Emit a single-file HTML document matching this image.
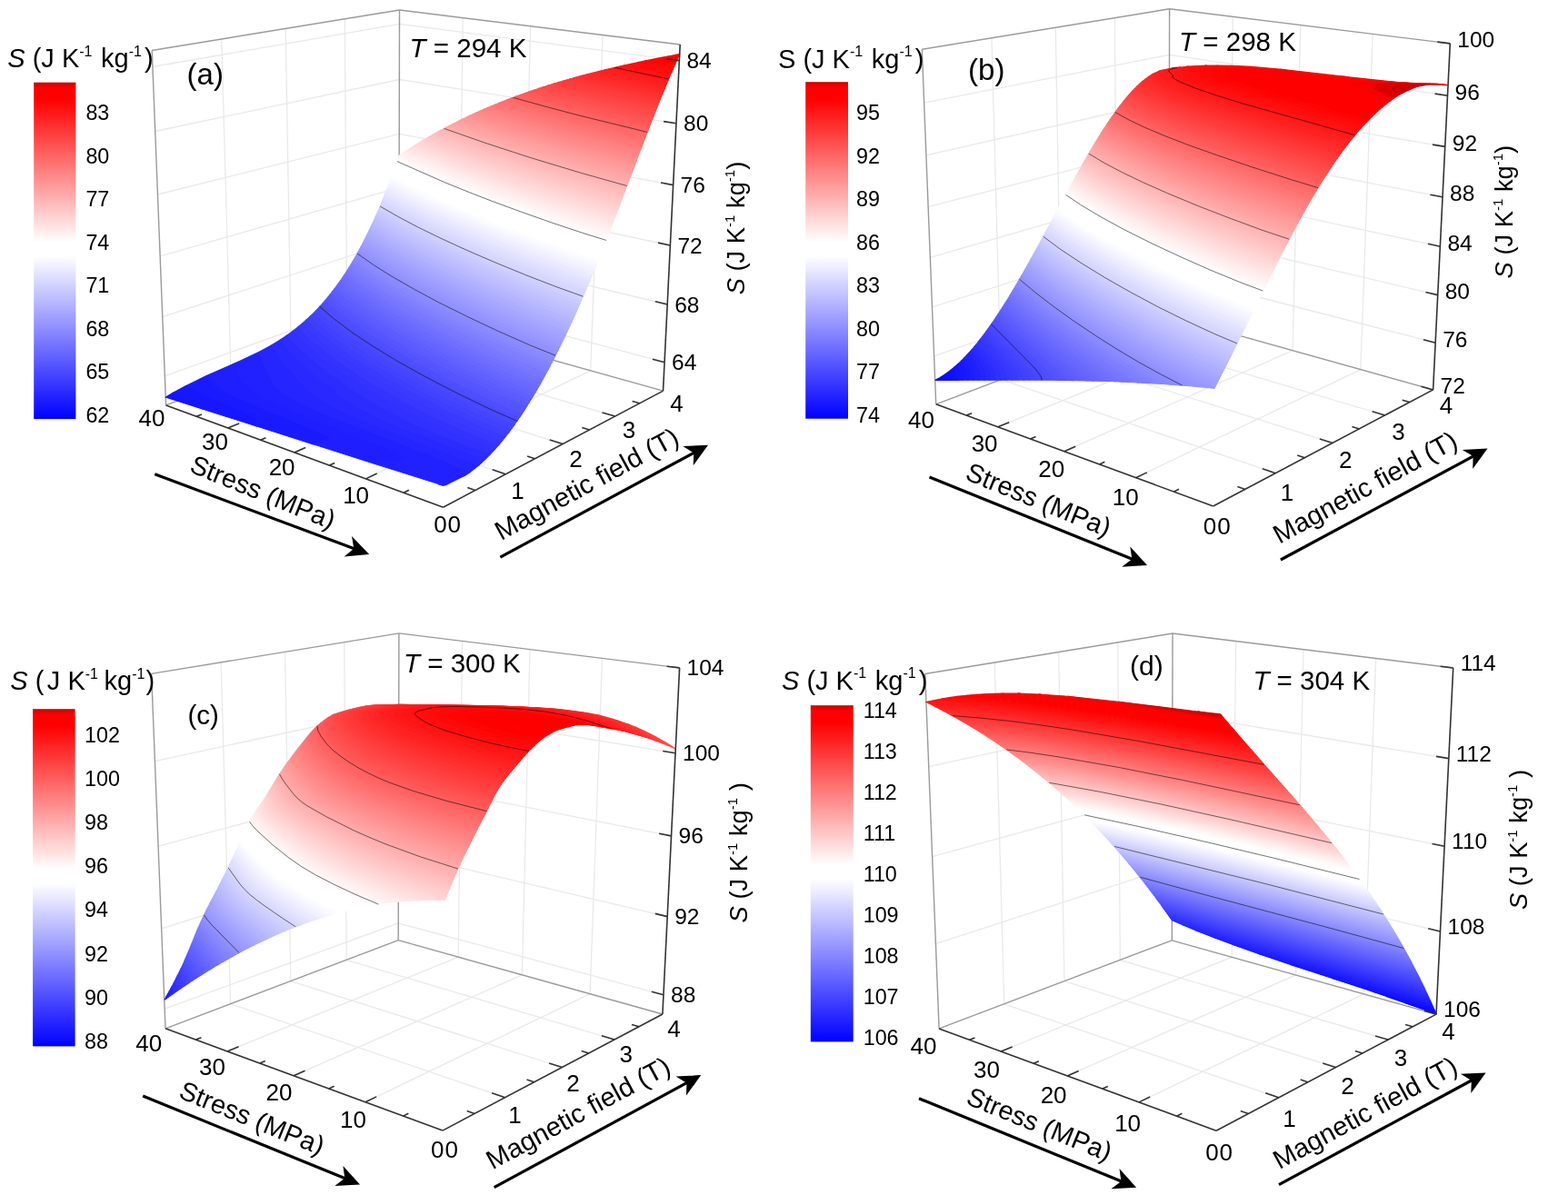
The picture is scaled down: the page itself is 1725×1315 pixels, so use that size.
<!DOCTYPE html>
<html><head><meta charset="utf-8"><style>
html,body{margin:0;padding:0;background:#fff;}
svg{display:block;}
text{font-family:'Liberation Sans',Arial,sans-serif;fill:#000;}
</style></head><body>
<svg width="1725" height="1315" viewBox="0 0 1725 1315">
<rect width="1725" height="1315" fill="#fff"/>
<g id="pa">
<line x1="254.2" y1="418.8" x2="243.8" y2="43" stroke="#e9e9e9" stroke-width="1.3"/>
<line x1="649.7" y1="407.8" x2="663.1" y2="38.5" stroke="#e9e9e9" stroke-width="1.3"/>
<line x1="402.5" y1="526.9" x2="649.7" y2="407.8" stroke="#e9e9e9" stroke-width="1.3"/>
<line x1="556.2" y1="521.8" x2="254.2" y2="418.8" stroke="#e9e9e9" stroke-width="1.3"/>
<line x1="320.4" y1="393.7" x2="314.2" y2="31.5" stroke="#e9e9e9" stroke-width="1.3"/>
<line x1="575" y1="386.9" x2="583.6" y2="28.7" stroke="#e9e9e9" stroke-width="1.3"/>
<line x1="323.7" y1="497.9" x2="575" y2="386.9" stroke="#e9e9e9" stroke-width="1.3"/>
<line x1="619" y1="488.6" x2="320.4" y2="393.7" stroke="#e9e9e9" stroke-width="1.3"/>
<line x1="381.8" y1="370.4" x2="379.3" y2="20.8" stroke="#e9e9e9" stroke-width="1.3"/>
<line x1="504.8" y1="367.2" x2="509.2" y2="19.6" stroke="#e9e9e9" stroke-width="1.3"/>
<line x1="250.7" y1="471" x2="504.8" y2="367.2" stroke="#e9e9e9" stroke-width="1.3"/>
<line x1="676.6" y1="458.1" x2="381.8" y2="370.4" stroke="#e9e9e9" stroke-width="1.3"/>
<line x1="181.3" y1="413.8" x2="438.9" y2="320.8" stroke="#e9e9e9" stroke-width="1.3"/>
<line x1="438.9" y1="320.8" x2="731.1" y2="398.7" stroke="#e9e9e9" stroke-width="1.3"/>
<line x1="178.8" y1="348.6" x2="439" y2="264" stroke="#e9e9e9" stroke-width="1.3"/>
<line x1="439" y1="264" x2="734.2" y2="335" stroke="#e9e9e9" stroke-width="1.3"/>
<line x1="176.1" y1="282" x2="439.1" y2="206.3" stroke="#e9e9e9" stroke-width="1.3"/>
<line x1="439.1" y1="206.3" x2="737.4" y2="270" stroke="#e9e9e9" stroke-width="1.3"/>
<line x1="173.5" y1="214" x2="439.2" y2="147.4" stroke="#e9e9e9" stroke-width="1.3"/>
<line x1="439.2" y1="147.4" x2="740.6" y2="203.6" stroke="#e9e9e9" stroke-width="1.3"/>
<line x1="170.7" y1="144.5" x2="439.3" y2="87.5" stroke="#e9e9e9" stroke-width="1.3"/>
<line x1="439.3" y1="87.5" x2="744" y2="135.8" stroke="#e9e9e9" stroke-width="1.3"/>
<line x1="167.9" y1="73.5" x2="439.5" y2="26.4" stroke="#e9e9e9" stroke-width="1.3"/>
<line x1="439.5" y1="26.4" x2="747.4" y2="66.6" stroke="#e9e9e9" stroke-width="1.3"/>
<line x1="182.6" y1="445.9" x2="167.2" y2="55.5" stroke="#9a9a9a" stroke-width="1.4"/>
<line x1="438.8" y1="348.8" x2="439.5" y2="11" stroke="#9a9a9a" stroke-width="1.4"/>
<line x1="167.2" y1="55.5" x2="439.5" y2="11" stroke="#9a9a9a" stroke-width="1.4"/>
<line x1="439.5" y1="11" x2="748.2" y2="49" stroke="#9a9a9a" stroke-width="1.4"/>
<line x1="182.6" y1="445.9" x2="438.8" y2="348.8" stroke="#9a9a9a" stroke-width="1.4"/>
<line x1="438.8" y1="348.8" x2="729.5" y2="430.1" stroke="#9a9a9a" stroke-width="1.4"/>
<path fill="#1414ff" stroke="#1414ff" stroke-width="1.1" d="M223.3 450.2L182.3 437.1L190.4 432.2L209.9 440.8L223.3 450.2Z"/>
<path fill="#1717ff" stroke="#1717ff" stroke-width="1.1" d="M282.1 468.9L223.3 450.2L209.9 440.8L190.4 432.2L204.8 424.4L226.9 435.5L282.8 459.4L283.4 462L281.1 464.4L282.1 468.9Z"/>
<path fill="#1a1aff" stroke="#1a1aff" stroke-width="1.1" d="M364.3 481.4L344.5 488.8L282.1 468.9L281.1 464.4L283.4 462L282.8 459.4L226.9 435.5L204.8 424.4L227.2 413.5L231.1 419.2L236.9 424.2L245.3 429.7L256.3 435.5L277.7 445.2L340.7 470.8L364.3 481.4Z"/>
<path fill="#1e1eff" stroke="#1e1eff" stroke-width="1.1" d="M449.6 504.8L441.4 506.2L431.9 509.2L426.2 510L411 510L344.5 488.8L364.3 481.4L340.7 470.8L277.7 445.2L256.3 435.5L245.3 429.7L236.9 424.2L231.1 419.2L227.2 413.5L261.7 398.3L261.8 409.9L263 414.3L265 418.4L267.9 422.2L272.6 426.6L285.9 435.4L298.9 442.1L316.3 449.9L413.5 488.5L433.8 497.2L449.6 504.8Z"/>
<path fill="#2121ff" stroke="#2121ff" stroke-width="1.1" d="M512.5 522.7L490.5 533.6L483.9 532.9L411 510L426.2 510L431.9 509.2L441.4 506.2L449.6 504.8L433.8 497.2L413.5 488.5L316.3 449.9L298.9 442.1L285.9 435.4L272.6 426.6L267.9 422.2L265 418.4L263 414.3L261.8 409.9L261.7 398.3L284.6 387.5L295 411.7L300.2 420.9L304.2 425.7L309 430.2L321.1 438.6L337.4 447.1L360.2 457.2L473.8 501.1L499.4 511.8L516.7 519.8L512.5 522.7Z"/>
<path fill="#2525ff" stroke="#2525ff" stroke-width="1.1" d="M487.7 534.5L482.1 532.7L490.5 533.6L487.7 534.5ZM523.2 514.8L516.7 519.8L499.4 511.8L473.8 501.1L363.6 458.6L343.5 450L328.1 442.5L312.4 432.8L306 427.5L301.7 422.8L295.5 412.8L284.6 387.5L298.2 380.1L315.9 403.7L326.9 416.7L335.7 426.2L342.8 432.6L349.7 437.9L366.2 447.8L385.3 457L409.9 467.3L526.8 511.9L523.2 514.8Z"/>
<path fill="#2828ff" stroke="#2828ff" stroke-width="1.1" d="M530 509L526.8 511.9L406.3 465.8L380.3 454.7L361.8 445.4L346.1 435.3L333.9 424.3L314.4 401.8L298.2 380.1L308 374.1L315.9 383.6L325.7 393.9L349.3 415.6L375 435.9L385.2 442.8L396.4 449.5L415.3 459.2L440 469.9L533.7 505.5L530 509Z"/>
<path fill="#2c2cff" stroke="#2c2cff" stroke-width="1.1" d="M535.4 503.9L533.7 505.5L453.1 475.1L419.5 461.1L395 448.7L383.9 441.9L373.8 435L348.3 414.7L325.7 393.9L315.9 383.6L308 374.1L315.7 369L324.2 378.1L334.5 388.1L358.6 408.1L388.1 429.2L418.2 447.8L440.3 459.6L464.1 470.6L492.5 482.1L539.3 499.9L535.4 503.9Z"/>
<path fill="#3030ff" stroke="#3030ff" stroke-width="1.1" d="M540 499.2L539.3 499.9L492.5 482.1L465.9 471.4L439.9 459.4L415.2 446.1L385.6 427.5L357.5 407.3L333.6 387.3L324.2 378.1L315.7 369L322.2 364.3L337 378.9L355.5 394.4L376.7 410L401.8 426.4L434.5 445.5L468.1 462.8L502.3 478.1L544.2 494.7L540 499.2Z"/>
<path fill="#3333ff" stroke="#3333ff" stroke-width="1.1" d="M547.9 490.5L544.2 494.7L512 482.1L489.3 472.5L469.8 463.6L448.4 452.9L428.7 442.3L395.2 422.3L366.3 402.6L341.6 383L330.9 373.2L322.2 364.3L327.8 359.9L336.7 368.7L346.6 377.6L370.4 396L399.2 415.4L432.2 435L456.6 448.2L483 461.3L515.3 476L548.6 489.8L547.9 490.5Z"/>
<path fill="#3737ff" stroke="#3737ff" stroke-width="1.1" d="M551.3 486.5L548.6 489.8L513.4 475.2L471.2 455.6L429.3 433.4L397.9 414.6L369.2 395.2L345.7 376.8L327.8 359.9L332.8 355.8L350.9 372.4L374.6 390.7L402.2 409L433.4 427.6L462 443.1L491.5 457.9L521.8 471.9L552.5 485L551.3 486.5Z"/>
<path fill="#3a3aff" stroke="#3a3aff" stroke-width="1.1" d="M554.6 482.5L552.5 485L510.8 467L468.4 446.4L429.1 425.2L398.4 406.6L372.4 389.1L349.9 371.6L332.8 355.8L337.2 351.8L354.6 367.5L377.2 384.8L403.2 402.2L433.9 420.6L463.5 436.8L494.3 452.4L525.8 467.3L556.2 480.4L554.6 482.5Z"/>
<path fill="#3e3eff" stroke="#3e3eff" stroke-width="1.1" d="M557.6 478.7L556.2 480.4L509.7 459.8L468.2 439.3L431.1 419L401.9 401.4L376.1 384L354.6 367.5L337.2 351.8L341.3 348L357.8 362.8L379.2 379.1L405 396.4L434 413.8L463.1 429.9L494.9 446.3L529.5 462.8L559.7 476L557.6 478.7Z"/>
<path fill="#4141ff" stroke="#4141ff" stroke-width="1.1" d="M560.5 474.9L559.7 476L553.8 473.5L505 451.2L467.7 432.4L432.6 413L403.7 395.6L379.2 379.1L357.8 362.8L341.3 348L345.1 344.4L359.8 357.5L376.7 370.6L396.8 384.5L420.4 399.4L453.5 418.4L488.7 437.1L527.6 456L562.9 471.6L560.5 474.9Z"/>
<path fill="#4545ff" stroke="#4545ff" stroke-width="1.1" d="M563.2 471.2L562.9 471.6L542.1 462.6L501.8 443.6L466.9 425.7L433.7 407.3L406.4 390.7L382.1 374.4L361.7 359L345.1 344.4L348.6 340.8L362.4 353L379.3 366L399.3 379.8L421.4 393.8L454.2 412.8L490.6 432.1L530.9 451.8L566 467.4L563.2 471.2Z"/>
<path fill="#4848ff" stroke="#4848ff" stroke-width="1.1" d="M568.3 464L566 467.4L543.4 457.6L493.8 433.7L448.4 409.6L417.6 391.5L390.1 373.7L367.1 356.8L348.6 340.8L351.8 337.3L369.5 352.5L392.4 369.2L419.7 386.9L450.8 405.1L501.8 432.1L537.5 449.3L568.9 463.2L568.3 464Z"/>
<path fill="#4c4cff" stroke="#4c4cff" stroke-width="1.1" d="M570.8 460.5L568.9 463.2L539.2 450.1L492.2 427.2L449 404.1L418.4 386.1L392.4 369.2L369.5 352.5L351.8 337.3L354.9 333.9L372.7 349L394.4 364.8L420.4 381.6L450.7 399.4L479.8 415.2L511.4 431.3L543.9 446.9L571.7 459.1L570.8 460.5Z"/>
<path fill="#4f4fff" stroke="#4f4fff" stroke-width="1.1" d="M573.1 457.1L571.7 459.1L535.1 442.8L492.1 421.6L450.7 399.4L420.4 381.6L394.4 364.8L372.7 349L354.9 333.9L357.8 330.6L374.7 344.8L396.3 360.5L422.1 377.1L450.9 394.1L481.2 410.6L512.6 426.6L546.7 442.9L574.4 455.1L573.1 457.1Z"/>
<path fill="#5353ff" stroke="#5353ff" stroke-width="1.1" d="M575.4 453.6L574.4 455.1L572.5 454.3L529.3 434.7L488.8 414.6L450.9 394.1L422.1 377.1L396.3 360.5L374.7 344.8L357.8 330.6L360.5 327.3L377.5 341.4L398.1 356.3L422.5 372L451 388.9L482.5 406L515.3 422.8L549.3 439L577 451.1L575.4 453.6Z"/>
<path fill="#5656ff" stroke="#5656ff" stroke-width="1.1" d="M577.6 450.2L577 451.1L567.5 447.1L523.6 426.8L485.5 407.6L451 388.9L422.5 372L398.1 356.3L377.5 341.4L360.5 327.3L363.1 324.1L380.1 338.1L400.8 352.8L425.2 368.5L452.4 384.5L483.7 401.5L516.3 418.2L551.9 435.1L579.6 447.2L577.6 450.2Z"/>
<path fill="#5a5aff" stroke="#5a5aff" stroke-width="1.1" d="M579.7 446.9L575.7 445.6L557.2 437.5L518 419L483.7 401.5L451 383.7L424 367.8L399.7 352.1L379.2 337.3L363.1 324.1L365.6 320.9L384.6 336.3L407.8 352.4L436.6 370.3L468.8 388.6L496.8 403.3L527 418.4L557.9 432.9L582 443.3L579.7 446.9Z"/>
<path fill="#5d5dff" stroke="#5d5dff" stroke-width="1.1" d="M583.8 440.3L582 443.3L557.9 432.9L510.9 410.4L466 387L434.1 368.8L406.7 351.7L383.7 335.5L365.6 320.9L368 317.8L386.1 332.3L409.2 348.3L436.6 365.3L467.1 382.7L518.1 409.1L555 426.7L584.4 439.4L583.8 440.3Z"/>
<path fill="#6161ff" stroke="#6161ff" stroke-width="1.1" d="M585.8 437L584.4 439.4L555 426.7L510.2 405.2L467.1 382.7L436.6 365.3L409.2 348.3L386.1 332.3L368 317.8L370.3 314.7L388.5 329.1L410.5 344.3L436.5 360.5L466.7 377.7L497.1 393.8L528.6 409.4L560.9 424.5L586.7 435.6L585.8 437Z"/>
<path fill="#6464ff" stroke="#6464ff" stroke-width="1.1" d="M587.8 433.8L586.7 435.6L548.7 418.9L506.3 398.4L466.7 377.7L436.5 360.5L410.5 344.3L388.5 329.1L370.3 314.7L372.5 311.6L389.8 325.2L411.7 340.3L437.5 356.4L466.3 372.7L496.4 388.7L529.2 405L563.1 420.8L588.9 431.8L587.8 433.8Z"/>
<path fill="#6868ff" stroke="#6868ff" stroke-width="1.1" d="M589.7 430.6L588.9 431.8L587 431.1L544.1 412.1L504 392.5L466.3 372.7L437.5 356.4L411.7 340.3L389.8 325.2L372.5 311.6L374.7 308.6L391.9 322.1L412.8 336.4L437.3 351.6L465.8 367.8L497.2 384.4L529.8 400.6L563.6 416.3L591.1 428.1L589.7 430.6Z"/>
<path fill="#6b6bff" stroke="#6b6bff" stroke-width="1.1" d="M591.5 427.4L591.1 428.1L579.8 423.4L538 404.5L500.2 385.9L465.8 367.8L437.3 351.6L412.8 336.4L391.9 322.1L374.7 308.6L376.7 305.6L393.1 318.3L413.8 332.5L438.3 347.6L465.3 362.9L496.4 379.4L530.4 396.3L565.7 412.7L593.2 424.4L591.5 427.4Z"/>
<path fill="#6f6fff" stroke="#6f6fff" stroke-width="1.1" d="M593.3 424.2L569.3 414.3L532 397L497.9 380.2L465.3 362.9L438.3 347.6L413.8 332.5L393.1 318.3L376.7 305.6L378.7 302.6L398.1 317.3L421.5 332.9L450.4 350.1L482.6 367.7L512.1 382.8L542.3 397.4L571.4 410.6L595.3 420.7L593.3 424.2Z"/>
<path fill="#7272ff" stroke="#7272ff" stroke-width="1.1" d="M596.9 418L595.3 420.7L571.4 410.6L526.1 389.7L481.2 367L449.1 349.4L421.5 332.9L398.1 317.3L378.7 302.6L380.6 299.7L399.1 313.6L422.4 329L449.9 345.4L480.5 362.2L509.6 377.1L541.1 392.3L573.4 407L597.4 417L596.9 418Z"/>
<path fill="#7676ff" stroke="#7676ff" stroke-width="1.1" d="M598.6 414.8L597.4 417L566.4 403.9L523.4 383.9L480.5 362.2L449.9 345.4L422.4 329L399.1 313.6L380.6 299.7L382.5 296.8L401 310.6L423.2 325.2L449.4 340.8L479.7 357.4L510.1 372.9L541.5 388L573.7 402.7L599.4 413.4L598.6 414.8Z"/>
<path fill="#7979ff" stroke="#7979ff" stroke-width="1.1" d="M600.3 411.7L599.4 413.4L561.5 397.3L519.2 377.4L479.7 357.4L449.4 340.8L423.2 325.2L401 310.6L382.5 296.8L384.3 293.9L401.9 306.9L424 321.4L450.1 336.9L478.9 352.6L509.1 368L541.8 383.8L575.6 399.1L601.3 409.8L600.3 411.7Z"/>
<path fill="#7d7dff" stroke="#7d7dff" stroke-width="1.1" d="M601.9 408.7L601.3 409.8L597.5 408.3L555 389.9L516.6 371.8L478.9 352.6L450.1 336.9L424 321.4L401.9 306.9L384.3 293.9L386.1 291L403.7 303.9L424.8 317.7L449.5 332.3L478.1 347.9L509.5 364L542.1 379.6L575.8 394.8L603.3 406.2L601.9 408.7Z"/>
<path fill="#8080ff" stroke="#8080ff" stroke-width="1.1" d="M603.6 405.6L603.3 406.2L590.1 400.9L550.3 383.4L512.5 365.4L478.1 347.9L449.5 332.3L424.8 317.7L403.7 303.9L386.1 291L387.8 288.1L404.5 300.3L425.5 313.9L450.1 328.5L477.3 343.3L508.4 359.2L542.4 375.5L577.7 391.3L605.2 402.6L603.6 405.6Z"/>
<path fill="#8484ff" stroke="#8484ff" stroke-width="1.1" d="M605.2 402.6L579.5 392.1L544 376.2L509.9 359.9L477.3 343.3L450.1 328.5L425.5 313.9L404.5 300.3L387.8 288.1L389.5 285.3L409.2 299.4L434 315L462 330.9L494.3 347.9L523.8 362.4L554 376.5L583.1 389.3L607 399.1L605.2 402.6Z"/>
<path fill="#8888ff" stroke="#8888ff" stroke-width="1.1" d="M608.3 396.5L607 399.1L583.1 389.3L537.9 369.1L492.9 347.2L460.7 330.2L432.9 314.3L409.2 299.4L389.5 285.3L391.1 282.5L409.9 295.8L433.5 310.6L461.2 326.4L491.9 342.6L521.1 356.9L552.6 371.7L584.9 385.9L608.8 395.6L608.3 396.5Z"/>
<path fill="#8b8bff" stroke="#8b8bff" stroke-width="1.1" d="M609.9 393.5L608.8 395.6L577.9 382.9L535 363.5L491.9 342.6L461.2 326.4L433.5 310.6L409.9 295.8L391.1 282.5L392.7 279.6L411.5 292.9L434 307L460.4 321.9L490.9 338L521.3 352.9L552.7 367.5L585 381.7L610.6 392L609.9 393.5Z"/>
<path fill="#8f8fff" stroke="#8f8fff" stroke-width="1.1" d="M611.4 390.5L610.6 392L571.1 375.7L530.5 357.3L490.9 338L460.4 321.9L434 307L411.5 292.9L392.7 279.6L394.2 276.8L412.1 289.3L434.6 303.3L460.8 318.2L489.8 333.4L520.1 348.2L552.9 363.5L586.7 378.2L612.4 388.5L611.4 390.5Z"/>
<path fill="#9292ff" stroke="#9292ff" stroke-width="1.1" d="M612.9 387.5L612.4 388.5L606.7 386.4L566.1 369.3L527.7 351.8L489.8 333.4L460.8 318.2L434.6 303.3L412.1 289.3L394.2 276.8L395.8 274.1L413.7 286.5L435.1 299.7L460 313.8L488.8 328.8L520.3 344.3L553 359.4L586.7 374.1L614.2 385.1L612.9 387.5Z"/>
<path fill="#9696ff" stroke="#9696ff" stroke-width="1.1" d="M614.4 384.6L614.2 385.1L599.2 379.2L559.5 362.3L523.3 345.7L488.8 328.8L460 313.8L435.1 299.7L413.7 286.5L395.8 274.1L397.2 271.3L415.3 283.6L435.5 296.1L460.4 310.1L487.7 324.3L519 339.7L553.1 355.4L588.4 370.7L615.9 381.6L614.4 384.6Z"/>
<path fill="#9999ff" stroke="#9999ff" stroke-width="1.1" d="M617.3 378.7L615.9 381.6L597.3 374.3L551.5 354.6L504.5 332.6L471.8 316.1L442.4 300.1L417.3 284.9L397.2 271.3L398.7 268.5L418.8 282.1L442.8 296.4L470.8 311.7L503.3 328.1L556.4 352.8L590.1 367.3L617.6 378.2L617.3 378.7Z"/>
<path fill="#9d9dff" stroke="#9d9dff" stroke-width="1.1" d="M618.8 375.7L617.6 378.2L593.7 368.7L548.4 349.2L503.3 328.1L470.8 311.7L442.8 296.4L418.8 282.1L398.7 268.5L400.1 265.8L419.3 278.6L443.2 292.9L471.1 308.1L502 323.6L562.9 351.7L595.3 365.4L619.3 374.7L618.8 375.7Z"/>
<path fill="#a0a0ff" stroke="#a0a0ff" stroke-width="1.1" d="M620.2 372.8L619.3 374.7L588.3 362.5L545.3 343.8L502 323.6L471.1 308.1L443.2 292.9L419.3 278.6L400.1 265.8L401.5 263L420.7 275.8L443.5 289.3L470.1 303.7L500.8 319.1L531.4 333.6L562.9 347.7L595.2 361.3L620.9 371.3L620.2 372.8Z"/>
<path fill="#a4a4ff" stroke="#a4a4ff" stroke-width="1.1" d="M621.6 369.9L620.9 371.3L581.3 355.5L540.6 337.8L500.8 319.1L470.1 303.7L443.5 289.3L420.7 275.8L401.5 263L402.9 260.3L422.2 273L443.9 285.8L470.4 300.1L499.6 314.7L530 329L562.9 343.7L596.8 357.9L622.5 367.9L621.6 369.9Z"/>
<path fill="#a7a7ff" stroke="#a7a7ff" stroke-width="1.1" d="M623 367L622.5 367.9L616.9 365.8L576.2 349.4L537.6 332.5L499.6 314.7L470.4 300.1L443.9 285.8L422.2 273L402.9 260.3L404.2 257.6L422.5 269.5L444.2 282.2L469.4 295.8L498.4 310.3L530.1 325.2L563.4 340L596.7 353.9L624.1 364.5L623 367Z"/>
<path fill="#ababff" stroke="#ababff" stroke-width="1.1" d="M624.3 364.1L624.1 364.5L622.2 363.8L603.8 356.7L561.2 339L521.1 321.1L484.9 303.7L451.1 286.1L423.6 270.2L404.2 257.6L405.5 254.9L420.9 264.9L438.9 275.6L482.4 298.7L516.9 315.3L554.8 332.3L594.8 349.1L625.7 361.1L624.3 364.1Z"/>
<path fill="#aeaeff" stroke="#aeaeff" stroke-width="1.1" d="M627 358.3L625.7 361.1L609 354.8L562.8 335.8L515.4 314.6L482.4 298.7L452.6 283.2L427 268.6L405.5 254.9L406.8 252.2L427.3 265.2L451.6 279L480 293.8L512.6 309.5L564.4 332.6L599.8 347.3L627.3 357.7L627 358.3Z"/>
<path fill="#b2b2ff" stroke="#b2b2ff" stroke-width="1.1" d="M628.4 355.4L627.3 357.7L592.8 344.4L543.8 323.7L497.3 302.2L460 283.5L429.4 266.5L406.8 252.2L408.1 249.5L425.6 260.6L446.1 272.4L470 285L496 297.9L528.6 313.1L564.3 328.7L599.6 343.3L628.9 354.4L628.4 355.4Z"/>
<path fill="#b5b5ff" stroke="#b5b5ff" stroke-width="1.1" d="M629.7 352.6L628.9 354.4L585.8 337.7L539.2 317.8L496 297.9L460.2 279.9L429.7 263.1L408.1 249.5L409.3 246.9L426.9 257.8L446.3 268.9L468.9 280.8L494.7 293.6L528.6 309.3L564.2 324.8L601.1 340L630.4 351L629.7 352.6Z"/>
<path fill="#b9b9ff" stroke="#b9b9ff" stroke-width="1.1" d="M631 349.7L630.4 351L626.6 349.7L580.6 331.7L536.1 312.7L494.7 293.6L459.1 275.8L430 259.7L409.3 246.9L410.6 244.2L427.2 254.5L446.6 265.5L493.5 289.4L527.1 304.9L564 321L602.7 336.7L631.9 347.7L631 349.7Z"/>
<path fill="#bcbcff" stroke="#bcbcff" stroke-width="1.1" d="M632.3 346.9L631.9 347.7L620.6 343.6L573.8 325L531.6 306.9L493.5 289.4L459.3 272.3L430.3 256.3L410.6 244.2L411.8 241.5L428.4 251.8L446.7 262.1L492.2 285.1L527.1 301.2L563.9 317.1L602.4 332.8L633.4 344.4L632.3 346.9Z"/>
<path fill="#c0c0ff" stroke="#c0c0ff" stroke-width="1.1" d="M633.6 344L631.5 343.7L611.2 336.2L568.7 319.1L530.1 302.5L493.5 285.8L459.5 268.9L430.5 253L411.8 241.5L413 238.9L429.7 249L448 259.3L490.9 280.9L525.6 296.9L563.8 313.3L603.9 329.5L634.9 341L633.6 344Z"/>
<path fill="#c3c3ff" stroke="#c3c3ff" stroke-width="1.1" d="M636.1 338.4L634.9 341L607.4 330.9L555.8 310L507.1 288.5L469.3 270.3L437 253.2L413 238.9L414.1 236.2L433 247.5L453.9 258.9L478.1 271.2L504.4 283.6L563.6 309.5L603.6 325.6L636.4 337.7L636.1 338.4Z"/>
<path fill="#c7c7ff" stroke="#c7c7ff" stroke-width="1.1" d="M637.4 335.5L636.4 337.7L601.8 324.9L552.6 304.9L505.8 284.3L468.1 266.2L437.2 249.9L414.1 236.2L415.3 233.6L433.2 244.2L454 255.5L503 279.4L537.2 294.7L573.1 309.7L608.5 323.7L637.8 334.4L637.4 335.5Z"/>
<path fill="#cacaff" stroke="#cacaff" stroke-width="1.1" d="M638.6 332.7L637.8 334.4L594.7 318.3L547.8 299.2L504.4 280.1L468.2 262.8L437.4 246.6L415.3 233.6L416.4 231L434.4 241.5L454.1 252.2L501.6 275.3L535.6 290.4L572.8 305.9L610 320.5L639.3 331.1L638.6 332.7Z"/>
<path fill="#ceceff" stroke="#ceceff" stroke-width="1.1" d="M639.8 329.9L639.3 331.1L635.4 329.8L589.3 312.5L544.6 294.2L503 275.9L467.1 258.8L436.5 242.7L416.4 231L417.6 228.3L454.2 248.8L500.2 271.1L535.5 286.7L572.6 302.1L611.4 317.3L640.7 327.8L639.8 329.9Z"/>
<path fill="#d1d1ff" stroke="#d1d1ff" stroke-width="1.1" d="M641 327.1L640.7 327.8L629.4 323.9L582.4 306L540 288.6L501.6 271.7L467.1 255.3L436.6 239.4L417.6 228.3L418.7 225.7L455.4 246L498.9 267L533.9 282.4L572.4 298.4L611 313.4L642.1 324.6L641 327.1Z"/>
<path fill="#d5d5ff" stroke="#d5d5ff" stroke-width="1.1" d="M642.3 324.3L618.1 316L575.6 299.6L536.9 283.7L500.2 267.6L465.9 251.3L436.7 236.1L418.7 225.7L419.7 223.1L455.5 242.7L497.5 262.9L532.3 278.2L570.5 294L610.7 309.5L643.6 321.3L642.3 324.3Z"/>
<path fill="#d8d8ff" stroke="#d8d8ff" stroke-width="1.1" d="M644.7 318.7L643.6 321.3L616 311.5L564.2 291.4L515.2 270.8L476.9 253.3L444.3 236.9L419.7 223.1L420.8 220.5L441.2 231.9L462.5 242.8L512.3 266L570.3 290.3L612.1 306.4L644.9 318L644.7 318.7Z"/>
<path fill="#dcdcff" stroke="#dcdcff" stroke-width="1.1" d="M645.8 316L644.9 318L610.3 305.7L560.8 286.4L513.7 266.6L475.7 249.3L443.3 233L420.8 220.5L421.9 217.9L441.2 228.6L462.5 239.5L510.8 261.9L543.8 275.9L579.7 290.3L616.9 304.5L646.3 314.8L645.8 316Z"/>
<path fill="#dfdfff" stroke="#dfdfff" stroke-width="1.1" d="M647 313.2L646.3 314.8L603 299.3L555.9 280.9L512.2 262.5L475.7 245.9L443.4 229.7L421.9 217.9L422.9 215.3L462.5 236.2L509.3 257.8L543.6 272.3L579.4 286.6L617.3 300.9L647.7 311.6L647 313.2Z"/>
<path fill="#e3e3ff" stroke="#e3e3ff" stroke-width="1.1" d="M648.2 310.4L647.7 311.6L643.9 310.3L597.6 293.6L552.6 276L510.7 258.4L474.4 241.9L442.4 225.9L422.9 215.3L423.9 212.7L462.5 232.9L507.8 253.7L541.9 268.1L579.1 282.9L617.9 297.5L649.1 308.3L648.2 310.4Z"/>
<path fill="#e7e7ff" stroke="#e7e7ff" stroke-width="1.1" d="M649.3 307.7L649.1 308.3L637.7 304.5L590.5 287.3L547.9 270.6L509.2 254.3L473.2 238L442.4 222.7L423.9 212.7L425 210.1L462.5 229.6L506.3 249.7L541.7 264.6L578.8 279.2L619.2 294.3L650.4 305.1L649.3 307.7Z"/>
<path fill="#eaeaff" stroke="#eaeaff" stroke-width="1.1" d="M650.5 304.9L624.5 296.2L582 280.5L543.2 265.2L507.7 250.3L471.9 234.1L441.4 218.9L425 210.1L426 207.6L463.6 226.9L504.9 245.7L540 260.4L578.5 275.6L618.8 290.5L651.8 301.9L650.5 304.9Z"/>
<path fill="#eeeeff" stroke="#eeeeff" stroke-width="1.1" d="M652.8 299.4L651.8 301.9L625.9 293.1L573.6 273.7L524.1 253.9L485.4 237L451.1 220.7L426 207.6L427 205L470.6 226.9L521.1 249.2L578.1 271.9L620.1 287.4L653.1 298.6L652.8 299.4Z"/>
<path fill="#f1f1ff" stroke="#f1f1ff" stroke-width="1.1" d="M653.9 296.7L653.1 298.6L620.1 287.4L570.2 268.9L522.5 249.8L484 233.1L450 216.9L427 205L427.9 202.4L470.6 223.6L519.5 245.2L552.9 258.7L589.1 272.5L624.9 285.5L654.4 295.4L653.9 296.7Z"/>
<path fill="#f5f5ff" stroke="#f5f5ff" stroke-width="1.1" d="M655 293.9L654.4 295.4L612.7 281.2L565.2 263.4L520.9 245.8L482.7 229.2L448.9 213.2L427.9 202.4L428.9 199.9L471.7 220.9L518 241.2L552.6 255.1L588.8 268.9L626.2 282.4L655.7 292.2L655 293.9Z"/>
<path fill="#f8f8ff" stroke="#f8f8ff" stroke-width="1.1" d="M656.1 291.2L655.7 292.2L651.8 291L603.7 274.4L558.7 257.5L518 241.2L480.1 224.8L446.7 208.9L428.9 199.9L429.9 197.3L470.4 217.1L515 236.6L549.3 250.4L586.7 264.6L625.7 278.6L657 289L656.1 291.2Z"/>
<path fill="#fcfcff" stroke="#fcfcff" stroke-width="1.1" d="M657.2 288.5L657 289L643.8 284.8L596.6 268.2L555.3 252.8L516.4 237.2L478.8 220.9L445.6 205.2L429.9 197.3L430.8 194.7L471.5 214.4L513.5 232.6L549 246.9L586.4 261L627 275.5L658.3 285.8L657.2 288.5Z"/>
<path fill="#ffffff" stroke="#ffffff" stroke-width="1.1" d="M658.3 285.7L630.6 276.7L589.6 262.2L550.5 247.5L514.8 233.2L477.5 217.1L443.4 201L430.8 194.7L431.8 192.2L479.8 214.9L532.7 237.1L599.1 262.1L659.6 282.7L658.3 285.7Z"/>
<path fill="#ffffff" stroke="#ffffff" stroke-width="1.1" d="M660.5 280.3L659.6 282.7L633.6 274.2L581.1 255.6L531.3 236.5L491 219.8L455.3 203.7L431.8 192.2L432.7 189.6L479.7 211.7L528.2 232L597 257.9L660.8 279.5L660.5 280.3Z"/>
<path fill="#ffffff" stroke="#ffffff" stroke-width="1.1" d="M661.6 277.6L660.8 279.5L627.8 268.7L577.6 250.9L529.6 232.5L489.6 216L454.1 200L432.7 189.6L433.6 187.1L479.6 208.4L526.6 228L596.6 254.3L632.6 266.8L662.1 276.3L661.6 277.6Z"/>
<path fill="#ffffff" stroke="#ffffff" stroke-width="1.1" d="M662.7 274.9L662.1 276.3L620.3 262.6L572.5 245.6L528 228.6L488.2 212.2L451.8 195.8L433.6 187.1L434.5 184.5L479.4 205.2L524.9 224.1L596.2 250.7L633.8 263.7L663.4 273.1L662.7 274.9Z"/>
<path fill="#ffffff" stroke="#ffffff" stroke-width="1.1" d="M663.8 272.2L663.4 273.1L659.5 272L612.9 256.6L567.5 240.3L526.3 224.6L486.8 208.4L449.5 191.6L434.5 184.5L435.4 182L480.5 202.5L523.3 220.1L558 233.4L595.7 247.1L633.3 260L664.6 270L663.8 272.2Z"/>
<path fill="#ffffff" stroke="#ffffff" stroke-width="1.1" d="M664.8 269.5L664.6 270L651.1 265.8L604 250L562.5 235.1L524.7 220.7L480.5 202.5L435.4 182L436.3 179.5L480.3 199.2L521.6 216.2L557.6 230L595.3 243.5L634.5 256.9L665.9 266.8L664.8 269.5Z"/>
<path fill="#ffffff" stroke="#ffffff" stroke-width="1.1" d="M665.9 266.8L636.3 257.5L596.9 244.1L559.1 230.5L523 216.8L481.5 199.8L436.3 179.5L437.2 176.9L490 200.2L542.5 221L608.1 244.5L667.1 263.7L665.9 266.8Z"/>
<path fill="#fffcfc" stroke="#fffcfc" stroke-width="1.1" d="M668 261.4L667.1 263.7L644.7 256.7L591.6 238.8L541.1 220.5L498.9 203.9L460.3 187.3L437.2 176.9L438 174.4L488.6 196.4L536.5 215.4L604.3 239.8L668.3 260.5L668 261.4Z"/>
<path fill="#fff8f8" stroke="#fff8f8" stroke-width="1.1" d="M669 258.7L668.3 260.5L636.9 250.7L587.9 234.2L539.3 216.5L489.8 197L438 174.4L438.9 171.9L489.6 193.7L534.8 211.5L603.8 236.2L669.5 257.4L669 258.7Z"/>
<path fill="#fff4f4" stroke="#fff4f4" stroke-width="1.1" d="M670.1 256L669.5 257.4L638.1 247.6L594 232.9L550.6 217.5L518.2 205.2L487.1 192.7L438.9 171.9L439.2 171.1L441 169.9L495.7 193.1L545.9 212.4L610 234.9L670.8 254.2L670.1 256Z"/>
<path fill="#fff0f0" stroke="#fff0f0" stroke-width="1.1" d="M671.1 253.3L670.8 254.2L634 242.8L593.5 229.3L554.7 215.7L498.2 194.1L441 169.9L443.6 168.1L490.5 187.8L531.4 203.8L602.8 229.1L672 251.1L671.1 253.3Z"/>
<path fill="#ffecec" stroke="#ffecec" stroke-width="1.1" d="M672.1 250.7L672 251.1L664.3 248.9L624.8 236.4L552.9 211.7L499.3 191.4L443.6 168.1L446.4 166.3L500.3 188.7L552.6 208.3L615.7 230L673.2 248L672.1 250.7Z"/>
<path fill="#ffe8e8" stroke="#ffe8e8" stroke-width="1.1" d="M674.2 245.3L673.2 248L669.3 246.9L626 233.4L576.8 216.9L510.7 192.7L446.4 166.3L449.1 164.5L501.4 185.9L550.7 204.4L605.2 223.2L674.4 244.8L674.2 245.3Z"/>
<path fill="#ffe4e4" stroke="#ffe4e4" stroke-width="1.1" d="M675.2 242.6L674.4 244.8L666.7 242.6L622 228.7L574.8 212.9L511.8 190L449.1 164.5L451.9 162.8L501.2 182.7L547.5 200L613 222.4L675.6 241.7L675.2 242.6Z"/>
<path fill="#ffe0e0" stroke="#ffe0e0" stroke-width="1.1" d="M676.3 240L675.6 241.7L662.3 237.9L618.1 224L572.9 208.9L511.5 186.7L451.9 162.8L454.7 161L502.2 180L545.7 196.2L612.5 218.8L676.8 238.6L676.3 240Z"/>
<path fill="#ffdcdc" stroke="#ffdcdc" stroke-width="1.1" d="M677.3 237.3L676.8 238.6L654.3 232L612.5 218.8L570.9 205L512.6 184L454.7 161L457.6 159.2L503.2 177.3L543.9 192.3L612 215.3L678 235.5L677.3 237.3Z"/>
<path fill="#ffd8d8" stroke="#ffd8d8" stroke-width="1.1" d="M678.3 234.6L678 235.5L644.7 225.6L569 201.1L513.7 181.3L457.6 159.2L460.5 157.4L512.1 177.6L562.6 195.6L623.2 215.6L679.2 232.4L678.3 234.6Z"/>
<path fill="#ffd4d4" stroke="#ffd4d4" stroke-width="1.1" d="M679.3 232L679.2 232.4L671.5 230.2L635.3 219.3L567.1 197.2L513.4 178L460.5 157.4L463.4 155.6L514.4 175.3L565.2 193.3L626.1 213.1L680.3 229.3L679.3 232Z"/>
<path fill="#ffd0d0" stroke="#ffd0d0" stroke-width="1.1" d="M681.3 226.7L680.3 229.3L678.4 228.7L640 217.4L594.7 203.1L526.5 179.7L463.4 155.6L466.4 153.9L514.2 172.1L561.8 188.9L623.9 209L681.5 226.2L681.3 226.7Z"/>
<path fill="#ffcccc" stroke="#ffcccc" stroke-width="1.1" d="M682.3 224L681.5 226.2L677.7 225.1L635.9 212.8L591 198.6L527.6 177L466.4 153.9L469.4 152.1L515.2 169.4L559.9 185.1L623.3 205.5L682.7 223L682.3 224Z"/>
<path fill="#ffc8c8" stroke="#ffc8c8" stroke-width="1.1" d="M683.3 221.4L682.7 223L673.1 220.4L631.8 208.2L589 194.7L527.3 173.7L469.4 152.1L472.5 150.3L514.9 166.2L556.6 180.7L622.8 202L683.9 219.9L683.3 221.4Z"/>
<path fill="#ffc4c4" stroke="#ffc4c4" stroke-width="1.1" d="M684.3 218.7L683.9 219.9L666.9 215.2L586.9 190.7L528.3 171L472.5 150.3L475.6 148.5L524 166.3L574.1 183.4L632.4 201.6L685 216.8L684.3 218.7Z"/>
<path fill="#ffc0c0" stroke="#ffc0c0" stroke-width="1.1" d="M685.3 216.1L685 216.8L657.1 209L583.4 186.3L528 167.8L475.6 148.5L478.8 146.7L527.7 164.5L576.8 181L633.6 198.7L686.2 213.8L685.3 216.1Z"/>
<path fill="#ffbcbc" stroke="#ffbcbc" stroke-width="1.1" d="M686.3 213.4L680.4 212.2L645.8 202.3L581.4 182.5L529.1 165L478.8 146.7L482 145L530.2 162.3L579.4 178.6L636.5 196.2L687.4 210.7L686.3 213.4Z"/>
<path fill="#ffb8b8" stroke="#ffb8b8" stroke-width="1.1" d="M688.3 208.1L687.4 210.7L611.2 188.6L544 167L482 145L485.2 143.2L529.8 159.1L574.4 173.8L634.2 192.2L688.5 207.6L688.3 208.1Z"/>
<path fill="#ffb4b4" stroke="#ffb4b4" stroke-width="1.1" d="M689.3 205.5L688.5 207.6L686.6 207.1L609 184.6L545.1 164.2L485.2 143.2L488.5 141.4L529.5 155.9L571 169.5L631.9 188.2L689.7 204.5L689.3 205.5Z"/>
<path fill="#ffb0b0" stroke="#ffb0b0" stroke-width="1.1" d="M690.3 202.9L689.7 204.5L685.8 203.5L605.3 180.2L544.8 161L488.5 141.4L491.9 139.6L537.5 155.4L585.8 171L641.6 187.7L690.9 201.4L690.3 202.9Z"/>
<path fill="#ffacac" stroke="#ffacac" stroke-width="1.1" d="M691.3 200.2L690.9 201.4L679.4 198.4L601.6 175.9L544.4 157.8L491.9 139.6L495.3 137.8L539.9 153.2L588.5 168.6L642.8 184.7L692 198.3L691.3 200.2Z"/>
<path fill="#ffa8a8" stroke="#ffa8a8" stroke-width="1.1" d="M692.3 197.6L692 198.3L667.7 191.8L597.9 171.5L545.5 155L495.3 137.8L498.8 136.1L543.8 151.3L591.2 166.2L645.7 182.3L693.2 195.2L692.3 197.6Z"/>
<path fill="#ffa4a4" stroke="#ffa4a4" stroke-width="1.1" d="M693.3 195L654.4 184.7L594.3 167.2L545.2 151.8L498.8 136.1L502.3 134.3L546.2 149L593.8 163.8L646.8 179.3L694.4 192.2L693.3 195Z"/>
<path fill="#ffa0a0" stroke="#ffa0a0" stroke-width="1.1" d="M695.3 189.7L694.4 192.2L631.3 174.9L563.5 154.5L502.3 134.3L505.9 132.5L545.9 145.8L587.2 158.6L644.5 175.3L695.5 189.1L695.3 189.7Z"/>
<path fill="#ff9c9c" stroke="#ff9c9c" stroke-width="1.1" d="M696.3 187.1L695.5 189.1L627.4 170.5L563.1 151.3L505.9 132.5L509.5 130.7L582.1 153.9L642.2 171.4L696.7 186L696.3 187.1Z"/>
<path fill="#ff9898" stroke="#ff9898" stroke-width="1.1" d="M697.3 184.5L696.7 186L694.7 185.5L623.5 166.1L562.7 148L509.5 130.7L513.2 129L555.1 142.5L600.3 156.2L652 170.8L697.8 182.9L697.3 184.5Z"/>
<path fill="#ff9494" stroke="#ff9494" stroke-width="1.1" d="M698.3 181.8L697.8 182.9L692.1 181.5L619.7 161.8L563.8 145.2L513.2 129L517 127.2L557.7 140.2L603 153.8L653.1 167.8L699 179.9L698.3 181.8Z"/>
<path fill="#ff9090" stroke="#ff9090" stroke-width="1.1" d="M699.2 179.2L699 179.9L680.1 175L614.3 157L563.5 142L517 127.2L520.8 125.4L561.6 138.3L605.7 151.3L656 165.3L700.2 176.8L699.2 179.2Z"/>
<path fill="#ff8c8c" stroke="#ff8c8c" stroke-width="1.1" d="M700.2 176.6L664.9 167.7L608.9 152.3L563.1 138.8L520.8 125.4L524.7 123.6L564.2 136L608.5 148.9L657.2 162.3L701.3 173.7L700.2 176.6Z"/>
<path fill="#ff8888" stroke="#ff8888" stroke-width="1.1" d="M702.2 171.4L701.3 173.7L653.7 161.4L585 142.2L524.7 123.6L528.7 121.9L600.1 143.4L653.1 158L702.5 170.7L702.2 171.4Z"/>
<path fill="#ff8484" stroke="#ff8484" stroke-width="1.1" d="M703.2 168.7L702.5 170.7L647.9 156.6L584.6 138.9L528.7 121.9L532.7 120.1L570.8 131.7L613.9 144.1L661.3 156.9L703.6 167.6L703.2 168.7Z"/>
<path fill="#ff8080" stroke="#ff8080" stroke-width="1.1" d="M704.2 166.1L703.6 167.6L643.9 152.2L584.2 135.6L532.7 120.1L536.8 118.3L616.7 141.6L704.8 164.6L704.2 166.1Z"/>
<path fill="#ff7c7c" stroke="#ff7c7c" stroke-width="1.1" d="M705.2 163.5L704.8 164.6L702.9 164.1L638.2 147.5L583.8 132.4L536.8 118.3L541 116.6L619.5 139.2L706 161.5L705.2 163.5Z"/>
<path fill="#ff7878" stroke="#ff7878" stroke-width="1.1" d="M706.2 160.9L706 161.5L692.7 158.3L631 142.3L583.4 129.2L541 116.6L545.2 114.8L622.2 136.7L707.1 158.4L706.2 160.9Z"/>
<path fill="#ff7474" stroke="#ff7474" stroke-width="1.1" d="M707.2 158.3L675.5 150.6L625.5 137.6L545.2 114.8L549.6 113L625 134.3L708.3 155.4L707.2 158.3Z"/>
<path fill="#ff7070" stroke="#ff7070" stroke-width="1.1" d="M709.2 153.1L708.3 155.4L676.6 147.6L608.9 129.9L549.6 113L554 111.3L627.8 131.8L709.5 152.3L709.2 153.1Z"/>
<path fill="#ff6c6c" stroke="#ff6c6c" stroke-width="1.1" d="M710.2 150.5L709.5 152.3L670.6 142.9L608.5 126.7L554 111.3L558.5 109.5L630.6 129.4L710.6 149.3L710.2 150.5Z"/>
<path fill="#ff6868" stroke="#ff6868" stroke-width="1.1" d="M711.2 147.9L710.6 149.3L664.7 138.1L608 123.4L558.5 109.5L563.1 107.8L633.4 126.9L711.8 146.2L711.2 147.9Z"/>
<path fill="#ff6464" stroke="#ff6464" stroke-width="1.1" d="M712.2 145.3L711.8 146.2L658.9 133.4L607.6 120.1L563.1 107.8L567.8 106L637.9 124.9L713 143.2L712.2 145.3Z"/>
<path fill="#ff6060" stroke="#ff6060" stroke-width="1.1" d="M713.2 142.6L713 143.2L705.3 141.4L649.7 127.9L567.8 106L572.6 104.3L640.8 122.4L714.2 140.1L713.2 142.6Z"/>
<path fill="#ff5c5c" stroke="#ff5c5c" stroke-width="1.1" d="M714.2 140L642.4 122.8L572.6 104.3L577.5 102.5L643.6 119.9L715.4 137.1L714.2 140Z"/>
<path fill="#ff5858" stroke="#ff5858" stroke-width="1.1" d="M716.2 134.8L715.4 137.1L702.1 134L635.3 117.8L577.5 102.5L582.5 100.8L646.5 117.4L716.5 134L716.2 134.8Z"/>
<path fill="#ff5454" stroke="#ff5454" stroke-width="1.1" d="M717.2 132.2L716.5 134L697.7 129.7L636.5 114.9L582.5 100.8L587.6 99.1L651 115.3L717.7 131L717.2 132.2Z"/>
<path fill="#ff5050" stroke="#ff5050" stroke-width="1.1" d="M718.3 129.6L717.7 131L689.7 124.6L636 111.6L587.6 99.1L592.8 97.3L653.9 112.8L718.9 127.9L718.3 129.6Z"/>
<path fill="#ff4c4c" stroke="#ff4c4c" stroke-width="1.1" d="M719.3 127L718.9 127.9L681.9 119.5L592.8 97.3L598.1 95.6L656.8 110.3L720.1 124.9L719.3 127Z"/>
<path fill="#ff4848" stroke="#ff4848" stroke-width="1.1" d="M720.3 124.4L720.1 124.9L718.8 124.6L672.4 114L598.1 95.6L603.5 93.9L659.8 107.8L721.3 121.9L720.3 124.4Z"/>
<path fill="#ff4444" stroke="#ff4444" stroke-width="1.1" d="M721.3 121.8L661.5 108.2L603.5 93.9L609.1 92.1L664.4 105.6L722.5 118.8L721.3 121.8Z"/>
<path fill="#ff4040" stroke="#ff4040" stroke-width="1.1" d="M723.4 116.6L722.5 118.8L664.4 105.6L609.1 92.1L614.8 90.4L667.4 103.1L723.7 115.8L723.4 116.6Z"/>
<path fill="#ff3c3c" stroke="#ff3c3c" stroke-width="1.1" d="M724.4 114L723.7 115.8L721.8 115.4L665.7 102.7L614.8 90.4L620.6 88.7L672.1 101L725 112.7L724.4 114Z"/>
<path fill="#ff3838" stroke="#ff3838" stroke-width="1.1" d="M725.5 111.4L725 112.7L717.3 111.1L620.6 88.7L626.5 87L675.1 98.4L726.2 109.7L725.5 111.4Z"/>
<path fill="#ff3434" stroke="#ff3434" stroke-width="1.1" d="M726.5 108.8L726.2 109.7L709.2 106L626.5 87L632.6 85.3L727.4 106.7L726.5 108.8Z"/>
<path fill="#ff3030" stroke="#ff3030" stroke-width="1.1" d="M727.6 106.3L727.4 106.7L695.8 99.8L632.6 85.3L638.8 83.6L728.7 103.6L727.6 106.3Z"/>
<path fill="#ff2c2c" stroke="#ff2c2c" stroke-width="1.1" d="M729.7 101.1L728.7 103.6L638.8 83.6L645.2 81.9L729.9 100.6L729.7 101.1Z"/>
<path fill="#ff2828" stroke="#ff2828" stroke-width="1.1" d="M730.8 98.5L729.9 100.6L645.2 81.9L651.7 80.2L731.2 97.5L730.8 98.5Z"/>
<path fill="#ff2424" stroke="#ff2424" stroke-width="1.1" d="M731.8 95.9L731.2 97.5L651.7 80.2L658.4 78.5L732.4 94.5L731.8 95.9Z"/>
<path fill="#ff2020" stroke="#ff2020" stroke-width="1.1" d="M732.9 93.3L732.4 94.5L658.4 78.5L665.2 76.8L733.7 91.5L732.9 93.3Z"/>
<path fill="#ff1c1c" stroke="#ff1c1c" stroke-width="1.1" d="M734 90.7L733.7 91.5L665.2 76.8L672.2 75.2L735 88.4L734 90.7Z"/>
<path fill="#ff1818" stroke="#ff1818" stroke-width="1.1" d="M735.1 88.1L735 88.4L725.5 86.5L672.2 75.2L679.4 73.5L736.3 85.4L735.1 88.1Z"/>
<path fill="#ff1414" stroke="#ff1414" stroke-width="1.1" d="M737.3 82.9L736.3 85.4L679.4 73.5L686.7 71.8L737.5 82.4L737.3 82.9Z"/>
<path fill="#ff1010" stroke="#ff1010" stroke-width="1.1" d="M738.4 80.3L737.5 82.4L686.7 71.8L694.2 70.2L738.9 79.3L738.4 80.3Z"/>
<path fill="#ff0c0c" stroke="#ff0c0c" stroke-width="1.1" d="M739.6 77.7L738.9 79.3L694.2 70.2L701.9 68.5L740.2 76.3L739.6 77.7Z"/>
<path fill="#ff0808" stroke="#ff0808" stroke-width="1.1" d="M740.7 75.1L740.2 76.3L701.9 68.5L709.8 66.9L741.5 73.3L740.7 75.1Z"/>
<path fill="#ff0404" stroke="#ff0404" stroke-width="1.1" d="M741.8 72.5L741.5 73.3L709.8 66.9L717.9 65.3L742.9 70.2L741.8 72.5Z"/>
<path fill="#ff0000" stroke="#ff0000" stroke-width="1.1" d="M743 69.9L717.9 65.3L726.1 63.6L744.2 67.2L743 69.9Z"/>
<path fill="#ff0000" stroke="#ff0000" stroke-width="1.1" d="M745.3 64.7L744.2 67.2L726.1 63.6L734.6 62L745.6 64.1L745.3 64.7Z"/>
<path fill="#ff0000" stroke="#ff0000" stroke-width="1.1" d="M746.5 62.2L745.6 64.1L734.6 62L743.2 60.4L747 61.1L746.5 62.2Z"/>
<path fill="#ff0000" stroke="#ff0000" stroke-width="1.1" d="M747.7 59.6L747 61.1L743.2 60.4L747.7 59.6Z"/>
<path fill="none" stroke="#000" stroke-opacity="0.55" stroke-width="1" d="M568.9 463.3L539.2 450.2L503.4 432.9L469.1 415.2L437.9 397.8L411 381.5L387.9 366.2L367.6 351L351.8 337.4M611.1 391.2L583.6 380.1L548.3 364.5L514.3 348.5L483.1 333L455.8 318.4L431.1 304.2L410.9 291.5L393.1 279M641.4 326.2L613.9 316.3L579.8 303.2L545.2 289L513.2 275.2L485.1 262.3L460.6 250.4L438.3 238.6L418.1 227M666.8 264.4L640.8 256.3L607.8 245.3L573.8 233.3L542.2 221.7L515.7 211.4L489.7 200.9L436.9 177.6M689.7 204.5L638.8 190.2L583.2 173.4L535 157.7L488.6 141.4M712.1 145.4L635.4 126.6L597.1 116.4L564.4 107.3M735.6 86.9L675.9 74.3"/>
<line x1="182.6" y1="445.9" x2="487.5" y2="558.2" stroke="#333" stroke-width="1.6"/>
<line x1="487.5" y1="558.2" x2="729.5" y2="430.1" stroke="#333" stroke-width="1.6"/>
<line x1="729.5" y1="430.1" x2="748.2" y2="49" stroke="#333" stroke-width="1.6"/>
<line x1="444.1" y1="542.2" x2="449.9" y2="539.3" stroke="#333" stroke-width="1.6"/>
<line x1="402.5" y1="526.9" x2="414.7" y2="521" stroke="#333" stroke-width="1.6"/>
<line x1="362.4" y1="512.1" x2="368.2" y2="509.4" stroke="#333" stroke-width="1.6"/>
<line x1="323.7" y1="497.9" x2="336.1" y2="492.4" stroke="#333" stroke-width="1.6"/>
<line x1="286.5" y1="484.2" x2="292.4" y2="481.7" stroke="#333" stroke-width="1.6"/>
<line x1="250.7" y1="471" x2="263.1" y2="465.9" stroke="#333" stroke-width="1.6"/>
<line x1="216" y1="458.2" x2="222" y2="455.9" stroke="#333" stroke-width="1.6"/>
<line x1="522.7" y1="539.6" x2="514.3" y2="536.6" stroke="#333" stroke-width="1.6"/>
<line x1="556.2" y1="521.8" x2="541.7" y2="516.8" stroke="#333" stroke-width="1.6"/>
<line x1="588.3" y1="504.8" x2="580.1" y2="502.1" stroke="#333" stroke-width="1.6"/>
<line x1="619" y1="488.6" x2="604.7" y2="484" stroke="#333" stroke-width="1.6"/>
<line x1="648.4" y1="473" x2="640.3" y2="470.5" stroke="#333" stroke-width="1.6"/>
<line x1="676.6" y1="458.1" x2="662.5" y2="453.9" stroke="#333" stroke-width="1.6"/>
<line x1="703.6" y1="443.8" x2="695.6" y2="441.5" stroke="#333" stroke-width="1.6"/>
<line x1="731.1" y1="398.7" x2="717.9" y2="395.2" stroke="#333" stroke-width="1.6"/>
<line x1="734.2" y1="335" x2="720.8" y2="331.8" stroke="#333" stroke-width="1.6"/>
<line x1="737.4" y1="270" x2="723.9" y2="267.1" stroke="#333" stroke-width="1.6"/>
<line x1="740.6" y1="203.6" x2="727" y2="201" stroke="#333" stroke-width="1.6"/>
<line x1="744" y1="135.8" x2="730.1" y2="133.6" stroke="#333" stroke-width="1.6"/>
<line x1="747.4" y1="66.6" x2="733.4" y2="64.7" stroke="#333" stroke-width="1.6"/>
<text x="739.1" y="407.2" font-size="24.5" text-anchor="start">64</text>
<text x="742.2" y="343.5" font-size="24.5" text-anchor="start">68</text>
<text x="745.4" y="278.5" font-size="24.5" text-anchor="start">72</text>
<text x="748.6" y="212.1" font-size="24.5" text-anchor="start">76</text>
<text x="752" y="144.3" font-size="24.5" text-anchor="start">80</text>
<text x="755.4" y="75.1" font-size="24.5" text-anchor="start">84</text>
<text x="166.9" y="469.1" font-size="26" text-anchor="middle">40</text>
<text x="236.5" y="495.3" font-size="26" text-anchor="middle">30</text>
<text x="310.1" y="523.4" font-size="26" text-anchor="middle">20</text>
<text x="391.6" y="553.7" font-size="26" text-anchor="middle">10</text>
<text x="492.6" y="586.1" font-size="26" text-anchor="middle" letter-spacing="1">00</text>
<text x="569.5" y="548.9" font-size="26" text-anchor="middle">1</text>
<text x="633.6" y="513.5" font-size="26" text-anchor="middle">2</text>
<text x="691.9" y="481.9" font-size="26" text-anchor="middle">3</text>
<text x="744.5" y="453.2" font-size="26" text-anchor="middle">4</text>
<linearGradient id="ga" x1="0" y1="0" x2="0" y2="1"><stop offset="0.0000" stop-color="#cd0000"/><stop offset="0.0167" stop-color="#ff0000"/><stop offset="0.0333" stop-color="#ff0000"/><stop offset="0.0500" stop-color="#ff0000"/><stop offset="0.0667" stop-color="#ff0a0a"/><stop offset="0.0833" stop-color="#ff1414"/><stop offset="0.1000" stop-color="#ff1e1e"/><stop offset="0.1167" stop-color="#ff2828"/><stop offset="0.1333" stop-color="#ff3232"/><stop offset="0.1500" stop-color="#ff3c3c"/><stop offset="0.1667" stop-color="#ff4646"/><stop offset="0.1833" stop-color="#ff5050"/><stop offset="0.2000" stop-color="#ff5a5a"/><stop offset="0.2167" stop-color="#ff6464"/><stop offset="0.2333" stop-color="#ff6e6e"/><stop offset="0.2500" stop-color="#ff7878"/><stop offset="0.2667" stop-color="#ff8282"/><stop offset="0.2833" stop-color="#ff8c8c"/><stop offset="0.3000" stop-color="#ff9696"/><stop offset="0.3167" stop-color="#ffa0a0"/><stop offset="0.3333" stop-color="#ffaaaa"/><stop offset="0.3500" stop-color="#ffb4b4"/><stop offset="0.3667" stop-color="#ffbebe"/><stop offset="0.3833" stop-color="#ffc8c8"/><stop offset="0.4000" stop-color="#ffd2d2"/><stop offset="0.4167" stop-color="#ffdcdc"/><stop offset="0.4333" stop-color="#ffe6e6"/><stop offset="0.4500" stop-color="#fff0f0"/><stop offset="0.4667" stop-color="#fffafa"/><stop offset="0.4750" stop-color="#ffffff"/><stop offset="0.4833" stop-color="#ffffff"/><stop offset="0.5000" stop-color="#ffffff"/><stop offset="0.5167" stop-color="#ffffff"/><stop offset="0.5170" stop-color="#ffffff"/><stop offset="0.5333" stop-color="#f6f6ff"/><stop offset="0.5500" stop-color="#eeeeff"/><stop offset="0.5667" stop-color="#e5e5ff"/><stop offset="0.5833" stop-color="#dcdcff"/><stop offset="0.6000" stop-color="#d3d3ff"/><stop offset="0.6167" stop-color="#cacaff"/><stop offset="0.6333" stop-color="#c2c2ff"/><stop offset="0.6500" stop-color="#b9b9ff"/><stop offset="0.6667" stop-color="#b0b0ff"/><stop offset="0.6833" stop-color="#a7a7ff"/><stop offset="0.7000" stop-color="#9e9eff"/><stop offset="0.7167" stop-color="#9696ff"/><stop offset="0.7333" stop-color="#8d8dff"/><stop offset="0.7500" stop-color="#8484ff"/><stop offset="0.7667" stop-color="#7b7bff"/><stop offset="0.7833" stop-color="#7272ff"/><stop offset="0.8000" stop-color="#6a6aff"/><stop offset="0.8167" stop-color="#6161ff"/><stop offset="0.8333" stop-color="#5858ff"/><stop offset="0.8500" stop-color="#4f4fff"/><stop offset="0.8667" stop-color="#4646ff"/><stop offset="0.8833" stop-color="#3e3eff"/><stop offset="0.9000" stop-color="#3535ff"/><stop offset="0.9167" stop-color="#2c2cff"/><stop offset="0.9333" stop-color="#2323ff"/><stop offset="0.9500" stop-color="#1a1aff"/><stop offset="0.9667" stop-color="#1212ff"/><stop offset="0.9833" stop-color="#0909ff"/><stop offset="1.0000" stop-color="#0000ff"/></linearGradient>
<rect x="37.2" y="90.7" width="46.2" height="370.3" fill="url(#ga)"/>
<text x="94.4" y="464.7" font-size="23.3" text-anchor="start">62</text>
<text x="94.4" y="417.2" font-size="23.3" text-anchor="start">65</text>
<text x="94.4" y="369.6" font-size="23.3" text-anchor="start">68</text>
<text x="94.4" y="322.1" font-size="23.3" text-anchor="start">71</text>
<text x="94.4" y="274.5" font-size="23.3" text-anchor="start">74</text>
<text x="94.4" y="227" font-size="23.3" text-anchor="start">77</text>
<text x="94.4" y="179.5" font-size="23.3" text-anchor="start">80</text>
<text x="94.4" y="131.9" font-size="23.3" text-anchor="start">83</text>
<text x="8.3" y="74.4" font-size="29" xml:space="preserve"><tspan font-style="italic">S</tspan> (<tspan dx="0">J K</tspan><tspan font-size="16" dy="-12.2">-1</tspan><tspan dx="1.5" dy="12.2"> kg</tspan><tspan font-size="16" dy="-12.2">-1</tspan><tspan dx="3" dy="12.2">)</tspan></text>
<text transform="translate(819 324.3) rotate(-90)" font-size="27.3" xml:space="preserve"><tspan font-style="italic">S</tspan> (<tspan dx="0">J K</tspan><tspan font-size="15" dy="-11.5">-1</tspan><tspan dx="0" dy="11.5"> kg</tspan><tspan font-size="15" dy="-11.5">-1</tspan><tspan dx="0" dy="11.5">)</tspan></text>
<text x="205.6" y="93.2" font-size="33">(a)</text>
<text x="450.6" y="63" font-size="29.5"><tspan font-style="italic">T</tspan> = 294 K</text>
<line x1="170.3" y1="521.8" x2="390.3" y2="604.1" stroke="#000" stroke-width="3.2"/>
<path fill="#000" d="M406.2 610.1L378.6 612.6L389.3 603.8L387 590.1Z"/>
<line x1="550.4" y1="613.2" x2="764" y2="497.9" stroke="#000" stroke-width="3.2"/>
<path fill="#000" d="M779 489.8L762.7 512.2L763.2 498.4L751.3 491.1Z"/>
<text transform="translate(207.2 518.8) rotate(22.2)" font-size="29">Stress (MPa)</text>
<text transform="translate(551.2 595.3) rotate(-28.6)" font-size="29.2">Magnetic field (T)</text>
</g>
<g id="pb">
<line x1="1101.3" y1="417.6" x2="1090.9" y2="41.8" stroke="#e9e9e9" stroke-width="1.3"/>
<line x1="1496.8" y1="406.6" x2="1510.2" y2="37.4" stroke="#e9e9e9" stroke-width="1.3"/>
<line x1="1249.6" y1="525.7" x2="1496.8" y2="406.6" stroke="#e9e9e9" stroke-width="1.3"/>
<line x1="1403.3" y1="520.7" x2="1101.3" y2="417.6" stroke="#e9e9e9" stroke-width="1.3"/>
<line x1="1167.5" y1="392.5" x2="1161.3" y2="30.3" stroke="#e9e9e9" stroke-width="1.3"/>
<line x1="1422.1" y1="385.7" x2="1430.7" y2="27.6" stroke="#e9e9e9" stroke-width="1.3"/>
<line x1="1170.8" y1="496.7" x2="1422.1" y2="385.7" stroke="#e9e9e9" stroke-width="1.3"/>
<line x1="1466.1" y1="487.4" x2="1167.5" y2="392.5" stroke="#e9e9e9" stroke-width="1.3"/>
<line x1="1228.9" y1="369.2" x2="1226.4" y2="19.7" stroke="#e9e9e9" stroke-width="1.3"/>
<line x1="1351.9" y1="366.1" x2="1356.3" y2="18.4" stroke="#e9e9e9" stroke-width="1.3"/>
<line x1="1097.8" y1="469.8" x2="1351.9" y2="366.1" stroke="#e9e9e9" stroke-width="1.3"/>
<line x1="1523.7" y1="457" x2="1228.9" y2="369.2" stroke="#e9e9e9" stroke-width="1.3"/>
<line x1="1027.6" y1="391.9" x2="1286" y2="301.5" stroke="#e9e9e9" stroke-width="1.3"/>
<line x1="1286" y1="301.5" x2="1579.2" y2="377.2" stroke="#e9e9e9" stroke-width="1.3"/>
<line x1="1025.5" y1="338" x2="1286.1" y2="254.7" stroke="#e9e9e9" stroke-width="1.3"/>
<line x1="1286.1" y1="254.7" x2="1581.7" y2="324.6" stroke="#e9e9e9" stroke-width="1.3"/>
<line x1="1023.3" y1="283.3" x2="1286.2" y2="207.2" stroke="#e9e9e9" stroke-width="1.3"/>
<line x1="1286.2" y1="207.2" x2="1584.4" y2="271.2" stroke="#e9e9e9" stroke-width="1.3"/>
<line x1="1021.1" y1="227.6" x2="1286.3" y2="159" stroke="#e9e9e9" stroke-width="1.3"/>
<line x1="1286.3" y1="159" x2="1587" y2="216.8" stroke="#e9e9e9" stroke-width="1.3"/>
<line x1="1018.9" y1="170.8" x2="1286.4" y2="110" stroke="#e9e9e9" stroke-width="1.3"/>
<line x1="1286.4" y1="110" x2="1589.8" y2="161.4" stroke="#e9e9e9" stroke-width="1.3"/>
<line x1="1016.6" y1="113.1" x2="1286.5" y2="60.3" stroke="#e9e9e9" stroke-width="1.3"/>
<line x1="1286.5" y1="60.3" x2="1592.5" y2="105.2" stroke="#e9e9e9" stroke-width="1.3"/>
<line x1="1029.7" y1="444.8" x2="1014.3" y2="54.3" stroke="#9a9a9a" stroke-width="1.4"/>
<line x1="1285.9" y1="347.6" x2="1286.6" y2="9.8" stroke="#9a9a9a" stroke-width="1.4"/>
<line x1="1014.3" y1="54.3" x2="1286.6" y2="9.8" stroke="#9a9a9a" stroke-width="1.4"/>
<line x1="1286.6" y1="9.8" x2="1595.3" y2="47.9" stroke="#9a9a9a" stroke-width="1.4"/>
<line x1="1029.7" y1="444.8" x2="1285.9" y2="347.6" stroke="#9a9a9a" stroke-width="1.4"/>
<line x1="1285.9" y1="347.6" x2="1576.6" y2="428.9" stroke="#9a9a9a" stroke-width="1.4"/>
<path fill="#0707ff" stroke="#0707ff" stroke-width="1.1" d="M1030.2 418.4L1028.7 418.4L1032.2 416.6L1030.2 418.4Z"/>
<path fill="#0909ff" stroke="#0909ff" stroke-width="1.1" d="M1035.9 418.4L1030.2 418.4L1032.2 416.6L1040.2 411.6L1038.5 415.8L1035.9 418.4Z"/>
<path fill="#0c0cff" stroke="#0c0cff" stroke-width="1.1" d="M1041.7 418.4L1035.9 418.4L1038.5 415.8L1040.2 411.6L1045.7 407.5L1045.1 413.7L1043.5 416.6L1041.7 418.4Z"/>
<path fill="#1010ff" stroke="#1010ff" stroke-width="1.1" d="M1047.5 418.4L1041.7 418.4L1043.5 416.6L1045.1 413.7L1045.7 407.5L1050.1 403.8L1051.1 409.3L1050.9 413L1049.7 415.8L1047.5 418.4Z"/>
<path fill="#1313ff" stroke="#1313ff" stroke-width="1.1" d="M1053.3 418.4L1047.5 418.4L1049.7 415.8L1050.9 413L1051.1 409.3L1050.1 403.8L1054 400.4L1056.1 406.6L1056.6 411.2L1055.8 415.1L1053.3 418.4Z"/>
<path fill="#1717ff" stroke="#1717ff" stroke-width="1.1" d="M1059.2 418.3L1053.3 418.4L1055.8 415.1L1056.6 411.2L1056.1 406.6L1054 400.4L1057.5 397.1L1060.6 404.1L1062 410.2L1061.7 414.4L1059.2 418.3Z"/>
<path fill="#1a1aff" stroke="#1a1aff" stroke-width="1.1" d="M1065 418.3L1059.2 418.3L1061.7 414.4L1062 410.2L1060.6 404.1L1057.5 397.1L1060.7 393.9L1065.2 402.7L1067.3 409L1067.5 413.9L1066.4 416.7L1065 418.3Z"/>
<path fill="#1e1eff" stroke="#1e1eff" stroke-width="1.1" d="M1071 418.3L1065 418.3L1066.4 416.7L1067.5 413.9L1067.3 409L1065.2 402.7L1060.7 393.9L1063.7 390.7L1069.7 401.2L1072.7 408.6L1073.2 413.9L1072.6 416L1071 418.3Z"/>
<path fill="#2121ff" stroke="#2121ff" stroke-width="1.1" d="M1076.9 418.3L1071 418.3L1073.1 414.6L1073.1 410.4L1070.3 402.3L1063.7 390.7L1066.4 387.7L1074.2 399.9L1078 408.1L1078.9 414L1078 416.8L1076.9 418.3Z"/>
<path fill="#2525ff" stroke="#2525ff" stroke-width="1.1" d="M1082.9 418.2L1076.9 418.3L1078.6 415.3L1078.6 410.4L1075 401.3L1066.4 387.7L1069.1 384.7L1078.6 398.6L1083.2 407.4L1084.4 411L1084.7 414L1084.3 416L1082.9 418.2Z"/>
<path fill="#2828ff" stroke="#2828ff" stroke-width="1.1" d="M1089 418.2L1082.9 418.2L1084.6 414.7L1084.1 409.9L1082.5 405.6L1079.2 399.6L1069.1 384.7L1071.6 381.8L1082.3 396.4L1088.2 406.2L1090.4 412.8L1090.3 415.4L1089 418.2Z"/>
<path fill="#2c2cff" stroke="#2c2cff" stroke-width="1.1" d="M1095 418.2L1089 418.2L1089.9 416.8L1090.5 414.1L1089.1 408.4L1083.6 398.3L1071.6 381.8L1074 378.9L1086.5 395.1L1093.5 405.8L1095.4 410.1L1096.3 413.5L1096.1 416.1L1095 418.2Z"/>
<path fill="#3030ff" stroke="#3030ff" stroke-width="1.1" d="M1101.2 418.1L1095 418.2L1096.1 416.1L1096.3 414.1L1095 409L1088.5 398L1074 378.9L1076.3 376L1091.4 394.8L1098.8 405.4L1102.1 413L1102.3 415.5L1101.2 418.1Z"/>
<path fill="#3333ff" stroke="#3333ff" stroke-width="1.1" d="M1107.4 418.1L1101.2 418.1L1101.9 416.9L1102.3 414.1L1100 407.7L1092.5 396.3L1076.3 376L1078.5 373.2L1095.7 393.7L1104.1 405.1L1107 410.2L1108.1 413.6L1108.2 416.2L1107.4 418.1Z"/>
<path fill="#3737ff" stroke="#3737ff" stroke-width="1.1" d="M1113.7 418.1L1107.4 418.1L1108.2 416.2L1108.2 414.1L1105.7 407.8L1097.8 396.4L1078.5 373.2L1080.7 370.4L1101 393.9L1109.6 405L1114 413.1L1114.4 415.5L1113.7 418.1Z"/>
<path fill="#3a3aff" stroke="#3a3aff" stroke-width="1.1" d="M1120 418.1L1113.7 418.1L1114.2 416.9L1114.3 414.2L1111.4 407.7L1102 395.1L1080.7 370.4L1082.8 367.6L1105.4 393L1114.7 404.3L1119.8 412.6L1120.6 416.2L1120 418.1Z"/>
<path fill="#3e3eff" stroke="#3e3eff" stroke-width="1.1" d="M1126.4 418.1L1120 418.1L1120.6 416.2L1120.2 413.7L1116.9 407.3L1107 394.8L1082.8 367.6L1084.8 364.9L1111.2 393.6L1120.9 404.9L1126.1 413.2L1126.8 415.5L1126.4 418.1Z"/>
<path fill="#4141ff" stroke="#4141ff" stroke-width="1.1" d="M1132.8 418.1L1126.4 418.1L1126.8 416.9L1126.5 414.3L1123.1 407.9L1112.8 395.4L1084.8 364.9L1086.8 362.1L1126.3 404.5L1132 412.7L1133.2 416.2L1132.8 418.1Z"/>
<path fill="#4545ff" stroke="#4545ff" stroke-width="1.1" d="M1139.4 418.1L1132.8 418.1L1133.2 416.2L1132 412.7L1126.3 404.5L1086.8 362.1L1088.7 359.4L1132.5 405.1L1138.5 413.2L1139.4 415.5L1139.4 418.1Z"/>
<path fill="#4848ff" stroke="#4848ff" stroke-width="1.1" d="M1146 418.2L1139.4 418.1L1139.4 415.5L1138.5 413.2L1132.5 405.1L1088.7 359.4L1090.6 356.7L1138 404.7L1144.5 412.7L1146 416.1L1146 418.2Z"/>
<path fill="#4c4cff" stroke="#4c4cff" stroke-width="1.1" d="M1152.7 418.2L1146 418.2L1146 416.1L1144.5 412.7L1138 404.7L1090.6 356.7L1092.4 354.1L1144.5 405.3L1151.1 413.3L1152.7 416.7L1152.7 418.2Z"/>
<path fill="#4f4fff" stroke="#4f4fff" stroke-width="1.1" d="M1159.5 418.3L1152.7 418.2L1152.7 416.7L1151.1 413.3L1144.5 405.3L1092.4 354.1L1094.3 351.4L1110.8 367.8L1151.2 406.1L1157.9 413.8L1159.2 416.1L1159.5 418.3Z"/>
<path fill="#5353ff" stroke="#5353ff" stroke-width="1.1" d="M1166.5 418.4L1159.5 418.3L1159.2 416.1L1157.9 413.8L1151.2 406.1L1110.8 367.8L1094.3 351.4L1096 348.8L1115.4 367.6L1157.6 406.4L1164.8 414.3L1166.1 416.6L1166.5 418.4Z"/>
<path fill="#5656ff" stroke="#5656ff" stroke-width="1.1" d="M1173.5 418.5L1166.5 418.4L1166.1 416.6L1164.8 414.3L1157.6 406.4L1115.4 367.6L1096 348.8L1097.8 346.1L1120 367.3L1165.3 407.9L1171.8 414.9L1173.5 418.5Z"/>
<path fill="#5a5aff" stroke="#5a5aff" stroke-width="1.1" d="M1180.6 418.6L1173.5 418.5L1171.8 414.9L1165.3 407.9L1120 367.3L1097.8 346.1L1099.5 343.5L1124.6 367L1172.2 408.4L1178.9 415.2L1180.6 418.6Z"/>
<path fill="#5d5dff" stroke="#5d5dff" stroke-width="1.1" d="M1187.8 418.7L1180.6 418.6L1178.9 415.2L1172.2 408.4L1126.5 368.7L1102.7 346.7L1099.5 343.5L1101.2 340.9L1129.2 366.7L1180.1 409.7L1185.9 415.4L1187.8 418.7Z"/>
<path fill="#6161ff" stroke="#6161ff" stroke-width="1.1" d="M1195.2 418.9L1187.8 418.7L1185.9 415.4L1179.1 408.9L1134.1 370.9L1108.6 348L1101.2 340.9L1102.8 338.3L1117.2 351.8L1134.9 367.3L1187.3 410.3L1193 415.6L1195.2 418.9Z"/>
<path fill="#6464ff" stroke="#6464ff" stroke-width="1.1" d="M1202.7 419.1L1195.2 418.9L1193 415.6L1186.9 410L1141.9 373.1L1114.6 349.4L1102.8 338.3L1104.5 335.7L1133.8 362.1L1156.2 380.5L1194.5 410.8L1200.3 415.9L1202.7 419.1Z"/>
<path fill="#6868ff" stroke="#6868ff" stroke-width="1.1" d="M1210.4 419.3L1202.7 419.1L1200.3 415.9L1193.8 410.2L1142.7 369.5L1121.6 351.5L1104.5 335.7L1106.1 333.2L1121.5 347.3L1139.5 362.6L1163.5 381.9L1203.1 412.2L1207.7 416.1L1210.4 419.3Z"/>
<path fill="#6b6bff" stroke="#6b6bff" stroke-width="1.1" d="M1218.2 419.5L1210.4 419.3L1207.7 416.1L1201.9 411.3L1149.6 370.9L1126 351.3L1106.1 333.2L1107.7 330.6L1125 346.2L1146.2 364L1172.1 384.1L1210.5 412.7L1218.2 419.5Z"/>
<path fill="#6f6fff" stroke="#6f6fff" stroke-width="1.1" d="M1226.2 419.8L1218.2 419.5L1210.5 412.7L1155.6 371.4L1130.5 351L1110.1 332.9L1107.7 330.6L1109.3 328.1L1129.4 345.9L1153.2 365.3L1180.9 386.4L1219.4 414L1226.2 419.8Z"/>
<path fill="#7272ff" stroke="#7272ff" stroke-width="1.1" d="M1234.3 420.1L1226.2 419.8L1219.3 413.9L1161.7 371.9L1136 351.5L1114.2 332.7L1109.3 328.1L1110.8 325.5L1132.9 344.9L1159.1 365.8L1188.8 387.7L1228.5 415.4L1234.3 420.1Z"/>
<path fill="#7676ff" stroke="#7676ff" stroke-width="1.1" d="M1242.7 420.5L1234.3 420.1L1228.5 415.4L1193.7 391.2L1167.9 372.5L1140.6 351.2L1118.4 332.4L1110.8 325.5L1112.3 323L1136.4 343.8L1165.2 366.3L1194.3 387.4L1236.4 415.8L1242.7 420.5Z"/>
<path fill="#7979ff" stroke="#7979ff" stroke-width="1.1" d="M1251.3 420.9L1242.7 420.5L1236.4 415.8L1198.1 390L1174.2 373L1146.2 351.7L1122.6 332.1L1112.3 323L1113.9 320.4L1139.9 342.7L1171.4 366.8L1203.7 389.6L1251.3 420.9Z"/>
<path fill="#7d7dff" stroke="#7d7dff" stroke-width="1.1" d="M1260.1 421.4L1251.3 420.9L1207.6 392.2L1180.6 373.5L1151.9 352.2L1126.8 331.9L1113.9 320.4L1115.4 317.9L1143.4 341.6L1177.6 367.3L1213.3 391.8L1260.1 421.4Z"/>
<path fill="#8080ff" stroke="#8080ff" stroke-width="1.1" d="M1269.1 421.9L1260.1 421.4L1217.3 394.4L1187 374L1156.7 351.9L1131 331.6L1115.4 317.9L1116.9 315.4L1130.7 327.5L1147 340.6L1184 367.8L1223.2 394L1269.1 421.9Z"/>
<path fill="#8484ff" stroke="#8484ff" stroke-width="1.1" d="M1278.5 422.5L1269.1 421.9L1227.3 396.6L1193.6 374.4L1162.6 352.4L1135.4 331.3L1116.9 315.4L1118.3 312.9L1133.2 325.7L1150.6 339.5L1190.4 368.3L1231.9 395.3L1278.5 422.5Z"/>
<path fill="#8888ff" stroke="#8888ff" stroke-width="1.1" d="M1288.1 423.2L1278.5 422.5L1236.2 397.9L1199 374.1L1167.4 352.1L1138.8 330.2L1118.3 312.9L1119.8 310.4L1135.6 323.8L1154.1 338.4L1174.6 353.3L1197 368.8L1220 383.8L1242.3 397.5L1288.1 423.2Z"/>
<path fill="#8b8bff" stroke="#8b8bff" stroke-width="1.1" d="M1298.1 423.9L1288.1 423.2L1245.2 399.2L1205.7 374.6L1172.3 351.7L1143.2 329.9L1119.8 310.4L1121.2 307.9L1138 322L1157.7 337.3L1179.6 353L1203.6 369.2L1227.2 384.2L1251.4 398.7L1273.1 410.8L1298.1 423.9Z"/>
<path fill="#8f8fff" stroke="#8f8fff" stroke-width="1.1" d="M1308.5 424.8L1298.1 423.9L1284.6 416.9L1248.5 397L1211.2 374.2L1177.3 351.4L1146.6 328.8L1121.2 307.9L1122.7 305.4L1140.4 320.2L1161.3 336.2L1184.6 352.7L1210.3 369.7L1235.8 385.5L1260.3 399.7L1284.7 412.9L1308.5 424.8Z"/>
<path fill="#9292ff" stroke="#9292ff" stroke-width="1.1" d="M1319.3 425.7L1308.5 424.8L1291.5 416.4L1254.7 396.6L1218.1 374.6L1182.3 351.1L1150.1 327.8L1122.7 305.4L1124.1 302.9L1142.8 318.4L1163.9 334.3L1188.5 351.5L1215.8 369.3L1241.8 385.1L1268.7 400.4L1293.3 413.3L1319.3 425.7Z"/>
<path fill="#9696ff" stroke="#9696ff" stroke-width="1.1" d="M1330.6 426.8L1319.3 425.7L1300.2 416.7L1262.5 397L1225.1 375.1L1188.5 351.5L1154.6 327.4L1138.1 314.7L1124.1 302.9L1125.5 300.5L1145.2 316.6L1168.6 334L1194.9 351.9L1222.7 369.7L1250.7 386.4L1278.4 401.6L1305.4 415.3L1330.6 426.8Z"/>
<path fill="#9999ff" stroke="#9999ff" stroke-width="1.1" d="M1335.9 427.4L1330.6 426.8L1309 417L1288.2 406.7L1255.2 388.9L1221.4 368.9L1185.4 345.6L1153 322.6L1125.5 300.5L1126.9 298L1144.7 312.6L1166.9 329L1191.6 346L1219.1 363.6L1249.4 381.7L1278.5 397.7L1307.1 412.2L1336.8 425.6L1335.9 427.4Z"/>
<path fill="#9d9dff" stroke="#9d9dff" stroke-width="1.1" d="M1337 425.2L1336.8 425.6L1316.1 416.4L1281.7 399.4L1249.4 381.7L1217.8 362.8L1183.5 340.6L1152.5 318.5L1126.9 298L1128.3 295.5L1146.2 310L1167.3 325.7L1190.8 341.8L1216.7 358.4L1248.2 377.2L1278.5 393.9L1308.8 409.1L1338.4 422.5L1337 425.2Z"/>
<path fill="#a0a0ff" stroke="#a0a0ff" stroke-width="1.1" d="M1339.3 420.8L1338.4 422.5L1317.7 413.3L1295 402.3L1260 383.8L1224.6 363.2L1188.5 340.2L1155.9 317.4L1128.3 295.5L1129.7 293.1L1147.6 307.5L1169.8 323.8L1194.7 340.6L1222.2 358L1246.9 372.6L1272.3 386.7L1306.9 404.3L1340 419.4L1339.3 420.8Z"/>
<path fill="#a4a4ff" stroke="#a4a4ff" stroke-width="1.1" d="M1340.4 418.6L1340 419.4L1324.8 412.7L1286.7 394.2L1254.2 376.7L1220.9 357.2L1186.5 335.2L1155.4 313.4L1129.7 293.1L1131.1 290.6L1149 305L1170.2 320.4L1193.8 336.3L1219.8 352.8L1251.4 371.3L1281.8 387.9L1312 403L1341.6 416.3L1340.4 418.6Z"/>
<path fill="#a7a7ff" stroke="#a7a7ff" stroke-width="1.1" d="M1342.6 414.3L1341.6 416.3L1299.9 397.1L1264.7 378.8L1227.7 357.6L1191.4 334.8L1159.8 313L1131.1 290.6L1132.5 288.2L1150.4 302.4L1172.7 318.6L1197.6 335.2L1225.3 352.4L1251.5 367.6L1277.1 381.6L1310.1 398.2L1343.2 413.2L1342.6 414.3Z"/>
<path fill="#ababff" stroke="#ababff" stroke-width="1.1" d="M1343.7 412.1L1343.2 413.2L1333.6 409.1L1291.5 389.1L1257.3 370.9L1224 351.6L1189.4 329.8L1158.2 308.3L1132.5 288.2L1133.8 285.7L1151.8 299.9L1173 315.2L1196.7 331L1222.9 347.2L1254.5 365.6L1285 381.9L1315.2 396.9L1344.8 410.1L1343.7 412.1Z"/>
<path fill="#aeaeff" stroke="#aeaeff" stroke-width="1.1" d="M1344.8 410L1317 397.7L1285 381.9L1253.1 364.8L1221.6 346.4L1187.4 324.9L1157.6 304.3L1133.8 285.7L1135.2 283.3L1152.2 296.7L1171.3 310.4L1194.6 326L1219.2 341.3L1251.8 360.3L1283.4 377.3L1315.9 393.4L1346.3 407L1344.8 410Z"/>
<path fill="#b2b2ff" stroke="#b2b2ff" stroke-width="1.1" d="M1347 405.7L1346.3 407L1342 405.1L1298 384.7L1261.9 365.9L1227 346L1192.3 324.5L1161 303.2L1135.2 283.3L1136.5 280.8L1154.5 294.9L1174.8 309.3L1199.6 325.6L1225.9 341.7L1257.6 359.8L1288.1 376L1318.4 390.8L1347.9 403.9L1347 405.7Z"/>
<path fill="#b5b5ff" stroke="#b5b5ff" stroke-width="1.1" d="M1348.1 403.5L1347.9 403.9L1346 403.1L1325.5 394.1L1289.8 376.8L1257.6 359.8L1224.6 340.9L1190.3 319.6L1160.3 299.2L1136.5 280.8L1137.9 278.4L1154.9 291.7L1174 305.3L1197.5 320.7L1222.1 335.8L1254.8 354.6L1288.1 372.3L1319.9 387.8L1349.5 400.8L1348.1 403.5Z"/>
<path fill="#b9b9ff" stroke="#b9b9ff" stroke-width="1.1" d="M1350.3 399.2L1349.5 400.8L1347.5 400L1304.5 380.4L1268 361.8L1231.3 341.2L1196.3 320L1164.7 298.8L1137.9 278.4L1139.2 276L1157.2 289.9L1177.6 304.2L1202.5 320.3L1228.8 336.2L1260.7 354.1L1291.2 370.1L1323.2 385.6L1351 397.7L1350.3 399.2Z"/>
<path fill="#bcbcff" stroke="#bcbcff" stroke-width="1.1" d="M1351.3 397.1L1351 397.7L1334 390.5L1296.1 372.6L1262.1 354.9L1227.5 335.4L1193.1 314.4L1164.1 294.9L1139.2 276L1140.5 273.5L1157.6 286.7L1177.9 300.9L1201.5 316.2L1226.4 331.1L1259.3 349.7L1291.2 366.4L1323 381.8L1352.6 394.7L1351.3 397.1Z"/>
<path fill="#c0c0ff" stroke="#c0c0ff" stroke-width="1.1" d="M1353.5 392.8L1352.6 394.7L1309.2 375.3L1272.5 356.8L1234.2 335.7L1198 313.9L1167.5 293.8L1140.5 273.5L1141.9 271.1L1159.9 284.9L1181.4 299.7L1206.5 315.7L1233 331.4L1259.3 346.1L1284.8 359.5L1321 377.1L1354.1 391.6L1353.5 392.8Z"/>
<path fill="#c3c3ff" stroke="#c3c3ff" stroke-width="1.1" d="M1354.5 390.7L1354.1 391.6L1342.6 386.8L1302.4 368.3L1266.6 350L1231.7 330.7L1197.1 309.8L1166.8 289.8L1141.9 271.1L1143.2 268.7L1160.3 281.7L1180.6 295.8L1203.1 310.1L1229.2 325.7L1262.2 344L1294.2 360.6L1326.1 375.8L1355.6 388.5L1354.5 390.7Z"/>
<path fill="#c7c7ff" stroke="#c7c7ff" stroke-width="1.1" d="M1356.7 386.4L1355.6 388.5L1315.7 370.9L1277.1 351.9L1237.2 330.2L1200.8 308.7L1170.2 288.7L1143.2 268.7L1144.5 266.3L1162.6 279.9L1184.1 294.6L1209.3 310.4L1235.9 326L1263.7 341.2L1290.9 355.3L1325.8 372L1357.1 385.5L1356.7 386.4Z"/>
<path fill="#cacaff" stroke="#cacaff" stroke-width="1.1" d="M1357.7 384.3L1357.1 385.5L1351.3 383.1L1307.1 363.2L1271 345.1L1234.6 325.2L1199.8 304.6L1169.5 284.8L1144.5 266.3L1145.8 263.9L1162.9 276.8L1183.3 290.7L1207.1 305.6L1233.4 321L1266.6 339.2L1298.8 355.5L1330.8 370.6L1358.7 382.4L1357.7 384.3Z"/>
<path fill="#ceceff" stroke="#ceceff" stroke-width="1.1" d="M1358.8 382.1L1334.4 372.2L1298.8 355.5L1265.2 338.4L1230.8 319.5L1197.8 299.9L1168.8 280.9L1145.8 263.9L1147.1 261.5L1163.3 273.6L1182.5 286.7L1204.9 300.8L1229.6 315.3L1262.3 333.3L1297.1 351.1L1330.6 366.8L1360.2 379.4L1358.8 382.1Z"/>
<path fill="#d1d1ff" stroke="#d1d1ff" stroke-width="1.1" d="M1360.9 377.9L1360.2 379.4L1358.2 378.6L1313.4 358.9L1275.5 340.2L1237.5 319.8L1202.6 299.4L1172.1 279.8L1147.1 261.5L1148.4 259L1165.6 271.8L1186 285.6L1209.9 300.4L1236.2 315.6L1268.1 332.8L1301.8 349.7L1333.8 364.6L1361.7 376.3L1360.9 377.9Z"/>
<path fill="#d5d5ff" stroke="#d5d5ff" stroke-width="1.1" d="M1362 375.8L1361.7 376.3L1342.8 368.6L1305 351.3L1269.6 333.6L1234.9 314.8L1201.6 295.4L1172.5 276.6L1148.4 259L1149.7 256.6L1166.9 269.4L1186.2 282.3L1208.9 296.3L1233.7 310.7L1266.6 328.5L1300.1 345.3L1333.6 360.9L1363.2 373.3L1362 375.8Z"/>
<path fill="#d8d8ff" stroke="#d8d8ff" stroke-width="1.1" d="M1364 371.6L1363.2 373.3L1319.8 354.6L1281.4 336.1L1241.6 315.1L1206.5 294.9L1175.8 275.5L1149.7 256.6L1151 254.2L1168.2 266.9L1189.7 281.2L1213.8 295.8L1240.4 310.9L1272.4 327.9L1304.7 344L1336.8 358.7L1364.7 370.3L1364 371.6Z"/>
<path fill="#dcdcff" stroke="#dcdcff" stroke-width="1.1" d="M1365.1 369.4L1364.7 370.3L1351.3 364.9L1311.2 347L1273.9 328.7L1237.7 309.5L1204.3 290.2L1175.1 271.6L1151 254.2L1152.3 251.8L1169.5 264.4L1188.9 277.3L1211.6 291.1L1236.5 305.3L1269.5 322.9L1303 339.5L1336.6 354.9L1366.2 367.2L1365.1 369.4Z"/>
<path fill="#dfdfff" stroke="#dfdfff" stroke-width="1.1" d="M1367.2 365.2L1366.2 367.2L1333 353.4L1296.7 336.5L1258.1 317L1226.3 299.6L1197.7 282.8L1172.4 266.5L1152.3 251.8L1153.6 249.4L1172.7 263.3L1196.8 278.8L1225.1 295.5L1255.4 312L1304.5 336.7L1338 352L1367.7 364.2L1367.2 365.2Z"/>
<path fill="#e3e3ff" stroke="#e3e3ff" stroke-width="1.1" d="M1368.2 363.1L1367.7 364.2L1363.8 362.7L1324.2 345.8L1288.8 329.1L1254 311.3L1222.6 294.1L1195.7 278.2L1172.7 263.3L1153.6 249.4L1154.9 247.1L1173.1 260.2L1195.9 274.9L1222.8 290.8L1252.7 307.1L1282.7 322.5L1314 337.6L1343.1 350.6L1369.2 361.2L1368.2 363.1Z"/>
<path fill="#e7e7ff" stroke="#e7e7ff" stroke-width="1.1" d="M1369.3 361L1343.1 350.6L1307.5 334.6L1272.4 317.4L1238 299.2L1204.9 280.4L1177 262.8L1154.9 247.1L1156.2 244.7L1172.4 256.4L1190.7 268.4L1212.1 281.3L1236.8 295.2L1270.9 313.1L1305.8 330.2L1341 346.1L1370.6 358.2L1369.3 361Z"/>
<path fill="#eaeaff" stroke="#eaeaff" stroke-width="1.1" d="M1371.3 356.8L1370.6 358.2L1368.7 357.5L1330.6 341.5L1294.8 324.9L1258.2 306.6L1226.6 289.6L1199.5 273.8L1175.3 258.4L1156.2 244.7L1157.4 242.3L1175.7 255.3L1198.6 269.9L1225.5 285.5L1255.5 301.7L1285.6 316.9L1316.9 331.8L1346 344.7L1372.1 355.2L1371.3 356.8Z"/>
<path fill="#eeeeff" stroke="#eeeeff" stroke-width="1.1" d="M1372.4 354.7L1372.1 355.2L1355.7 348.7L1320.2 333.3L1287.1 317.7L1254.1 301L1224.3 284.9L1198.6 269.9L1175.7 255.3L1157.4 242.3L1158.7 239.9L1177 252.8L1198.8 266.7L1224.4 281.6L1252.8 296.9L1284 312.7L1316.8 328.2L1347.5 341.7L1373.6 352.2L1372.4 354.7Z"/>
<path fill="#f1f1ff" stroke="#f1f1ff" stroke-width="1.1" d="M1374.4 350.5L1373.6 352.2L1336.9 337.2L1299.2 320L1261 301.1L1229.3 284.3L1202.1 268.7L1177.9 253.5L1158.7 239.9L1160 237.5L1179.2 251L1202.3 265.5L1229.4 281L1259.6 297L1289.9 312.1L1319.9 326.1L1350.6 339.5L1375.1 349.2L1374.4 350.5Z"/>
<path fill="#f5f5ff" stroke="#f5f5ff" stroke-width="1.1" d="M1375.5 348.4L1375.1 349.2L1364.9 345.3L1326.5 329L1293 313.5L1258.2 296.3L1228.2 280.3L1201.2 264.8L1178.2 250.4L1160 237.5L1161.3 235.1L1179.5 247.9L1201.4 261.6L1227.1 276.4L1255.5 291.5L1286.9 307.1L1319.7 322.5L1350.4 335.8L1376.6 346.2L1375.5 348.4Z"/>
<path fill="#f8f8ff" stroke="#f8f8ff" stroke-width="1.1" d="M1377.5 344.3L1376.6 346.2L1343.3 332.8L1305.2 315.8L1265.2 296.4L1233.3 279.8L1204.7 263.6L1180.5 248.6L1161.3 235.1L1162.6 232.7L1181.8 246.1L1204.9 260.4L1232.1 275.8L1263.8 292.3L1294.3 307.2L1324.4 321.1L1353.7 333.6L1378 343.2L1377.5 344.3Z"/>
<path fill="#fcfcff" stroke="#fcfcff" stroke-width="1.1" d="M1378.5 342.2L1378 343.2L1372.2 341L1332.8 324.7L1297.3 308.7L1261 290.9L1230.9 275.1L1203.8 259.8L1180.8 245.5L1162.6 232.7L1163.8 230.4L1182.1 243.1L1204 256.6L1229.8 271.2L1259.7 286.8L1291.2 302.3L1322.6 316.7L1353.3 330L1379.5 340.2L1378.5 342.2Z"/>
<path fill="#ffffff" stroke="#ffffff" stroke-width="1.1" d="M1379.6 340.1L1355.1 330.7L1322.6 316.7L1289.7 301.6L1258.3 286.1L1229.8 271.2L1204 256.6L1182.1 243.1L1163.8 230.4L1165.1 228L1182.4 240L1203.1 252.8L1227.4 266.6L1255.6 281.4L1288.1 297.4L1320.7 312.4L1353 326.3L1381 337.2L1379.6 340.1Z"/>
<path fill="#ffffff" stroke="#ffffff" stroke-width="1.1" d="M1381.6 335.9L1381 337.2L1379 336.5L1339.1 320.4L1301.7 303.8L1265.2 286.2L1234.8 270.6L1207.6 255.4L1184.4 241.3L1165.1 228L1166.4 225.6L1184.7 238.2L1207.8 252.2L1233.7 266.6L1263.8 282.1L1295.5 297.5L1327.1 311.7L1358.1 324.8L1382.5 334.2L1381.6 335.9Z"/>
<path fill="#ffffff" stroke="#ffffff" stroke-width="1.1" d="M1382.6 333.8L1382.5 334.2L1381 333.7L1363.5 327L1328.7 312.5L1294 296.7L1261.1 280.8L1232.4 266L1206.6 251.6L1184.7 238.2L1166.4 225.6L1167.7 223.2L1185 235.1L1206.8 248.4L1231.3 262.1L1259.7 276.7L1292.4 292.6L1325.3 307.5L1357.7 321.2L1383.9 331.2L1382.6 333.8Z"/>
<path fill="#ffffff" stroke="#ffffff" stroke-width="1.1" d="M1384.7 329.7L1383.9 331.2L1347.2 316.8L1307.7 299.6L1269.3 281.5L1237.5 265.4L1210.2 250.4L1187 236.4L1167.7 223.2L1169 220.9L1187.3 233.3L1210.4 247.2L1236.4 261.5L1266.6 276.8L1298.4 291.9L1330 306L1360.4 318.7L1385.4 328.3L1384.7 329.7Z"/>
<path fill="#ffffff" stroke="#ffffff" stroke-width="1.1" d="M1385.7 327.6L1385.4 328.3L1373.9 324L1335 308.2L1299.9 292.6L1265.2 276.1L1235.1 260.8L1209.3 246.6L1187.3 233.3L1169 220.9L1170.2 218.5L1187.6 230.3L1209.5 243.4L1234 256.9L1262.5 271.4L1295.3 287.1L1328.1 301.8L1360.7 315.3L1386.9 325.3L1385.7 327.6Z"/>
<path fill="#ffffff" stroke="#ffffff" stroke-width="1.1" d="M1387.8 323.5L1386.9 325.3L1353.6 312.5L1313.7 295.4L1273.5 276.8L1241.5 260.8L1213.9 246L1189.5 231.5L1170.2 218.5L1171.5 216.1L1189.8 228.4L1213 242.2L1240.3 256.9L1270.7 272.1L1301.2 286.4L1332.9 300.3L1363.9 313.1L1388.4 322.3L1387.8 323.5Z"/>
<path fill="#ffffff" stroke="#ffffff" stroke-width="1.1" d="M1388.8 321.4L1388.4 322.3L1382.5 320.2L1342.9 304.6L1305.8 288.5L1269.3 271.4L1239.1 256.3L1213 242.2L1189.8 228.4L1171.5 216.1L1172.8 213.8L1190.1 225.4L1212.1 238.4L1237.9 252.4L1266.6 266.8L1298.1 281.6L1331.4 296.3L1363.6 309.5L1389.8 319.3L1388.8 321.4Z"/>
<path fill="#fffcfc" stroke="#fffcfc" stroke-width="1.1" d="M1389.8 319.3L1363.6 309.5L1331 296.1L1298.1 281.6L1265.2 266.1L1236.7 251.8L1212.1 238.4L1190.1 225.4L1172.8 213.8L1174.1 211.4L1190.5 222.4L1211.2 234.7L1235.6 247.9L1262.5 261.5L1296.5 277.5L1330.8 292.6L1363.9 306.1L1391.3 316.4L1389.8 319.3Z"/>
<path fill="#fff8f8" stroke="#fff8f8" stroke-width="1.1" d="M1391.9 315.2L1391.3 316.4L1389.3 315.7L1349.3 300.3L1310.2 283.6L1272.1 266.1L1241.7 251.1L1215.6 237.2L1192.4 223.6L1174.1 211.4L1175.4 209L1193.7 221.2L1215.8 234.1L1241.8 247.9L1270.7 262.1L1302.4 276.7L1335.6 291.1L1366.5 303.7L1392.8 313.4L1391.9 315.2Z"/>
<path fill="#fff4f4" stroke="#fff4f4" stroke-width="1.1" d="M1392.9 313.1L1371.9 305.8L1337.2 291.8L1302.4 276.7L1268 260.8L1239.4 246.6L1214.7 233.5L1192.7 220.6L1175.4 209L1176.6 206.7L1194 218.1L1214.9 230.3L1239.5 243.4L1266.6 256.8L1299.4 272L1333.7 286.9L1368 300.8L1394.2 310.4L1392.9 313.1Z"/>
<path fill="#fff0f0" stroke="#fff0f0" stroke-width="1.1" d="M1395 309L1394.2 310.4L1355.6 295.9L1316.1 279.4L1276.3 261.4L1245.7 246.6L1218.2 232.2L1195 218.7L1176.6 206.7L1177.9 204.3L1196.3 216.3L1218.4 229.1L1244.5 242.7L1273.5 256.8L1305.3 271.2L1338.5 285.5L1370.2 298.2L1395.7 307.5L1395 309Z"/>
<path fill="#ffecec" stroke="#ffecec" stroke-width="1.1" d="M1396 306.9L1395.7 307.5L1382.3 302.7L1343.5 287.5L1306.8 271.9L1272.1 256.1L1243.3 242.1L1217.3 228.5L1195.3 215.7L1177.9 204.3L1179.2 202L1196.6 213.3L1217.5 225.4L1242.2 238.3L1270.7 252.2L1303.7 267.2L1338.2 281.9L1370.9 295L1397.2 304.5L1396 306.9Z"/>
<path fill="#ffe8e8" stroke="#ffe8e8" stroke-width="1.1" d="M1398.1 302.8L1397.2 304.5L1362.1 291.5L1320.6 274.5L1280.4 256.7L1248.4 241.4L1220.9 227.2L1197.6 213.9L1179.2 202L1180.5 199.6L1198.9 211.5L1221.1 224.1L1247.2 237.6L1277.6 252.1L1309.7 266.4L1341.4 279.8L1372.4 292.1L1398.7 301.6L1398.1 302.8Z"/>
<path fill="#ffe4e4" stroke="#ffe4e4" stroke-width="1.1" d="M1399.1 300.7L1398.7 301.6L1390.9 298.9L1351.4 283.9L1312.7 267.7L1276.3 251.5L1246 237L1220 223.5L1197.9 210.9L1180.5 199.6L1181.8 197.3L1199.2 208.5L1220.2 220.4L1244.9 233.2L1273.5 246.9L1306.5 261.7L1341.2 276.3L1373.9 289.2L1400.2 298.6L1399.1 300.7Z"/>
<path fill="#ffe0e0" stroke="#ffe0e0" stroke-width="1.1" d="M1401.2 296.6L1400.2 298.6L1369 287.3L1326.6 270.3L1284.6 252L1252.4 236.9L1224.7 222.8L1201.2 209.6L1181.8 197.3L1183.1 194.9L1201.5 206.6L1223.7 219.1L1251.2 233.1L1281.8 247.4L1314 261.6L1346 274.8L1377.2 286.9L1401.7 295.6L1401.2 296.6Z"/>
<path fill="#ffdcdc" stroke="#ffdcdc" stroke-width="1.1" d="M1402.2 294.6L1401.7 295.6L1397.7 294.3L1357.8 279.5L1318.7 263.5L1279 246.2L1248.7 231.9L1222.6 218.5L1200.5 206L1183.1 194.9L1184.4 192.5L1201.8 203.6L1222.8 215.4L1248.8 228.7L1277.7 242.3L1310.9 256.9L1344.1 270.7L1376.8 283.4L1403.1 292.7L1402.2 294.6Z"/>
<path fill="#ffd8d8" stroke="#ffd8d8" stroke-width="1.1" d="M1403.2 292.5L1380.5 284.7L1344.1 270.7L1309.4 256.2L1274.9 241L1247.6 228.1L1222.8 215.4L1201.8 203.6L1184.4 192.5L1185.8 190.2L1202.2 200.6L1223 212.4L1246.5 224.3L1273.6 237.1L1306.3 251.6L1342.3 266.5L1376.5 279.8L1404.6 289.7L1403.2 292.5Z"/>
<path fill="#ffd4d4" stroke="#ffd4d4" stroke-width="1.1" d="M1405.3 288.4L1404.6 289.7L1364.2 275.1L1323.1 258.7L1283.2 241.5L1252.7 227.3L1226.4 214.1L1204.1 201.8L1185.8 190.2L1187.1 187.8L1204.5 198.8L1226.6 211.1L1252.8 224.2L1281.9 237.6L1313.8 251.4L1347.1 265L1380.1 277.7L1406.1 286.8L1405.3 288.4Z"/>
<path fill="#ffd0d0" stroke="#ffd0d0" stroke-width="1.1" d="M1406.4 286.3L1406.1 286.8L1390.8 281.6L1352.1 267L1315.3 252.1L1279.1 236.4L1250.3 223L1225.5 210.5L1204.5 198.8L1187.1 187.8L1188.4 185.5L1204.8 195.8L1225.7 207.4L1250.4 219.8L1277.8 232.5L1310.7 246.8L1346.3 261.3L1381.3 274.7L1407.6 283.8L1406.4 286.3Z"/>
<path fill="#ffcccc" stroke="#ffcccc" stroke-width="1.1" d="M1408.5 282.2L1407.6 283.8L1372.4 271.4L1329.2 254.4L1287.5 236.8L1256.7 222.8L1229.1 209.2L1206.8 197L1188.4 185.5L1189.7 183.1L1207.1 194L1229.3 206.1L1255.5 219L1284.7 232.3L1316.7 246L1350.7 259.6L1382.8 271.8L1409.1 280.9L1408.5 282.2Z"/>
<path fill="#ffc8c8" stroke="#ffc8c8" stroke-width="1.1" d="M1409.5 280.2L1409.1 280.9L1399.4 277.7L1360.1 263.3L1321.3 247.9L1283.3 231.7L1254.3 218.5L1228.2 205.5L1207.1 194L1189.7 183.1L1191 180.8L1207.5 191L1228.4 202.5L1253.2 214.7L1280.6 227.2L1313.6 241.4L1349.9 255.9L1384.3 268.9L1410.6 278L1409.5 280.2Z"/>
<path fill="#ffc4c4" stroke="#ffc4c4" stroke-width="1.1" d="M1411.6 276.1L1410.6 278L1378.9 266.9L1335.3 250.2L1291.7 232.1L1260.7 218.3L1232.9 204.8L1209.5 192.1L1191 180.8L1192.4 178.4L1209.8 189.2L1232 201.1L1258.3 213.9L1288.9 227.6L1321.2 241.1L1354.7 254.4L1387.6 266.7L1412.2 275L1411.6 276.1Z"/>
<path fill="#ffc0c0" stroke="#ffc0c0" stroke-width="1.1" d="M1412.7 274L1412.2 275L1408 273.7L1366.5 258.9L1325.8 243L1286.2 226.4L1257.1 213.3L1230.9 200.6L1209.8 189.2L1192.4 178.4L1193.7 176.1L1210.2 186.2L1231.1 197.5L1256 209.6L1284.8 222.6L1318.1 236.5L1352.9 250.3L1387.3 263.1L1413.7 272.1L1412.7 274Z"/>
<path fill="#ffbcbc" stroke="#ffbcbc" stroke-width="1.1" d="M1413.7 272L1389.1 263.8L1352.9 250.3L1316.5 235.9L1282.1 221.4L1254.7 209L1231.1 197.5L1210.2 186.2L1193.7 176.1L1195.1 173.7L1211.5 183.8L1231.4 194.5L1254.9 205.9L1280.8 217.6L1315 232L1351.1 246.2L1387.1 259.6L1415.2 269.1L1413.7 272Z"/>
<path fill="#ffb8b8" stroke="#ffb8b8" stroke-width="1.1" d="M1415.9 267.9L1415.2 269.1L1374.7 255.1L1331.8 238.8L1290.4 221.7L1259.9 208.2L1234.8 196.2L1212.5 184.3L1195.1 173.7L1196.4 171.4L1212.9 181.4L1233.9 192.6L1258.8 204.5L1287.7 217.3L1321 231.1L1355.9 244.7L1390.1 257.2L1416.7 266.2L1415.9 267.9Z"/>
<path fill="#ffb4b4" stroke="#ffb4b4" stroke-width="1.1" d="M1416.9 265.8L1416.7 266.2L1399.5 260.5L1360.9 246.6L1322.5 231.7L1286.3 216.7L1258.8 204.5L1233.9 192.6L1212.9 181.4L1196.4 171.4L1197.8 169L1214.3 179L1234.2 189.6L1257.7 200.8L1283.7 212.4L1318 226.6L1354.2 240.7L1390.1 253.8L1418.3 263.3L1416.9 265.8Z"/>
<path fill="#ffb0b0" stroke="#ffb0b0" stroke-width="1.1" d="M1419.1 261.7L1418.3 263.3L1381.2 250.7L1338 234.5L1294.7 217.1L1263.9 203.7L1237.5 191.2L1215.2 179.5L1197.8 169L1199.2 166.7L1216.6 177.1L1237.8 188.2L1262.8 200L1292 212.7L1358.9 239.1L1393.5 251.6L1419.8 260.3L1419.1 261.7Z"/>
<path fill="#ffacac" stroke="#ffacac" stroke-width="1.1" d="M1420.2 259.7L1419.8 260.3L1410.1 257.2L1369 242.8L1328.6 227.5L1290.6 212.1L1261.6 199.4L1236.7 187.6L1215.6 176.6L1199.2 166.7L1200.6 164.3L1217 174.2L1237 184.6L1260.5 195.8L1287.9 207.7L1321 221.2L1357.2 235L1393.2 248.1L1421.4 257.4L1420.2 259.7Z"/>
<path fill="#ffa8a8" stroke="#ffa8a8" stroke-width="1.1" d="M1422.3 255.6L1421.4 257.4L1389.6 246.8L1344.2 230.2L1299.1 212.3L1268.1 199.2L1241.5 186.8L1219 175.3L1200.6 164.3L1202 162L1219.4 172.3L1240.6 183.2L1265.7 194.9L1296.3 208L1363.7 234.1L1396.6 245.8L1422.9 254.4L1422.3 255.6Z"/>
<path fill="#ffa4a4" stroke="#ffa4a4" stroke-width="1.1" d="M1423.4 253.5L1422.9 254.4L1417 252.6L1375.5 238.4L1333.2 222.6L1293.5 206.8L1264.5 194.3L1239.5 182.7L1218.4 171.8L1202 162L1203.4 159.6L1219.8 169.4L1239.8 179.7L1263.4 190.7L1292.3 203.1L1325.5 216.3L1361.9 230.1L1398.2 242.9L1424.5 251.5L1423.4 253.5Z"/>
<path fill="#ffa0a0" stroke="#ffa0a0" stroke-width="1.1" d="M1424.5 251.5L1396.4 242.3L1360.3 229.4L1323.2 215.4L1289.5 201.9L1262.2 190.1L1238.7 179.1L1218.9 168.8L1203.4 159.6L1204.8 157.3L1223.2 168L1245.7 179.4L1273.7 192L1306.4 205.5L1370.1 229.7L1401.5 240.7L1426.1 248.6L1424.5 251.5Z"/>
<path fill="#ff9c9c" stroke="#ff9c9c" stroke-width="1.1" d="M1426.7 247.4L1426.1 248.6L1424.1 248L1383.8 234.5L1339.4 218.3L1297.9 202.1L1268.6 189.8L1243.5 178.3L1222.2 167.5L1204.8 157.3L1206.2 154.9L1222.7 164.5L1242.7 174.7L1266.3 185.6L1295.3 197.8L1328.6 210.9L1365.1 224.4L1400.4 236.8L1427.7 245.6L1426.7 247.4Z"/>
<path fill="#ff9898" stroke="#ff9898" stroke-width="1.1" d="M1427.8 245.3L1408.6 239.6L1368.4 225.6L1328.6 210.9L1293.9 197.2L1266.3 185.6L1242.7 174.7L1222.7 164.5L1206.2 154.9L1207.7 152.6L1223.1 161.6L1241.9 171.2L1264.1 181.4L1291.3 193L1325.6 206.5L1363.3 220.5L1401.1 233.7L1429.3 242.7L1427.8 245.3Z"/>
<path fill="#ff9494" stroke="#ff9494" stroke-width="1.1" d="M1430.1 241.3L1429.3 242.7L1392.2 230.6L1345.6 214L1302.4 197.4L1271.6 184.7L1246.4 173.3L1225.1 162.7L1207.7 152.6L1209.1 150.2L1225.6 159.7L1246.7 170.3L1270.6 181.1L1299.7 193.1L1368.2 218.8L1404.5 231.4L1430.9 239.8L1430.1 241.3Z"/>
<path fill="#ff9090" stroke="#ff9090" stroke-width="1.1" d="M1431.2 239.2L1430.9 239.8L1419.3 236.2L1376 221.6L1334.8 206.6L1296.9 192L1269.3 180.5L1245.6 169.8L1225.6 159.7L1209.1 150.2L1210.6 147.9L1226 156.8L1244.8 166.3L1267.1 176.4L1294.4 187.7L1328.8 201.1L1366.6 214.9L1404.4 227.9L1432.5 236.8L1431.2 239.2Z"/>
<path fill="#ff8c8c" stroke="#ff8c8c" stroke-width="1.1" d="M1433.4 235.1L1432.5 236.8L1400.8 226.7L1352 209.6L1305.5 192.1L1274.6 179.6L1249.3 168.4L1228 157.8L1210.6 147.9L1212.1 145.5L1228.5 154.9L1249.7 165.4L1273.6 176L1302.8 187.9L1371.5 213.2L1407.8 225.6L1434.1 233.9L1433.4 235.1Z"/>
<path fill="#ff8888" stroke="#ff8888" stroke-width="1.1" d="M1434.6 233.1L1434.1 233.9L1428.3 232.1L1385 217.9L1341.1 202.3L1301.4 187.3L1272.3 175.4L1248.5 164.9L1228.5 154.9L1212.1 145.5L1213.6 143.1L1229 152L1248.9 161.9L1271.4 171.8L1298.8 183.1L1332 195.7L1369.8 209.3L1407.7 222.1L1435.8 230.9L1434.6 233.1Z"/>
<path fill="#ff8484" stroke="#ff8484" stroke-width="1.1" d="M1436.9 229L1435.8 230.9L1409.4 222.7L1358.4 205.2L1310 187.4L1278.9 175L1252.3 163.4L1231 153L1213.6 143.1L1215.1 140.8L1231.5 150.1L1252.7 160.4L1277.9 171.4L1307.4 183.1L1376.5 208.2L1411.1 219.8L1437.4 228L1436.9 229Z"/>
<path fill="#ff8080" stroke="#ff8080" stroke-width="1.1" d="M1438 226.9L1437.4 228L1435.5 227.4L1393.5 214L1347.4 198L1304.6 182.1L1275.4 170.4L1251.6 159.9L1231.5 150.1L1215.1 140.8L1216.7 138.4L1232 147.2L1252 156.9L1274.5 166.8L1302 177.8L1373.2 203.7L1411.3 216.4L1439.1 225.1L1438 226.9Z"/>
<path fill="#ff7c7c" stroke="#ff7c7c" stroke-width="1.1" d="M1439.2 224.9L1416.4 218.1L1376.5 204.8L1335.3 190.3L1300.7 177.3L1273.2 166.2L1250.9 156.4L1232 147.2L1216.7 138.4L1218.2 136L1235.6 145.8L1258.1 156.5L1284.9 167.9L1316.3 180L1383.2 203.7L1440.8 222.1L1439.2 224.9Z"/>
<path fill="#ff7878" stroke="#ff7878" stroke-width="1.1" d="M1441.6 220.8L1440.8 222.1L1403.8 210.6L1353.9 193.6L1307.8 176.8L1278.5 165.3L1254.6 155L1234.6 145.3L1218.2 136L1219.8 133.7L1235.1 142.3L1255.1 152L1277.6 161.7L1305.3 172.6L1375.7 197.7L1414.4 210.6L1442.5 219.2L1441.6 220.8Z"/>
<path fill="#ff7474" stroke="#ff7474" stroke-width="1.1" d="M1442.8 218.7L1442.5 219.2L1429.1 215.2L1385.2 201L1341.6 185.9L1303.9 172.1L1276.4 161.2L1254 151.5L1235.1 142.3L1219.8 133.7L1221.4 131.3L1238.7 140.9L1260.1 151L1286.9 162.2L1318.2 174.2L1385 197.5L1444.2 216.2L1442.8 218.7Z"/>
<path fill="#ff7070" stroke="#ff7070" stroke-width="1.1" d="M1445.2 214.6L1444.2 216.2L1412.6 206.5L1360.5 189.2L1312.5 172.1L1283 160.7L1257.8 150L1237.7 140.4L1221.4 131.3L1223.1 128.9L1238.3 137.5L1258.3 147L1282.1 157.1L1310 167.9L1380.1 192.4L1418 204.8L1446 213.3L1445.2 214.6Z"/>
<path fill="#ff6c6c" stroke="#ff6c6c" stroke-width="1.1" d="M1446.4 212.5L1446 213.3L1440.1 211.6L1395.2 197.4L1348.1 181.5L1307.2 166.8L1279.6 156.1L1257.1 146.5L1238.3 137.5L1223.1 128.9L1224.7 126.6L1239 134.6L1257.7 143.5L1278.8 152.5L1304.8 162.7L1376.9 188L1417.9 201.3L1447.8 210.3L1446.4 212.5Z"/>
<path fill="#ff6868" stroke="#ff6868" stroke-width="1.1" d="M1448.9 208.4L1447.8 210.3L1423.3 203L1367.2 184.7L1315.9 166.8L1286.3 155.6L1261 145L1240.9 135.6L1224.7 126.6L1226.4 124.2L1241.6 132.7L1261.5 142.1L1285.4 152L1313.4 162.6L1383.7 186.8L1449.5 207.4L1448.9 208.4Z"/>
<path fill="#ff6464" stroke="#ff6464" stroke-width="1.1" d="M1450.1 206.4L1449.5 207.4L1447.6 206.8L1405.7 193.9L1353.2 176.6L1310.6 161.6L1282.9 151L1260.4 141.6L1241.6 132.7L1226.4 124.2L1228.1 121.8L1242.3 129.7L1259.9 138.1L1282.1 147.5L1308.2 157.4L1380.5 182.3L1422.9 195.9L1451.3 204.4L1450.1 206.4Z"/>
<path fill="#ff6060" stroke="#ff6060" stroke-width="1.1" d="M1451.4 204.3L1425.2 196.6L1380.5 182.3L1306.8 156.9L1280.9 147L1259.9 138.1L1242.3 129.7L1228.1 121.8L1229.9 119.4L1246 128.3L1266 137.6L1291.4 147.9L1322.5 159.3L1390.7 182.2L1453.2 201.4L1451.4 204.3Z"/>
<path fill="#ff5c5c" stroke="#ff5c5c" stroke-width="1.1" d="M1454 200.2L1453.2 201.4L1416.3 190.4L1359.9 172.1L1314.1 156.3L1286.3 145.9L1263.8 136.6L1245 127.8L1229.9 119.4L1231.7 117L1245.8 124.9L1263.3 133.1L1285.6 142.4L1311.7 152.2L1382.6 176.2L1455 198.5L1454 200.2Z"/>
<path fill="#ff5858" stroke="#ff5858" stroke-width="1.1" d="M1455.3 198.1L1455 198.5L1439.8 194.1L1390.9 178.8L1346.4 164.2L1310.4 151.7L1284.3 141.9L1263.3 133.1L1245.8 124.9L1231.7 117L1233.6 114.6L1249.5 123.4L1269.5 132.6L1294.9 142.7L1324.7 153.5L1392.8 176L1456.9 195.5L1455.3 198.1Z"/>
<path fill="#ff5454" stroke="#ff5454" stroke-width="1.1" d="M1457.9 194L1456.9 195.5L1427.2 186.8L1366.8 167.6L1317.7 151L1289.8 140.8L1267.3 131.6L1248.5 122.9L1233.6 114.6L1235.5 112.2L1249.3 120L1266.8 128.2L1289.1 137.3L1315.4 146.9L1385.7 170.3L1458.8 192.5L1457.9 194Z"/>
<path fill="#ff5050" stroke="#ff5050" stroke-width="1.1" d="M1459.2 191.9L1458.8 192.5L1451.1 190.4L1403.1 175.8L1353.2 159.8L1314 146.5L1287.9 136.8L1266.8 128.2L1249.3 120L1235.5 112.2L1237.4 109.8L1248.4 116.1L1262.2 122.8L1278.9 129.9L1299.8 138.1L1331.3 149.2L1370.6 162.1L1423.4 178.6L1460.8 189.5L1459.2 191.9Z"/>
<path fill="#ff4c4c" stroke="#ff4c4c" stroke-width="1.1" d="M1461.9 187.7L1460.8 189.5L1438.3 183.1L1372.2 162.6L1321.4 145.8L1293.5 135.7L1269.7 126.1L1251.2 117.5L1237.4 109.8L1239.4 107.3L1253.1 115.1L1270.5 123.2L1292.8 132.1L1319.1 141.7L1387.1 163.9L1462.7 186.6L1461.9 187.7Z"/>
<path fill="#ff4848" stroke="#ff4848" stroke-width="1.1" d="M1463.3 185.7L1462.7 186.6L1460.8 186L1415.6 172.7L1358.6 154.8L1316.4 140.7L1290.3 131.2L1269.4 122.7L1252.2 114.6L1239.4 107.3L1241.5 104.9L1252.3 111.2L1266 117.8L1282.6 124.9L1303.6 132.9L1333.7 143.3L1371.5 155.5L1428.1 172.9L1464.7 183.6L1463.3 185.7Z"/>
<path fill="#ff4444" stroke="#ff4444" stroke-width="1.1" d="M1464.7 183.6L1381.5 158.7L1312.9 136.2L1288.6 127.2L1269.1 119.2L1253.2 111.7L1241.5 104.9L1243.7 102.4L1257.1 110.1L1275.5 118.6L1299.2 127.9L1328.6 138.3L1396.1 159.7L1466.7 180.6L1464.7 183.6Z"/>
<path fill="#ff4040" stroke="#ff4040" stroke-width="1.1" d="M1467.5 179.4L1466.7 180.6L1431.8 170.5L1365.7 150.3L1320.3 135.4L1294.2 126.1L1273.3 117.7L1256.1 109.7L1243.7 102.4L1246 100L1257.3 106.7L1273.1 114.2L1293.7 122.6L1318.2 131.4L1383.6 152.4L1468.8 177.6L1467.5 179.4Z"/>
<path fill="#ff3c3c" stroke="#ff3c3c" stroke-width="1.1" d="M1469 177.3L1450.1 172.3L1390 154.4L1348 141.3L1315.5 130.5L1292.5 122.1L1273.1 114.2L1257.3 106.7L1246 100L1248.4 97.5L1260.4 104.7L1278.4 113.1L1300.7 121.8L1329.9 132L1393.8 152L1470.9 174.6L1469 177.3Z"/>
<path fill="#ff3838" stroke="#ff3838" stroke-width="1.1" d="M1471.9 173.1L1470.9 174.6L1444.6 167.1L1371.4 145.2L1322.9 129.7L1297 120.4L1276.2 112.2L1260.4 104.7L1248.4 97.5L1250.9 95L1261.7 101.7L1277.3 109.2L1297.8 117.4L1322.3 126.1L1384.7 145.8L1473 171.6L1471.9 173.1Z"/>
<path fill="#ff3434" stroke="#ff3434" stroke-width="1.1" d="M1473.4 171L1473 171.6L1463.5 169L1404.2 151.6L1355.2 136.7L1319.6 125.2L1295.4 116.5L1276.2 108.7L1261.7 101.7L1250.9 95L1253.6 92.4L1262.4 98.2L1274.4 104.3L1289.4 110.7L1308.7 118L1335.5 127.1L1371.1 138.2L1475.2 168.6L1473.4 171Z"/>
<path fill="#ff3030" stroke="#ff3030" stroke-width="1.1" d="M1476.5 166.8L1475.2 168.6L1457.4 163.6L1375.8 139.6L1325.8 123.9L1300 114.8L1279.5 106.6L1264.1 99.2L1253.6 92.4L1256.5 89.8L1265.8 96.2L1280.8 103.6L1301 111.8L1325.3 120.3L1384.4 138.7L1477.4 165.5L1476.5 166.8Z"/>
<path fill="#ff2c2c" stroke="#ff2c2c" stroke-width="1.1" d="M1478 164.7L1477.4 165.5L1475.5 165L1421 149.4L1361.2 131.7L1321.3 119L1298.6 110.9L1279.7 103.1L1265.8 96.2L1256.5 89.8L1259.8 87.2L1268.5 93.6L1281.1 100.1L1299.7 107.8L1322.3 115.8L1378.8 133.5L1479.7 162.5L1478 164.7Z"/>
<path fill="#ff2828" stroke="#ff2828" stroke-width="1.1" d="M1481.2 160.5L1479.7 162.5L1468.4 159.5L1377.3 133.1L1327.6 117.6L1302.1 108.7L1282.1 100.6L1268.5 93.6L1259.8 87.2L1263.5 84.4L1271.4 90.9L1283.7 97.5L1302.1 105.2L1327.3 114.1L1381.2 130.7L1482 159.5L1481.2 160.5Z"/>
<path fill="#ff2424" stroke="#ff2424" stroke-width="1.1" d="M1482.8 158.4L1482 159.5L1449.3 150.3L1367.4 126.6L1323.3 112.7L1299.8 104.3L1282.7 97L1270.6 90.5L1263.5 84.4L1268.1 81.5L1272.6 85.5L1272.8 86.7L1274.2 88L1284.5 93.9L1301.2 101.2L1324.4 109.6L1377.5 126L1484.4 156.4L1482.8 158.4Z"/>
<path fill="#ff2020" stroke="#ff2020" stroke-width="1.1" d="M1484.5 156.2L1377.5 126L1344.9 116.2L1319.3 107.8L1297.8 99.8L1282.7 93L1274 87.8L1272.5 86.3L1272.6 85.5L1268.1 81.5L1276.6 77.5L1274.4 78.9L1274.6 80L1279.3 84.6L1278.9 85.4L1279.2 85.9L1281 87.5L1291.2 93.1L1308.4 100.3L1332.3 108.6L1363.4 118.3L1486.8 153.3L1484.5 156.2Z"/>
<path fill="#ff1c1c" stroke="#ff1c1c" stroke-width="1.1" d="M1487.9 152L1486.8 153.3L1466.6 147.8L1369.4 120.1L1323.1 105.6L1301.6 97.6L1285.7 90.3L1279.2 85.9L1278.9 85.4L1279.3 84.6L1275.1 80.7L1274.4 78.9L1276.6 77.5L1291.7 74.6L1284 76.4L1281.6 78L1282.3 79.5L1286.5 83.6L1285.9 85.1L1293.4 89.9L1307.8 96.3L1331 104.6L1363.1 114.6L1489.3 150.3L1487.9 152Z"/>
<path fill="#ff1818" stroke="#ff1818" stroke-width="1.1" d="M1489.7 149.8L1489.3 150.3L1480 147.8L1382.7 120.3L1350.1 110.7L1324.5 102.4L1304.5 94.9L1290.8 88.5L1285.9 85.1L1286.5 83.6L1282.3 79.5L1281.6 78L1284 76.4L1291.7 74.6L1299.2 73.8L1294.2 74.7L1289.5 77.1L1290.5 78.9L1294.2 82.6L1294.3 83.2L1293.1 84.1L1294.7 85.7L1298.8 88.1L1312 94L1333.8 101.8L1364.4 111.3L1491.9 147.2L1489.7 149.8Z"/>
<path fill="#ff1414" stroke="#ff1414" stroke-width="1.1" d="M1493.3 145.5L1491.9 147.2L1482.6 144.7L1376.3 114.8L1331.2 101L1310.8 93.5L1297 87.1L1293.5 84.6L1293.1 83.9L1294.3 83.2L1294.2 82.6L1290.5 78.9L1289.5 77.1L1294.2 74.7L1307.4 73.1L1301.5 74.3L1298.2 76.3L1302.9 81.9L1301.2 83.6L1306.2 87.1L1318.6 92.5L1339.4 99.9L1368.8 108.9L1494.5 144.1L1493.3 145.5Z"/>
<path fill="#ff1010" stroke="#ff1010" stroke-width="1.1" d="M1495.1 143.3L1494.5 144.1L1490.8 143.1L1393.1 115.9L1358.6 105.9L1333 97.7L1315.3 91.2L1303.7 85.7L1301.2 83.6L1302.7 82.6L1302.6 81.3L1299 77.7L1298.2 76.3L1301.5 74.3L1307.4 73.1L1316.7 72.5L1309.2 74.6L1307.9 75.6L1312.3 81.1L1312.2 81.8L1310.1 82.9L1310.9 84L1314.1 86L1324.4 90.5L1344 97.5L1370.4 105.6L1497.2 141L1495.1 143.3Z"/>
<path fill="#ff0c0c" stroke="#ff0c0c" stroke-width="1.1" d="M1499 139L1497.2 141L1493.5 140L1380.8 108.6L1341.3 96.6L1323.3 90.1L1312.4 85L1310.1 82.9L1312.2 81.8L1312 80.5L1307.9 75.6L1309.2 74.6L1315.9 72.6L1327.3 72.1L1320.4 74L1319 75.1L1322.2 78.9L1322.9 80.7L1320 82.7L1323.5 85.3L1332.8 89.4L1351.4 95.9L1376.6 103.5L1500.1 137.8L1499 139Z"/>
<path fill="#ff0808" stroke="#ff0808" stroke-width="1.1" d="M1501 136.8L1500.1 137.8L1492.8 135.8L1382.5 105.2L1344.9 93.7L1329.5 88L1321 83.8L1320.1 82.4L1322.4 81.5L1322.8 80.1L1319 75.1L1320.4 74L1327.2 72.1L1339.9 72L1333.6 73.7L1331.9 74.8L1334.5 78.2L1335.1 80L1334.8 80.7L1331.3 82.2L1332 83.4L1333.5 84.4L1340.6 87.6L1356.5 93.3L1380.2 100.5L1503 134.6L1501 136.8Z"/>
<path fill="#ff0404" stroke="#ff0404" stroke-width="1.1" d="M1503.1 134.6L1386.1 102.2L1348.9 90.7L1337.4 86.3L1332 83.4L1331.3 82.2L1334.8 80.7L1335.1 80L1334.5 78.2L1331.9 74.8L1333.6 73.7L1339.9 72L1355.4 72.3L1347.6 74.9L1349.5 78.2L1349.3 79.6L1347.6 81.2L1344.3 82.3L1344.7 83.3L1348.2 85.3L1355.9 88.5L1378.4 95.7L1506.1 131.4L1503.1 134.6Z"/>
<path fill="#ff0000" stroke="#ff0000" stroke-width="1.1" d="M1507.4 130.1L1506.1 131.4L1504.3 131L1382.7 97L1353.6 87.6L1346.3 84.3L1344.3 82.3L1347.6 81.2L1349.3 79.6L1349.5 78.2L1347.6 74.9L1354.9 72.4L1376.3 73.4L1367.9 75.6L1368.1 77.5L1367.5 79L1365.3 80.8L1359.5 82.8L1359.7 83.4L1363.1 85.5L1368.7 87.8L1388.6 94.2L1509.3 128.2L1507.4 130.1Z"/>
<path fill="#ff0000" stroke="#ff0000" stroke-width="1.1" d="M1509.6 127.9L1509.3 128.2L1505.7 127.2L1388.6 94.2L1366.4 86.9L1361.2 84.5L1359.5 82.8L1365.3 80.8L1366.5 79.9L1368 78.2L1367.9 75.6L1376.3 73.4L1410 76.2L1397.5 77.4L1377.8 83.7L1378.7 84.8L1382.7 86.8L1399.8 92.7L1512.7 125L1509.6 127.9Z"/>
<path fill="#ff0000" stroke="#ff0000" stroke-width="1.1" d="M1514.5 123.3L1512.7 125L1411 96L1386.2 88.2L1379.6 85.4L1377.8 83.7L1397.5 77.4L1410 76.2L1484.1 84.9L1449.5 82.3L1430.7 81.7L1413.9 82.5L1400.1 85.2L1401.2 86.3L1404.2 87.8L1418.4 92.9L1516.3 121.6L1514.5 123.3Z"/>
<path fill="#ff0000" stroke="#ff0000" stroke-width="1.1" d="M1517 121L1516.3 121.6L1514.5 121.1L1422.7 94.2L1405.3 88.3L1401.2 86.3L1400.1 85.2L1415.3 82.4L1427.4 81.8L1442.4 81.9L1479.5 84.4L1539.5 90.7L1487.5 86.6L1458.5 85.1L1441.8 85.1L1427 87.3L1427.9 88.5L1431 90L1442.6 94.3L1520.2 118.3L1517 121Z"/>
<path fill="#ff0000" stroke="#ff0000" stroke-width="1.1" d="M1522.6 116.3L1520.2 118.3L1512.3 115.9L1441.2 93.9L1431 90L1427.9 88.5L1427 87.3L1441.8 85.1L1464 85.3L1569.8 92.9L1517.1 89.2L1487 87.8L1469.8 87.9L1456.4 89.8L1457.2 91L1460 92.7L1470.1 96.8L1524.4 114.8L1522.6 116.3Z"/>
<path fill="#ff0000" stroke="#ff0000" stroke-width="1.1" d="M1525.6 113.8L1524.4 114.8L1477 99.3L1461.2 93.3L1457.2 91L1456.4 89.8L1469.8 87.9L1487 87.8L1517.1 89.2L1569.8 92.9L1591.7 93.7L1544.5 91L1512.8 89.8L1498 90L1484.8 92.1L1485.1 93.4L1486.6 94.7L1493.3 98.1L1509.5 104.4L1529.1 111.2L1525.6 113.8Z"/>
<path fill="#f70000" stroke="#f70000" stroke-width="1.1" d="M1532.5 108.8L1529.1 111.2L1518.3 107.6L1492 97.5L1485.8 94L1484.7 92.6L1484.8 92.1L1498 90L1512.8 89.8L1541.7 90.8L1593.1 93.8L1588.7 92.9L1583.1 92.6L1538.4 91.1L1523.2 91.5L1509.9 93.7L1509.5 94.3L1510.1 95.9L1514.2 98.9L1523.2 103.1L1534.4 107.5L1532.5 108.8Z"/>
<path fill="#db0000" stroke="#db0000" stroke-width="1.1" d="M1536.6 106.1L1534.4 107.5L1522.1 102.6L1512.5 97.8L1510.1 95.9L1509.5 94.3L1509.9 93.7L1517.3 92.1L1531.5 91.2L1554.1 91.5L1588.7 92.9L1578.9 92.2L1553.3 92L1544.4 92.5L1531.6 94.7L1530.7 96.2L1532.2 98.5L1540.9 103.5L1536.6 106.1Z"/>
<path fill="#cd0000" stroke="#cd0000" stroke-width="1.1" d="M1541.4 103.2L1540.9 103.5L1538.4 102.3L1533.1 99.1L1531 97L1531.1 95.2L1536.9 93.5L1549.2 92.2L1582.9 92.3L1565 92.8L1558.7 93.6L1550.8 95.3L1549.6 97.1L1550.3 98.7L1541.4 103.2Z"/>
<path fill="#cd0000" stroke="#cd0000" stroke-width="1.1" d="M1558.7 95.5L1550.3 98.7L1549.6 97.1L1550.8 95.3L1558.7 93.6L1573.9 92.4L1558.7 95.5Z"/>
<path fill="none" stroke="#000" stroke-opacity="0.55" stroke-width="1" d="M1145.9 418.2L1146 416.2L1144.4 412.8L1138 404.7L1090.6 356.8M1300.6 424.1L1276.8 411.8L1253.4 398.9L1229 384.4L1205.3 369.4L1181.1 353.1L1158.1 336.6L1138.4 321.4L1121.6 307.3M1360.9 377.9L1334.9 366.9L1304.3 352.7L1273.2 337.3L1243.5 321.4L1215.2 305.3L1188.6 288.9L1165.9 273.8L1147.8 260.3M1389.5 320.1L1363.2 310.2L1330.7 296.8L1297.8 282.2L1264.9 266.8L1236.3 252.4L1211.8 239.1L1189.8 226L1172.5 214.4M1418.3 263.2L1390.1 253.8L1354.4 240.7L1318 226.6L1285 212.9L1257.7 200.8L1234.2 189.5L1214.3 179L1197.8 169M1450 206.6L1421.2 197.9L1377.6 183.9L1338.4 170.6L1305.6 158.9L1279.6 148.8L1258.6 139.9L1241.1 131.5L1226.9 123.5M1490.6 148.7L1366 113.6L1336.4 104.4L1313.9 96.6L1298 89.9L1292.7 87.1L1290 85.1L1289.5 84.2L1290.5 83.7L1290.4 83L1286.5 79.3L1285.6 77.5L1289.1 75.5L1295.5 74.2"/>
<line x1="1029.7" y1="444.8" x2="1334.6" y2="557" stroke="#333" stroke-width="1.6"/>
<line x1="1334.6" y1="557" x2="1576.6" y2="428.9" stroke="#333" stroke-width="1.6"/>
<line x1="1576.6" y1="428.9" x2="1595.3" y2="47.9" stroke="#333" stroke-width="1.6"/>
<line x1="1291.2" y1="541.1" x2="1297" y2="538.2" stroke="#333" stroke-width="1.6"/>
<line x1="1249.6" y1="525.7" x2="1261.8" y2="519.9" stroke="#333" stroke-width="1.6"/>
<line x1="1209.5" y1="511" x2="1215.3" y2="508.3" stroke="#333" stroke-width="1.6"/>
<line x1="1170.8" y1="496.7" x2="1183.2" y2="491.3" stroke="#333" stroke-width="1.6"/>
<line x1="1133.6" y1="483" x2="1139.5" y2="480.5" stroke="#333" stroke-width="1.6"/>
<line x1="1097.8" y1="469.8" x2="1110.2" y2="464.8" stroke="#333" stroke-width="1.6"/>
<line x1="1063.1" y1="457.1" x2="1069.1" y2="454.7" stroke="#333" stroke-width="1.6"/>
<line x1="1369.8" y1="538.4" x2="1361.4" y2="535.5" stroke="#333" stroke-width="1.6"/>
<line x1="1403.3" y1="520.7" x2="1388.8" y2="515.7" stroke="#333" stroke-width="1.6"/>
<line x1="1435.4" y1="503.7" x2="1427.2" y2="501" stroke="#333" stroke-width="1.6"/>
<line x1="1466.1" y1="487.4" x2="1451.8" y2="482.9" stroke="#333" stroke-width="1.6"/>
<line x1="1495.5" y1="471.9" x2="1487.4" y2="469.4" stroke="#333" stroke-width="1.6"/>
<line x1="1523.7" y1="457" x2="1509.6" y2="452.8" stroke="#333" stroke-width="1.6"/>
<line x1="1550.7" y1="442.6" x2="1542.7" y2="440.3" stroke="#333" stroke-width="1.6"/>
<line x1="1576.6" y1="428.9" x2="1563.5" y2="425.2" stroke="#333" stroke-width="1.6"/>
<line x1="1579.2" y1="377.2" x2="1565.9" y2="373.8" stroke="#333" stroke-width="1.6"/>
<line x1="1581.7" y1="324.6" x2="1568.4" y2="321.5" stroke="#333" stroke-width="1.6"/>
<line x1="1584.4" y1="271.2" x2="1570.9" y2="268.3" stroke="#333" stroke-width="1.6"/>
<line x1="1587" y1="216.8" x2="1573.4" y2="214.2" stroke="#333" stroke-width="1.6"/>
<line x1="1589.8" y1="161.4" x2="1576" y2="159.1" stroke="#333" stroke-width="1.6"/>
<line x1="1592.5" y1="105.2" x2="1578.6" y2="103.1" stroke="#333" stroke-width="1.6"/>
<line x1="1595.3" y1="47.9" x2="1581.3" y2="46.1" stroke="#333" stroke-width="1.6"/>
<text x="1584.6" y="433.4" font-size="24.5" text-anchor="start">72</text>
<text x="1587.2" y="381.7" font-size="24.5" text-anchor="start">76</text>
<text x="1589.7" y="329.1" font-size="24.5" text-anchor="start">80</text>
<text x="1592.4" y="275.7" font-size="24.5" text-anchor="start">84</text>
<text x="1595" y="221.3" font-size="24.5" text-anchor="start">88</text>
<text x="1597.8" y="165.9" font-size="24.5" text-anchor="start">92</text>
<text x="1600.5" y="109.7" font-size="24.5" text-anchor="start">96</text>
<text x="1603.3" y="52.4" font-size="24.5" text-anchor="start">100</text>
<text x="1013.5" y="471" font-size="26" text-anchor="middle">40</text>
<text x="1083.1" y="497.2" font-size="26" text-anchor="middle">30</text>
<text x="1156.7" y="525.3" font-size="26" text-anchor="middle">20</text>
<text x="1238.2" y="555.6" font-size="26" text-anchor="middle">10</text>
<text x="1339.2" y="588" font-size="26" text-anchor="middle" letter-spacing="1">00</text>
<text x="1416.1" y="550.8" font-size="26" text-anchor="middle">1</text>
<text x="1480.2" y="515.4" font-size="26" text-anchor="middle">2</text>
<text x="1538.5" y="483.8" font-size="26" text-anchor="middle">3</text>
<text x="1591.1" y="455.1" font-size="26" text-anchor="middle">4</text>
<linearGradient id="gb" x1="0" y1="0" x2="0" y2="1"><stop offset="0.0000" stop-color="#cd0000"/><stop offset="0.0167" stop-color="#ff0000"/><stop offset="0.0333" stop-color="#ff0000"/><stop offset="0.0500" stop-color="#ff0000"/><stop offset="0.0667" stop-color="#ff0a0a"/><stop offset="0.0833" stop-color="#ff1414"/><stop offset="0.1000" stop-color="#ff1e1e"/><stop offset="0.1167" stop-color="#ff2828"/><stop offset="0.1333" stop-color="#ff3232"/><stop offset="0.1500" stop-color="#ff3c3c"/><stop offset="0.1667" stop-color="#ff4646"/><stop offset="0.1833" stop-color="#ff5050"/><stop offset="0.2000" stop-color="#ff5a5a"/><stop offset="0.2167" stop-color="#ff6464"/><stop offset="0.2333" stop-color="#ff6e6e"/><stop offset="0.2500" stop-color="#ff7878"/><stop offset="0.2667" stop-color="#ff8282"/><stop offset="0.2833" stop-color="#ff8c8c"/><stop offset="0.3000" stop-color="#ff9696"/><stop offset="0.3167" stop-color="#ffa0a0"/><stop offset="0.3333" stop-color="#ffaaaa"/><stop offset="0.3500" stop-color="#ffb4b4"/><stop offset="0.3667" stop-color="#ffbebe"/><stop offset="0.3833" stop-color="#ffc8c8"/><stop offset="0.4000" stop-color="#ffd2d2"/><stop offset="0.4167" stop-color="#ffdcdc"/><stop offset="0.4333" stop-color="#ffe6e6"/><stop offset="0.4500" stop-color="#fff0f0"/><stop offset="0.4667" stop-color="#fffafa"/><stop offset="0.4750" stop-color="#ffffff"/><stop offset="0.4833" stop-color="#ffffff"/><stop offset="0.5000" stop-color="#ffffff"/><stop offset="0.5167" stop-color="#ffffff"/><stop offset="0.5170" stop-color="#ffffff"/><stop offset="0.5333" stop-color="#f6f6ff"/><stop offset="0.5500" stop-color="#eeeeff"/><stop offset="0.5667" stop-color="#e5e5ff"/><stop offset="0.5833" stop-color="#dcdcff"/><stop offset="0.6000" stop-color="#d3d3ff"/><stop offset="0.6167" stop-color="#cacaff"/><stop offset="0.6333" stop-color="#c2c2ff"/><stop offset="0.6500" stop-color="#b9b9ff"/><stop offset="0.6667" stop-color="#b0b0ff"/><stop offset="0.6833" stop-color="#a7a7ff"/><stop offset="0.7000" stop-color="#9e9eff"/><stop offset="0.7167" stop-color="#9696ff"/><stop offset="0.7333" stop-color="#8d8dff"/><stop offset="0.7500" stop-color="#8484ff"/><stop offset="0.7667" stop-color="#7b7bff"/><stop offset="0.7833" stop-color="#7272ff"/><stop offset="0.8000" stop-color="#6a6aff"/><stop offset="0.8167" stop-color="#6161ff"/><stop offset="0.8333" stop-color="#5858ff"/><stop offset="0.8500" stop-color="#4f4fff"/><stop offset="0.8667" stop-color="#4646ff"/><stop offset="0.8833" stop-color="#3e3eff"/><stop offset="0.9000" stop-color="#3535ff"/><stop offset="0.9167" stop-color="#2c2cff"/><stop offset="0.9333" stop-color="#2323ff"/><stop offset="0.9500" stop-color="#1a1aff"/><stop offset="0.9667" stop-color="#1212ff"/><stop offset="0.9833" stop-color="#0909ff"/><stop offset="1.0000" stop-color="#0000ff"/></linearGradient>
<rect x="886.2" y="90.2" width="46.8" height="370.5" fill="url(#gb)"/>
<text x="942" y="464.7" font-size="23.3" text-anchor="start">74</text>
<text x="942" y="417.2" font-size="23.3" text-anchor="start">77</text>
<text x="942" y="369.6" font-size="23.3" text-anchor="start">80</text>
<text x="942" y="322.1" font-size="23.3" text-anchor="start">83</text>
<text x="942" y="274.5" font-size="23.3" text-anchor="start">86</text>
<text x="942" y="227" font-size="23.3" text-anchor="start">89</text>
<text x="942" y="179.5" font-size="23.3" text-anchor="start">92</text>
<text x="942" y="131.9" font-size="23.3" text-anchor="start">95</text>
<text x="856" y="74.6" font-size="29" xml:space="preserve">S (<tspan dx="0">J K</tspan><tspan font-size="16" dy="-12.2">-1</tspan><tspan dx="1.5" dy="12.2"> kg</tspan><tspan font-size="16" dy="-12.2">-1</tspan><tspan dx="3" dy="12.2">)</tspan></text>
<text transform="translate(1664 306.4) rotate(-90)" font-size="27.3" xml:space="preserve"><tspan font-style="italic">S</tspan> (<tspan dx="0">J K</tspan><tspan font-size="15" dy="-11.5">-1</tspan><tspan dx="0" dy="11.5"> kg</tspan><tspan font-size="15" dy="-11.5">-1</tspan><tspan dx="0" dy="11.5">)</tspan></text>
<text x="1065.1" y="87.5" font-size="33">(b)</text>
<text x="1297.1" y="56.1" font-size="29.5"><tspan font-style="italic">T</tspan> = 298 K</text>
<line x1="1022.5" y1="524.9" x2="1246.2" y2="615.6" stroke="#000" stroke-width="3.2"/>
<path fill="#000" d="M1262 622L1234.3 623.7L1245.3 615.2L1243.3 601.5Z"/>
<line x1="1408.9" y1="616" x2="1621.5" y2="501.7" stroke="#000" stroke-width="3.2"/>
<path fill="#000" d="M1636.5 493.6L1620.2 516L1620.6 502.1L1608.8 494.9Z"/>
<text transform="translate(1060.6 527.1) rotate(22.2)" font-size="29">Stress (MPa)</text>
<text transform="translate(1407.6 599) rotate(-28.6)" font-size="29.2">Magnetic field (T)</text>
</g>
<g id="pc">
<line x1="253.6" y1="1104.7" x2="243.2" y2="728.9" stroke="#e9e9e9" stroke-width="1.3"/>
<line x1="649.1" y1="1093.7" x2="662.5" y2="724.4" stroke="#e9e9e9" stroke-width="1.3"/>
<line x1="401.9" y1="1212.8" x2="649.1" y2="1093.7" stroke="#e9e9e9" stroke-width="1.3"/>
<line x1="555.6" y1="1207.7" x2="253.6" y2="1104.7" stroke="#e9e9e9" stroke-width="1.3"/>
<line x1="319.8" y1="1079.6" x2="313.6" y2="717.4" stroke="#e9e9e9" stroke-width="1.3"/>
<line x1="574.4" y1="1072.8" x2="583" y2="714.6" stroke="#e9e9e9" stroke-width="1.3"/>
<line x1="323.1" y1="1183.8" x2="574.4" y2="1072.8" stroke="#e9e9e9" stroke-width="1.3"/>
<line x1="618.4" y1="1174.5" x2="319.8" y2="1079.6" stroke="#e9e9e9" stroke-width="1.3"/>
<line x1="381.2" y1="1056.3" x2="378.7" y2="706.7" stroke="#e9e9e9" stroke-width="1.3"/>
<line x1="504.2" y1="1053.1" x2="508.6" y2="705.5" stroke="#e9e9e9" stroke-width="1.3"/>
<line x1="250.1" y1="1156.9" x2="504.2" y2="1053.1" stroke="#e9e9e9" stroke-width="1.3"/>
<line x1="676" y1="1144" x2="381.2" y2="1056.3" stroke="#e9e9e9" stroke-width="1.3"/>
<line x1="181.2" y1="1110.1" x2="438.2" y2="1015.8" stroke="#e9e9e9" stroke-width="1.3"/>
<line x1="438.2" y1="1015.8" x2="730" y2="1094.8" stroke="#e9e9e9" stroke-width="1.3"/>
<line x1="177.7" y1="1021.9" x2="438.4" y2="939" stroke="#e9e9e9" stroke-width="1.3"/>
<line x1="438.4" y1="939" x2="734.2" y2="1008.6" stroke="#e9e9e9" stroke-width="1.3"/>
<line x1="174.1" y1="931.1" x2="438.6" y2="860.3" stroke="#e9e9e9" stroke-width="1.3"/>
<line x1="438.6" y1="860.3" x2="738.5" y2="919.9" stroke="#e9e9e9" stroke-width="1.3"/>
<line x1="170.4" y1="837.6" x2="438.7" y2="779.6" stroke="#e9e9e9" stroke-width="1.3"/>
<line x1="438.7" y1="779.6" x2="743" y2="828.7" stroke="#e9e9e9" stroke-width="1.3"/>
<line x1="182" y1="1131.8" x2="166.6" y2="741.4" stroke="#9a9a9a" stroke-width="1.4"/>
<line x1="438.2" y1="1034.7" x2="438.9" y2="696.9" stroke="#9a9a9a" stroke-width="1.4"/>
<line x1="166.6" y1="741.4" x2="438.9" y2="696.9" stroke="#9a9a9a" stroke-width="1.4"/>
<line x1="438.9" y1="696.9" x2="747.6" y2="734.9" stroke="#9a9a9a" stroke-width="1.4"/>
<line x1="182" y1="1131.8" x2="438.2" y2="1034.7" stroke="#9a9a9a" stroke-width="1.4"/>
<line x1="438.2" y1="1034.7" x2="728.9" y2="1116" stroke="#9a9a9a" stroke-width="1.4"/>
<path fill="#1818ff" stroke="#1818ff" stroke-width="1.1" d="M181.2 1100L180.8 1100.3L181.2 1100Z"/>
<path fill="#1a1aff" stroke="#1a1aff" stroke-width="1.1" d="M183.3 1098.5L181.2 1100L182.8 1096.9L183.3 1098.5Z"/>
<path fill="#1e1eff" stroke="#1e1eff" stroke-width="1.1" d="M185.4 1097L183.3 1098.5L182.8 1096.9L184.4 1094L185.4 1097Z"/>
<path fill="#2121ff" stroke="#2121ff" stroke-width="1.1" d="M187.5 1095.6L185.4 1097L184.4 1094L186.1 1091.1L187.5 1095.6Z"/>
<path fill="#2525ff" stroke="#2525ff" stroke-width="1.1" d="M189.6 1094.1L187.5 1095.6L186.1 1091.1L187.6 1088.3L189.6 1094.1Z"/>
<path fill="#2828ff" stroke="#2828ff" stroke-width="1.1" d="M191.7 1092.6L189.6 1094.1L187.6 1088.3L189.1 1085.5L191.7 1092.6Z"/>
<path fill="#2c2cff" stroke="#2c2cff" stroke-width="1.1" d="M193.9 1091.1L191.7 1092.6L189.1 1085.5L190.6 1082.7L193.9 1091.1Z"/>
<path fill="#3030ff" stroke="#3030ff" stroke-width="1.1" d="M196 1089.6L193.9 1091.1L190.6 1082.7L192.1 1079.9L196 1089.6Z"/>
<path fill="#3333ff" stroke="#3333ff" stroke-width="1.1" d="M198.2 1088.1L196 1089.6L192.1 1079.9L193.5 1077.1L198.2 1088.1Z"/>
<path fill="#3737ff" stroke="#3737ff" stroke-width="1.1" d="M200.4 1086.6L198.2 1088.1L193.5 1077.1L194.9 1074.3L200.4 1086.6Z"/>
<path fill="#3a3aff" stroke="#3a3aff" stroke-width="1.1" d="M202.6 1085.1L200.4 1086.6L194.9 1074.3L196.3 1071.6L202.6 1085.1Z"/>
<path fill="#3e3eff" stroke="#3e3eff" stroke-width="1.1" d="M204.9 1083.6L202.6 1085.1L196.3 1071.6L197.7 1068.8L204.9 1083.6Z"/>
<path fill="#4141ff" stroke="#4141ff" stroke-width="1.1" d="M207.1 1082.1L204.9 1083.6L197.7 1068.8L199 1066.1L207.1 1082.1Z"/>
<path fill="#4545ff" stroke="#4545ff" stroke-width="1.1" d="M209.4 1080.5L207.1 1082.1L199 1066.1L200.3 1063.4L209.4 1080.5Z"/>
<path fill="#4848ff" stroke="#4848ff" stroke-width="1.1" d="M211.7 1079L209.4 1080.5L200.3 1063.4L201.6 1060.7L211.7 1079Z"/>
<path fill="#4c4cff" stroke="#4c4cff" stroke-width="1.1" d="M214 1077.5L211.7 1079L201.6 1060.7L202.8 1058L214 1077.5Z"/>
<path fill="#4f4fff" stroke="#4f4fff" stroke-width="1.1" d="M216.3 1076L214 1077.5L202.8 1058L203.9 1055.3L216.3 1076Z"/>
<path fill="#5353ff" stroke="#5353ff" stroke-width="1.1" d="M218.7 1074.5L216.3 1076L203.9 1055.3L205.1 1052.6L218.7 1074.5Z"/>
<path fill="#5656ff" stroke="#5656ff" stroke-width="1.1" d="M221.1 1073L218.7 1074.5L205.1 1052.6L206.2 1050L211.2 1057.1L221.1 1073Z"/>
<path fill="#5a5aff" stroke="#5a5aff" stroke-width="1.1" d="M223.5 1071.5L221.1 1073L211.2 1057.1L206.2 1050L207.3 1047.3L213.1 1055.3L223.5 1071.5Z"/>
<path fill="#5d5dff" stroke="#5d5dff" stroke-width="1.1" d="M225.9 1070L223.5 1071.5L213.1 1055.3L207.3 1047.3L208.4 1044.7L215 1053.5L225.9 1070Z"/>
<path fill="#6161ff" stroke="#6161ff" stroke-width="1.1" d="M228.3 1068.5L225.9 1070L215 1053.5L208.4 1044.7L209.5 1042.1L217.5 1052.6L228.3 1068.5Z"/>
<path fill="#6464ff" stroke="#6464ff" stroke-width="1.1" d="M230.8 1067L228.3 1068.5L217.5 1052.6L209.5 1042.1L210.5 1039.4L219.2 1050.4L230.8 1067Z"/>
<path fill="#6868ff" stroke="#6868ff" stroke-width="1.1" d="M233.3 1065.5L230.8 1067L219.2 1050.4L210.5 1039.4L211.6 1036.8L221.4 1049L233.3 1065.5Z"/>
<path fill="#6b6bff" stroke="#6b6bff" stroke-width="1.1" d="M235.8 1063.9L233.3 1065.5L221.4 1049L211.6 1036.8L212.7 1034.2L223.7 1047.6L235.8 1063.9Z"/>
<path fill="#6f6fff" stroke="#6f6fff" stroke-width="1.1" d="M238.3 1062.4L235.8 1063.9L223.7 1047.6L212.7 1034.2L213.8 1031.5L225.9 1046.2L238.3 1062.4Z"/>
<path fill="#7272ff" stroke="#7272ff" stroke-width="1.1" d="M240.9 1060.9L238.3 1062.4L225.9 1046.2L213.8 1031.5L214.8 1028.9L228.2 1044.8L240.9 1060.9Z"/>
<path fill="#7676ff" stroke="#7676ff" stroke-width="1.1" d="M243.4 1059.4L240.9 1060.9L228.2 1044.8L214.8 1028.9L215.9 1026.3L243.4 1059.4Z"/>
<path fill="#7979ff" stroke="#7979ff" stroke-width="1.1" d="M246 1057.9L243.4 1059.4L215.9 1026.3L217 1023.6L246 1057.9Z"/>
<path fill="#7d7dff" stroke="#7d7dff" stroke-width="1.1" d="M248.7 1056.4L246 1057.9L217 1023.6L218.1 1021L248.7 1056.4Z"/>
<path fill="#8080ff" stroke="#8080ff" stroke-width="1.1" d="M251.3 1054.9L248.7 1056.4L218.8 1021.8L218.1 1021L219.3 1018.4L251.3 1054.9Z"/>
<path fill="#8484ff" stroke="#8484ff" stroke-width="1.1" d="M254 1053.4L251.3 1054.9L226.2 1026.7L219.3 1018.4L220.4 1015.7L227.3 1024L254 1053.4Z"/>
<path fill="#8888ff" stroke="#8888ff" stroke-width="1.1" d="M256.8 1051.9L254 1053.4L228 1024.9L220.4 1015.7L221.6 1013.1L229.1 1022.2L256.8 1051.9Z"/>
<path fill="#8b8bff" stroke="#8b8bff" stroke-width="1.1" d="M259.5 1050.4L256.8 1051.9L229.8 1023L221.6 1013.1L222.9 1010.4L230.9 1020.4L259.5 1050.4Z"/>
<path fill="#8f8fff" stroke="#8f8fff" stroke-width="1.1" d="M262.3 1048.9L259.5 1050.4L231.7 1021.2L222.9 1010.4L224.1 1007.7L232.8 1018.5L262.3 1048.9Z"/>
<path fill="#9292ff" stroke="#9292ff" stroke-width="1.1" d="M265.1 1047.3L262.3 1048.9L233.5 1019.3L227.7 1012.8L224.1 1007.7L225.4 1005L228.9 1010.1L234.6 1016.7L265.1 1047.3Z"/>
<path fill="#9696ff" stroke="#9696ff" stroke-width="1.1" d="M267.9 1045.8L265.1 1047.3L235.4 1017.5L229.6 1010.9L225.4 1005L226.8 1002.3L230.7 1008.3L236.5 1014.8L267.9 1045.8Z"/>
<path fill="#9999ff" stroke="#9999ff" stroke-width="1.1" d="M270.8 1044.3L267.9 1045.8L237.2 1015.6L230.9 1008.5L226.8 1002.3L228.1 999.6L232.6 1006.4L238.3 1013L270.8 1044.3Z"/>
<path fill="#9d9dff" stroke="#9d9dff" stroke-width="1.1" d="M273.7 1042.8L270.8 1044.3L239.1 1013.8L232.6 1006.4L228.1 999.6L229.5 996.9L234.2 1004.2L240.2 1011.1L273.7 1042.8Z"/>
<path fill="#a0a0ff" stroke="#a0a0ff" stroke-width="1.1" d="M276.7 1041.3L273.7 1042.8L241 1011.9L234.5 1004.5L230 997.8L229.5 996.9L230.9 994.2L235.7 1001.8L242.1 1009.2L276.7 1041.3Z"/>
<path fill="#a4a4ff" stroke="#a4a4ff" stroke-width="1.1" d="M279.7 1039.9L276.7 1041.3L242.9 1010L236.5 1002.9L231.9 995.9L230.9 994.2L232.3 991.5L237.6 1000L244 1007.4L279.7 1039.9Z"/>
<path fill="#a7a7ff" stroke="#a7a7ff" stroke-width="1.1" d="M282.7 1038.4L279.7 1039.9L244.8 1008.2L238.8 1001.6L233.7 994.1L232.3 991.5L233.7 988.8L238.9 997.3L245.9 1005.5L282.7 1038.4Z"/>
<path fill="#ababff" stroke="#ababff" stroke-width="1.1" d="M285.8 1036.9L282.7 1038.4L246.7 1006.3L240.8 999.8L235.5 991.9L233.7 988.8L235.2 986.1L240.8 995.4L247.8 1003.6L257.3 1012.4L285.8 1036.9Z"/>
<path fill="#aeaeff" stroke="#aeaeff" stroke-width="1.1" d="M288.9 1035.4L285.8 1036.9L248.6 1004.4L242 997L237 989.5L235.2 986.1L236.6 983.4L242.7 993.5L250.3 1002.3L260.2 1011.2L288.9 1035.4Z"/>
<path fill="#b2b2ff" stroke="#b2b2ff" stroke-width="1.1" d="M292.1 1033.9L288.9 1035.4L260.2 1011.2L250.6 1002.5L244 995.2L238.9 987.6L236.6 983.4L238 980.7L244.7 991.6L252.5 1000.6L263.1 1010.1L292.1 1033.9Z"/>
<path fill="#b5b5ff" stroke="#b5b5ff" stroke-width="1.1" d="M295.3 1032.4L292.1 1033.9L263.1 1010.1L252.5 1000.6L245.9 993.3L240.3 984.9L238 980.7L239.4 978L246.6 989.7L254.5 998.7L266.1 1009L295.3 1032.4Z"/>
<path fill="#b9b9ff" stroke="#b9b9ff" stroke-width="1.1" d="M298.5 1030.9L295.3 1032.4L266.1 1009L255.3 999.5L248.5 992.2L242.7 983.8L239.4 978L240.8 975.3L248 987L256.5 996.8L269.1 1007.8L298.5 1030.9Z"/>
<path fill="#bcbcff" stroke="#bcbcff" stroke-width="1.1" d="M301.8 1029.5L298.5 1030.9L269.1 1007.8L257.3 997.5L249.8 989.4L244.1 981.1L240.8 975.3L242.2 972.6L249.9 985.1L259.1 995.4L272.2 1006.6L301.8 1029.5Z"/>
<path fill="#c0c0ff" stroke="#c0c0ff" stroke-width="1.1" d="M305.1 1028L301.8 1029.5L272.2 1006.6L259.3 995.6L251.9 987.6L246.1 979.2L242.2 972.6L243.6 969.9L251.9 983.1L261.3 993.7L275.3 1005.4L305.1 1028Z"/>
<path fill="#c3c3ff" stroke="#c3c3ff" stroke-width="1.1" d="M308.5 1026.5L305.1 1028L275.3 1005.4L261.7 994.1L254.5 986.4L248 977.3L243.6 969.9L244.9 967.2L253.9 981.2L263.3 991.7L277.4 1003.5L308.5 1026.5Z"/>
<path fill="#c7c7ff" stroke="#c7c7ff" stroke-width="1.1" d="M312 1025.1L308.5 1026.5L278.4 1004.2L264.1 992.5L256.5 984.5L249.9 975.4L244.9 967.2L246.2 964.6L256.5 980.1L266.2 990.6L281.5 1003L312 1025.1Z"/>
<path fill="#cacaff" stroke="#cacaff" stroke-width="1.1" d="M315.5 1023.6L312 1025.1L281.5 1003L266.2 990.6L258.5 982.5L251.3 972.7L246.2 964.6L247.5 961.9L258.6 978.2L268.2 988.6L283.7 1001L315.5 1023.6Z"/>
<path fill="#ceceff" stroke="#ceceff" stroke-width="1.1" d="M319 1022.2L315.5 1023.6L284.7 1001.8L269.1 989.4L261.2 981.4L253.8 971.6L247.5 961.9L248.8 959.3L260.6 976.2L271.1 987.4L287.9 1000.6L319 1022.2Z"/>
<path fill="#d1d1ff" stroke="#d1d1ff" stroke-width="1.1" d="M322.7 1020.8L319 1022.2L287.9 1000.6L271.1 987.4L262.6 978.6L254.7 968.1L248.8 959.3L250.1 956.6L262.6 974.3L273.2 985.4L290.1 998.6L322.7 1020.8Z"/>
<path fill="#d5d5ff" stroke="#d5d5ff" stroke-width="1.1" d="M326.4 1019.3L322.7 1020.8L291.2 999.3L274.1 986.2L265.3 977.5L256.6 966.2L250.1 956.6L251.4 954L264.7 972.3L270.4 978.7L276.2 984.2L294.5 998.1L326.4 1019.3Z"/>
<path fill="#d8d8ff" stroke="#d8d8ff" stroke-width="1.1" d="M330.1 1017.9L326.3 1019.3L294.5 998.1L276.7 984.7L267.4 975.5L258 963.4L251.4 954L252.7 951.3L266.7 970.3L278.3 982.3L296.7 996L330.1 1017.9Z"/>
<path fill="#dcdcff" stroke="#dcdcff" stroke-width="1.1" d="M333.9 1016.5L330.1 1017.9L328.8 1017.1L296.7 996L279.2 983L268.8 972.8L258.1 959.2L252.7 951.3L253.9 948.7L268.8 968.4L274.6 974.8L281.4 981L300 994.8L333.9 1016.5Z"/>
<path fill="#dfdfff" stroke="#dfdfff" stroke-width="1.1" d="M337.9 1015.1L333.9 1016.5L332.7 1015.7L301.1 995.5L282.3 981.8L271.6 971.6L260.6 958L253.9 948.7L255.2 946.1L261.9 955.4L271.6 967.2L277.5 973.5L284.4 979.8L304.5 994.2L337.9 1015.1Z"/>
<path fill="#e3e3ff" stroke="#e3e3ff" stroke-width="1.1" d="M341.8 1013.7L337.9 1015.1L335.2 1013.6L303.4 993.5L284.4 979.8L273.7 969.6L261.9 955.4L255.2 946.1L256.4 943.4L263.2 952.7L272.9 964.4L279.7 971.5L286.6 977.8L306.8 992.2L341.8 1013.7Z"/>
<path fill="#e7e7ff" stroke="#e7e7ff" stroke-width="1.1" d="M345.9 1012.3L341.8 1013.7L337.8 1011.4L306.8 992.2L287.5 978.5L276.5 968.4L263.8 953.4L256.4 943.4L257.7 940.8L265.1 950.8L275 962.4L281.8 969.5L289.7 976.5L298.9 983.3L311.4 991.6L345.9 1012.3Z"/>
<path fill="#eaeaff" stroke="#eaeaff" stroke-width="1.1" d="M350.1 1011L345.9 1012.3L340.4 1009.2L309.1 990.1L289.8 976.6L278.7 966.4L265.1 950.8L257.7 940.8L258.9 938.2L266.4 948.1L276.4 959.7L284 967.5L291.9 974.5L301.1 981.3L313.7 989.5L350.1 1011Z"/>
<path fill="#eeeeff" stroke="#eeeeff" stroke-width="1.1" d="M354.3 1009.6L350.1 1011L344.3 1007.8L312.5 988.8L292.9 975.2L281 964.6L267.7 949.6L258.9 938.2L260.1 935.6L268.3 946.2L278.5 957.7L287 966.3L295.1 973.2L305.6 980.7L318.4 988.9L354.3 1009.6Z"/>
<path fill="#f1f1ff" stroke="#f1f1ff" stroke-width="1.1" d="M358.7 1008.3L354.3 1009.6L348.3 1006.3L316 987.4L296.1 974L283.8 963.1L269.6 947.7L260.1 935.6L261.3 933L270.2 944.2L280.6 955.7L289.2 964.2L298.3 971.9L309 979.4L322 987.6L358.7 1008.3Z"/>
<path fill="#f5f5ff" stroke="#f5f5ff" stroke-width="1.1" d="M363.1 1006.9L358.7 1008.3L352.3 1004.9L319.6 986.1L299.3 972.7L286.7 961.9L272.2 946.5L261.3 933L262.4 930.4L272.1 942.3L282 952.9L291.4 962.2L300.6 969.8L311.2 977.3L325.6 986.2L345.2 997.4L363.1 1006.9Z"/>
<path fill="#f8f8ff" stroke="#f8f8ff" stroke-width="1.1" d="M367.7 1005.6L363.1 1006.9L354.9 1002.7L321.9 984L301.6 970.6L288.9 959.9L273.5 943.8L262.4 930.4L263.6 927.8L274.1 940.4L283.3 950.2L293.6 960.1L303.9 968.5L314.7 976L329.3 984.8L349.1 996L367.7 1005.6Z"/>
<path fill="#fcfcff" stroke="#fcfcff" stroke-width="1.1" d="M372.4 1004.4L367.7 1005.6L359 1001.2L326.7 983.3L304.9 969.3L291.9 958.6L276.1 942.6L263.6 927.8L264.7 925.2L275.3 937.7L284.6 947.4L296.7 958.9L307.2 967.2L318.2 974.6L332.9 983.4L353.1 994.5L372.4 1004.4Z"/>
<path fill="#ffffff" stroke="#ffffff" stroke-width="1.1" d="M377.2 1003.1L372.4 1004.4L361.6 999L329.1 981.2L308.2 967.9L294.2 956.6L278 940.7L264.7 925.2L265.8 922.7L277.2 935.8L286.7 945.4L299 956.8L309.5 965.1L321.7 973.2L336.7 982L358.5 993.8L377.2 1003.1Z"/>
<path fill="#ffffff" stroke="#ffffff" stroke-width="1.1" d="M382.1 1001.9L377.2 1003.1L365.7 997.5L332.8 979.8L310.9 966.1L296.4 954.5L280 938.7L265.8 922.7L267 920.1L279.2 933.8L288.8 943.4L301.2 954.7L312.8 963.7L325.3 971.8L341.7 981.3L362.5 992.3L382.1 1001.9Z"/>
<path fill="#ffffff" stroke="#ffffff" stroke-width="1.1" d="M387.3 1000.6L382.1 1001.9L369.9 996L336.5 978.4L313.9 964.5L299.5 953.2L282 936.8L267 920.1L268.1 917.5L281.1 931.9L290.8 941.4L304.4 953.4L316.3 962.4L328.8 970.4L345.6 979.9L366.6 990.8L387.3 1000.6Z"/>
<path fill="#ffffff" stroke="#ffffff" stroke-width="1.1" d="M392.5 999.5L387.3 1000.6L374.1 994.5L340.2 977L317.3 963.1L302.6 951.9L284.7 935.5L268.1 917.5L269.3 914.9L278.2 924.9L292.9 939.4L307.6 952.1L319.7 961L332.5 969L349.4 978.4L370.8 989.3L392.5 999.5Z"/>
<path fill="#ffffff" stroke="#ffffff" stroke-width="1.1" d="M398 998.3L392.5 999.5L378.4 993L344 975.5L320.8 961.7L304.9 949.8L286.7 933.6L269.3 914.9L270.5 912.3L278.7 921.5L294.2 936.7L309 949.2L322.1 958.9L336.2 967.6L353.3 977L376.5 988.5L398 998.3Z"/>
<path fill="#ffffff" stroke="#ffffff" stroke-width="1.1" d="M403.7 997.2L398 998.3L381.1 990.7L346.5 973.4L323.2 959.6L306.3 947L288 930.8L276.6 919.4L270.5 912.3L271.7 909.7L279.8 918.9L296.3 934.7L312.3 947.9L325.6 957.5L339.9 966.2L358.7 976.2L380.7 987L403.7 997.2Z"/>
<path fill="#ffffff" stroke="#ffffff" stroke-width="1.1" d="M409.5 996.1L403.7 997.2L385.4 989.1L350.4 971.9L326.7 958.2L309.5 945.7L290 928.9L279.1 918.2L272.8 911.1L271.7 909.7L273 907.1L281.4 916.7L298.4 932.6L314.6 945.8L329.2 956L343.6 964.7L362.6 974.7L386.6 986.1L409.5 996.1Z"/>
<path fill="#fffcfc" stroke="#fffcfc" stroke-width="1.1" d="M415.7 995.1L409.5 996.1L391.3 988.3L355.6 971.1L330.3 956.8L311.7 943.6L292 926.9L280.9 916.3L274.6 909.2L273 907.1L274.4 904.5L282.8 914.3L299.7 929.9L316.9 943.7L331.6 953.9L347.4 963.2L366.7 973.2L390.9 984.6L415.7 995.1Z"/>
<path fill="#fff8f8" stroke="#fff8f8" stroke-width="1.1" d="M422.1 994.2L415.7 995.1L394.1 986L358.2 968.9L332.8 954.6L321.9 947.3L309.4 937.8L287.9 919.2L280.1 911.6L274.8 905.2L274.4 904.5L275.8 901.8L278.8 906.1L283.9 911.7L301 927.2L318.3 940.8L335.2 952.4L351.3 961.7L372.2 972.3L396.9 983.7L422.1 994.2Z"/>
<path fill="#fff4f4" stroke="#fff4f4" stroke-width="1.1" d="M428.8 993.3L422.1 994.2L398.5 984.4L362.2 967.4L336.4 953.2L324.3 945.2L311.6 935.8L289.1 916.6L281.5 909.2L276.7 903.3L275.8 901.8L277.4 899.1L280.1 903.5L285.1 909.1L302.3 924.4L319.6 938L337.7 950.3L355.1 960.2L376.4 970.8L403 982.8L428.8 993.3Z"/>
<path fill="#fff0f0" stroke="#fff0f0" stroke-width="1.1" d="M435.9 992.4L428.8 993.3L408 984.9L370.5 968L343.7 953.9L324.7 941.6L304.8 926.5L285.8 909.8L280.7 904.2L277.4 899.1L279 896.4L281.5 900.8L286.3 906.5L304.4 922.4L325 938L345 950.9L363.2 960.8L385.1 971.3L410.9 982.5L435.9 992.4Z"/>
<path fill="#ffecec" stroke="#ffecec" stroke-width="1.1" d="M443.4 991.7L435.9 992.4L412.6 983.2L374.6 966.4L346.2 951.7L326 938.7L305.2 923.1L286.3 906.5L281.5 900.8L279 896.4L280.8 893.7L283.2 898.5L286.9 903.1L301.4 916.2L324.3 933.8L348.8 949.4L367.2 959.3L389.4 969.7L415.5 980.9L443.4 991.7Z"/>
<path fill="#ffe8e8" stroke="#ffe8e8" stroke-width="1.1" d="M451.4 991.1L443.4 991.7L417.2 981.6L378.8 964.9L350 950.2L325.3 934.5L303.1 917.6L293.3 909.3L286.9 903.1L283.2 898.5L280.8 893.7L282.7 890.9L284.6 895.5L287.6 899.8L292.7 905L300 911.4L324.6 930.2L338.4 939.4L351.3 947.2L371.3 957.7L395.3 968.8L421.8 979.9L451.4 991.1Z"/>
<path fill="#ffe4e4" stroke="#ffe4e4" stroke-width="1.1" d="M460 990.6L451.4 991.1L423.6 980.6L384.5 964L368.4 956.4L353.8 948.6L340.7 940.8L326.7 931.6L301.7 912.8L293.7 906L288.2 900.5L284.6 895.5L282.7 890.9L284.6 888.2L286.6 893.5L289.5 897.8L294.2 902.6L301.2 908.8L326.9 928.1L342 938L355.2 945.7L375.4 956.2L401.3 967.9L430.1 979.6L460 990.6Z"/>
<path fill="#ffe0e0" stroke="#ffe0e0" stroke-width="1.1" d="M469.4 990.3L460 990.6L428.3 978.9L387.2 961.7L371.1 954.1L356.4 946.4L343.2 938.7L328 928.8L302 909.4L294.9 903.3L289.5 897.8L286.6 893.5L284.6 888.2L286.6 885.4L288.8 891.5L292.7 897.2L299.9 904.1L310.2 912.2L332.4 928.1L357.8 943.5L379.5 954.6L405.8 966.3L436.7 978.6L469.4 990.3Z"/>
<path fill="#ffdcdc" stroke="#ffdcdc" stroke-width="1.1" d="M479.8 990.2L469.4 990.3L434.9 977.9L393 960.8L375.2 952.5L360.3 944.9L345.7 936.5L330.3 926.7L303.2 906.8L296.1 900.7L291.3 895.5L288.4 890.7L286.6 885.4L288.5 882.7L290.9 889.5L294.2 894.5L300.3 900.7L309.5 908.1L334.8 925.9L361.7 941.9L385.2 953.7L413.6 966L445.2 978.2L479.8 990.2Z"/>
<path fill="#ffd8d8" stroke="#ffd8d8" stroke-width="1.1" d="M489.5 990.3L479.8 990.2L436.1 974.8L394.3 957.8L363 942.6L348.2 934.3L332.7 924.5L304.3 904.1L298.1 898.7L293.6 893.8L290.6 888.7L288.5 882.7L290.4 879.9L293.1 887.4L296.3 892.5L301.6 898L310.7 905.4L337.2 923.8L364.4 939.7L388 951.4L414.8 962.9L450.2 976.4L489.7 989.8L489.5 990.3Z"/>
<path fill="#ffd4d4" stroke="#ffd4d4" stroke-width="1.1" d="M490.2 988.5L489.7 989.8L479.4 986.5L452.1 977.1L425 967L389.5 952.1L361.8 938.3L332.9 921L316.2 909.4L305 900.9L298.9 895.5L295.2 891.1L292.8 886.7L290.4 879.9L292.2 877.2L295.3 885.4L298.4 890.5L302.9 895.4L310.5 901.7L336.4 919.6L363.2 935.4L384.9 946.3L407.9 956.5L447.7 972L490.9 986.6L490.2 988.5Z"/>
<path fill="#ffd0d0" stroke="#ffd0d0" stroke-width="1.1" d="M491.7 984.8L490.9 986.6L459 976L429.8 965.3L393.8 950.4L364.5 936L334.3 918.2L317.4 906.7L306.7 898.7L300.8 893.3L297.4 889.1L295 884.6L292.2 877.2L293.9 874.5L298 884.1L300.6 888.4L304.9 893.3L312.2 899.4L338.8 917.4L364.6 932.4L387.7 944L412.4 954.8L450.9 969.5L492.2 983.4L491.7 984.8Z"/>
<path fill="#ffcccc" stroke="#ffcccc" stroke-width="1.1" d="M492.4 983L492.2 983.4L460.3 972.8L419 957.5L389.2 944.7L362 931L334.5 914.7L317.6 903.3L308 896L302.9 891.3L299.6 887L293.9 874.5L295.5 871.8L300.2 882L303 886.7L307.1 891.3L313.4 896.7L337.9 913.2L362.2 927.4L389.1 941L418.7 953.8L454 967.1L493.5 980.2L492.4 983Z"/>
<path fill="#ffc8c8" stroke="#ffc8c8" stroke-width="1.1" d="M493.9 979.3L493.5 980.2L471.3 973L423.7 955.8L392 942.4L363.4 928.1L336.9 912.6L320.7 901.9L310.5 894.3L305.7 889.9L302.3 885.7L295.5 871.8L297.1 869.2L305.6 885L309.2 889.2L314.6 894L337.1 909.1L362.3 923.8L384.7 935.3L408.6 946.1L449.7 962L494.8 977L493.9 979.3Z"/>
<path fill="#ffc4c4" stroke="#ffc4c4" stroke-width="1.1" d="M495.4 975.6L494.8 977L484.5 973.7L455.3 963.9L428.4 954L394.8 940L364.8 925.2L336 908.4L321.9 899.2L313 892.6L308.5 888.6L305.1 884.3L297.1 869.2L298.7 866.5L307.9 883L312.1 887.9L317.4 892.4L337.3 905.6L363.6 920.9L387.5 933L413.2 944.3L451 958.8L496.2 973.8L495.4 975.6Z"/>
<path fill="#ffc0c0" stroke="#ffc0c0" stroke-width="1.1" d="M496.2 973.7L456.6 960.8L421.3 947.7L390.4 934.3L362.4 920.3L333.1 903L315.1 890.6L310.8 886.5L307.4 882.2L298.7 866.5L300.2 863.9L310.7 881.6L314.4 885.8L318.9 889.8L334.3 900.3L361.3 916L390.3 930.7L421 943.9L456.1 957L497.5 970.6L496.2 973.7Z"/>
<path fill="#ffbcbc" stroke="#ffbcbc" stroke-width="1.1" d="M497.7 970L497.5 970.6L467.4 960.9L426 945.9L393.2 932L363.8 917.4L334.3 900.3L324.3 893.8L317.3 888.5L310.2 880.9L300.2 863.9L301.8 861.3L313.1 879.5L317.3 884.4L322 888.4L336.5 898.1L362.6 913.1L393.2 928.4L424.1 941.5L459.3 954.5L498.9 967.3L497.7 970Z"/>
<path fill="#ffb8b8" stroke="#ffb8b8" stroke-width="1.1" d="M499.3 966.3L498.9 967.3L478.5 961L430.8 944.1L396.1 929.7L365.1 914.5L336.5 898.1L320.3 887.1L316 883L312.6 878.8L301.8 861.3L303.4 858.6L315.9 878L319.7 882.3L324.2 886.3L338.8 896L364 910.3L388.9 922.7L414.2 933.9L455.1 949.5L500.3 964.1L499.3 966.3Z"/>
<path fill="#ffb4b4" stroke="#ffb4b4" stroke-width="1.1" d="M500.9 962.6L500.3 964.1L492 961.6L462.5 952L435.6 942.3L400.4 928L366.5 911.6L337.7 895.4L322.6 885L315.5 877.4L303.4 858.6L305 856L309.9 864.1L318.4 875.9L322.7 880.8L327.4 884.9L342.1 894.5L366.6 908L391.7 920.4L418.8 932.1L458.3 947L501.7 960.9L500.9 962.6Z"/>
<path fill="#ffb0b0" stroke="#ffb0b0" stroke-width="1.1" d="M501.7 960.8L463.9 948.9L426.9 935.4L394.6 921.7L364.1 906.7L338.9 892.6L325.1 883L317.4 874.5L309.5 863.4L305 856L306.6 853.3L311.6 861.4L319.7 872.4L324.5 878L328.9 882.1L341.2 890.5L360.6 901.3L391.7 916.8L425 931L461.6 944.5L503.1 957.7L501.7 960.8Z"/>
<path fill="#ffacac" stroke="#ffacac" stroke-width="1.1" d="M503.4 957L503.1 957.7L473 948.3L430 932.9L394.5 918.1L363 902.6L340.2 889.9L332.3 884.7L327.3 880.7L322.6 875.9L315.5 866.9L310.2 859.4L306.6 853.3L308.4 850.6L311.8 856.7L317.2 864.1L325.7 874.5L331.3 879.9L341.4 887.1L359.4 897.2L391.7 913.2L424.9 927.3L463.1 941.3L504.5 954.4L503.4 957Z"/>
<path fill="#ffa8a8" stroke="#ffa8a8" stroke-width="1.1" d="M505 953.3L504.5 954.4L482.2 947.6L455.7 938.8L431.4 929.9L395.9 915.1L361.8 898.4L341.4 887.1L329.7 878.6L324.4 873.1L316.1 862.8L311.4 856.1L308.4 850.6L310.2 848L313.5 854L318.3 860.7L327.5 871.6L333.7 877.8L343.8 884.9L359.5 893.7L387.6 907.7L416.8 920.4L459 936.2L506 951.2L505 953.3Z"/>
<path fill="#ffa4a4" stroke="#ffa4a4" stroke-width="1.1" d="M506.8 949.6L506 951.2L493.7 947.5L464.5 938.1L436.2 928L397.3 912.1L361.9 895L342.7 884.3L332.2 876.5L326.9 870.9L317.8 860.1L313 853.4L310.2 848L312 845.3L315.2 851.3L320.5 858.7L330.6 870.1L337 876.3L346.6 883.1L361.9 891.5L391.7 906L421.4 918.6L462.3 933.7L507.5 947.9L506.8 949.6Z"/>
<path fill="#ffa0a0" stroke="#ffa0a0" stroke-width="1.1" d="M507.6 947.7L469.8 936.2L429.4 921.8L394.5 907.2L359.5 890.3L344.1 881.5L334 873.6L319.4 857.4L315.2 851.3L312 845.3L313.9 842.6L317.3 849.3L322.1 856L329.8 864.6L338.8 873.4L347.5 880L360.7 887.5L394.5 903.7L429.2 918.1L467.5 931.8L509.1 944.7L507.6 947.7Z"/>
<path fill="#ff9c9c" stroke="#ff9c9c" stroke-width="1.1" d="M509.4 943.9L509.1 944.7L480.8 936.1L434.1 920L397.3 904.9L361.9 888.1L346.6 879.3L336.5 871.4L327.3 861.9L321.1 854.6L316.9 848.6L313.9 842.6L315.8 839.9L319.5 847.3L324.3 853.9L331.5 861.8L341.3 871.2L351 878.4L363.2 885.3L398.7 902L432.3 915.7L469.1 928.6L510.6 941.4L509.4 943.9Z"/>
<path fill="#ff9898" stroke="#ff9898" stroke-width="1.1" d="M511.2 940.2L510.6 941.4L492.2 936L463.5 926.8L438.9 918.1L401.5 903.2L364.4 885.9L349.1 877.1L337.6 867.8L329.6 859.8L323.3 852.6L319.2 846.6L315.8 839.9L317.8 837.2L321.4 844.5L326.1 851.2L333.2 859L343.1 868.3L352.6 875.6L365.7 883.1L393 895.9L422.5 908.3L465 923.6L512.2 938.1L511.2 940.2Z"/>
<path fill="#ff9494" stroke="#ff9494" stroke-width="1.1" d="M513.1 936.4L512.2 938.1L503.9 935.7L472.4 926.1L443.8 916.3L405.9 901.5L366.9 883.7L350.7 874.3L344.7 869.7L336.6 862.3L329.5 855.1L324.5 849.2L320.6 843.2L317.8 837.2L319.7 834.5L323.3 841.8L328.3 849.1L335.6 856.9L345 865.5L356.1 874L369.4 881.5L397.2 894.2L428.7 907.1L470.2 921.7L513.8 934.8L513.1 936.4Z"/>
<path fill="#ff9090" stroke="#ff9090" stroke-width="1.1" d="M514 934.5L507.6 933.1L479.7 924.7L438.6 910.8L402.9 896.7L368.2 880.9L359.2 875.9L352.4 871.4L337 858.2L326.3 846.4L322.5 840.5L319.7 834.5L321.7 831.8L324.8 838.4L329.6 845.7L335.4 852.2L343.7 860L356.9 870.4L370.7 878.6L399.9 891.9L438.4 907.1L475.5 919.7L515.5 931.6L514 934.5Z"/>
<path fill="#ff8c8c" stroke="#ff8c8c" stroke-width="1.1" d="M515.9 930.8L515.5 931.6L489 923.9L443.4 908.9L404.3 893.7L370.7 878.6L361.8 873.6L355 869.1L338.7 855.4L332.9 849.6L328.5 844.1L324.5 837.7L321.7 831.8L323.8 829L327.2 836.3L332 843.5L337.8 850L345.4 857.2L360.5 868.8L374.5 877L402.7 889.6L441.5 904.6L478.9 917.2L517.1 928.3L515.9 930.8Z"/>
<path fill="#ff8888" stroke="#ff8888" stroke-width="1.1" d="M517.7 927L517.1 928.3L502.5 924.2L475.2 916L450 907.6L407.1 891.4L374.5 877L365.5 872L357.7 866.9L340.4 852.6L334.7 846.8L330.1 840.9L326.4 835L323.8 829L325.9 826.3L329.1 833.6L333.9 840.8L339.6 847.2L347.9 855L363.2 866.6L378.4 875.3L401.1 885.5L433.1 898L474.9 912.2L518.7 925L517.7 927Z"/>
<path fill="#ff8484" stroke="#ff8484" stroke-width="1.1" d="M519.6 923.2L518.7 925L516.6 924.5L484.3 915.2L455 905.7L411.4 889.6L392.7 881.9L378.4 875.3L369.3 870.4L361.4 865.3L351.1 857.5L342.9 850.5L337.2 844.7L332 838.2L328.4 832.3L325.9 826.3L328 823.6L331.2 830.8L335.9 838L342.1 845.1L349.7 852.1L366 864.3L381.1 873L403.9 883.2L436.2 895.5L476.4 909.1L520.3 921.8L519.6 923.2Z"/>
<path fill="#ff8080" stroke="#ff8080" stroke-width="1.1" d="M520.6 921.3L520.3 921.8L489.8 913.2L449.6 900.3L408.2 884.9L381 873L372 868.1L363.2 862.4L352.8 854.7L344.7 847.7L339.1 841.9L334 835.4L330.5 829.5L328 823.6L330.2 820.9L332.9 827.4L337.4 834.6L344 842.3L351.5 849.3L367.8 861.4L383.8 870.7L409.6 882L447.7 896L483.7 907.7L522 918.5L520.6 921.3Z"/>
<path fill="#ff7c7c" stroke="#ff7c7c" stroke-width="1.1" d="M522.5 917.6L522 918.5L501.3 912.8L454.5 898.4L411 882.6L383.8 870.7L373.8 865.2L364.1 858.8L354.6 851.8L347.2 845.5L341 839.1L336 832.6L332.6 826.8L330.2 820.9L332.4 818.1L335.3 825.3L339.9 832.4L346.5 840.1L354.1 847.1L370.6 859.1L387.8 869L412.4 879.6L450.9 893.5L487.2 905.1L523.7 915.2L522.5 917.6Z"/>
<path fill="#ff7878" stroke="#ff7878" stroke-width="1.1" d="M524.4 913.8L523.7 915.2L515.2 913L487.2 905.1L459.5 896.4L415.4 880.8L399.5 874.4L387.8 869L377.6 863.5L367.7 857.2L358.1 850.2L350.5 843.9L343.6 836.9L338.5 830.5L335 824.7L332.4 818.1L334.6 815.4L337.8 823.2L341.9 829.6L347.9 836.6L356 844.2L372.4 856.2L390.7 866.7L407.9 874.4L433.9 884.2L479.2 899L525.3 911.9L524.4 913.8Z"/>
<path fill="#ff7474" stroke="#ff7474" stroke-width="1.1" d="M525.3 911.9L486.8 901.3L448.9 889.3L413.7 876.7L390.7 866.7L380.5 861.1L369.5 854.3L360.8 848L353.1 841.7L346.1 834.7L341 828.3L337.5 822.5L334.6 815.4L336.7 812.7L340.4 821.1L344.5 827.5L350.5 834.4L358.7 842L374.2 853.2L393.6 864.3L415.1 873.8L448.6 885.7L488.4 898.2L527 908.7L525.3 911.9Z"/>
<path fill="#ff7070" stroke="#ff7070" stroke-width="1.1" d="M527.3 908.2L527 908.7L496.2 900.4L452.1 886.9L416.6 874.3L393.6 864.3L372.3 852L362.7 845.1L355.1 838.8L348.7 832.5L343.5 826.2L340 820.4L336.7 812.7L338.9 810L342.9 818.9L347.1 825.3L353.2 832.2L361.5 839.7L377.1 850.9L396.6 862L418 871.4L448.3 882.1L488.1 894.4L528.7 905.4L527.3 908.2Z"/>
<path fill="#ff6c6c" stroke="#ff6c6c" stroke-width="1.1" d="M529.2 904.4L528.7 905.4L509.8 900.5L458.7 885.5L422.5 873.1L397.8 862.6L386.3 856.5L375.2 849.7L365.4 842.9L357.8 836.6L351.4 830.3L346.1 824L342.3 817.6L338.9 810L341.2 807.2L344.5 814.8L349.2 822.5L355.2 829.4L363.5 836.8L380 848.6L399.9 859.7L422.5 869.6L451.4 879.7L491.6 891.8L530.4 902.1L529.2 904.4Z"/>
<path fill="#ff6868" stroke="#ff6868" stroke-width="1.1" d="M531.2 900.7L530.4 902.1L524 900.5L493.5 892.4L463.7 883.6L427 871.3L412.5 865.5L400.8 860.2L389.3 854.1L378.1 847.4L368.2 840.6L359.9 833.7L353.4 827.5L348.3 821.2L343.8 813.6L341.2 807.2L343.6 804.5L346.4 811.4L351.9 820.3L358 827.2L366.3 834.6L382.9 846.3L403.9 857.8L422.6 866L444.4 873.9L485.4 886.5L532.1 898.9L531.2 900.7Z"/>
<path fill="#ff6464" stroke="#ff6464" stroke-width="1.1" d="M532.2 898.8L493.1 888.7L452.8 876.7L424.1 866.6L401.5 856.6L390.1 850.5L379.1 843.8L369.5 837L361.2 830.3L355 824L350.6 818.4L345.7 810.2L343.6 804.5L346.2 801.7L348.3 808.1L353.7 816.8L359.5 823.7L366.9 830.5L383 842.1L403.4 853.6L425.7 863.6L452.6 873.1L490.8 884.5L533.8 895.6L532.2 898.8Z"/>
<path fill="#ff6060" stroke="#ff6060" stroke-width="1.1" d="M534.1 895L533.8 895.6L504.6 888.2L457.7 874.7L428.7 864.7L404.6 854.2L393.2 848.1L382.1 841.5L371.6 834.1L363.3 827.4L357.2 821.2L352 814.3L348 807.4L346.2 801.7L349.2 798.8L349.3 801.5L350.4 804.7L355.1 812.7L361.7 820.8L369.8 828.2L387 840.3L406.5 851.1L428.9 861.1L455.8 870.6L492.3 881.4L535.5 892.4L534.1 895Z"/>
<path fill="#ff5c5c" stroke="#ff5c5c" stroke-width="1.1" d="M536 891.3L535.5 892.4L516.3 887.7L488.4 880.3L462.7 872.8L431.8 862.2L406.5 851.1L395.2 845.2L384.1 838.5L373.7 831.2L365.5 824.5L358.9 817.7L353 809.6L349.9 803.4L349.2 798.8L352.9 795.8L352.3 798.4L352.5 800.6L355.7 807.5L363.2 817.1L371.2 824.7L388.2 836.7L408.6 848.1L429.3 857.5L450.7 865.4L489.9 877.2L537.1 889.1L536 891.3Z"/>
<path fill="#ff5858" stroke="#ff5858" stroke-width="1.1" d="M537.9 887.6L537.1 889.1L526.3 886.6L493.8 878.3L466 870.3L435.1 859.8L408.6 848.1L396.2 841.5L384.4 834.3L375 827.7L367 821L360.2 813.6L354.6 805.6L352.4 799.9L352.9 795.8L356.9 792.7L355.7 798.3L357.5 803.6L364.1 812.6L372.7 821.2L388.4 832.6L410.6 845.1L432.7 855L455.6 863.4L493.4 874.6L538.7 885.9L537.9 887.6ZM435.1 776.2L434.5 776.1L455.5 779L470.4 780.3L435.1 776.2ZM743.2 824.1L742.7 823.7L743.2 824.1Z"/>
<path fill="#ff5454" stroke="#ff5454" stroke-width="1.1" d="M538.8 885.7L499.2 876.2L460.6 865L432.7 855L408.3 843.9L396.3 837.3L384.7 830.2L375.6 823.6L368.7 817.5L361.1 808.9L356.8 802.2L355.6 797.6L356.9 792.7L361.2 789.6L359.1 796.7L360.3 801.2L365.4 808.5L374.3 817.7L381 823.1L389.7 829L410.5 840.8L434.7 851.9L462.4 861.9L496.8 872L540.3 882.7L538.8 885.7ZM427.3 775.7L426.8 775.7L434.5 776.1L470.4 780.3L488.1 781L427.3 775.7ZM739.8 822.6L737.9 820.5L742.9 823.9L739.8 822.6Z"/>
<path fill="#ff5050" stroke="#ff5050" stroke-width="1.1" d="M540.7 882L540.3 882.7L508.7 875.1L465.7 863L436.1 852.4L410.5 840.8L397.5 833.7L386 826.6L377.1 820.1L369.8 813.4L363.3 805.9L359.8 799.9L359.1 796.7L360.8 790.3L361.2 789.6L366.8 786.2L364.8 788.6L363.6 791.5L362.8 795.6L363.2 798.3L367.3 805.1L376 814.1L382.4 819.5L390.9 825.5L412.7 837.8L434 847.6L457.7 856.6L494.6 867.8L541.9 879.5L540.7 882ZM417.6 775.6L416.8 775.7L427.3 775.7L488.1 781L502.1 781L431.8 776.1L417.6 775.6ZM737.5 821.6L732.7 817.3L737.9 820.5L739.7 822.5L737.5 821.6Z"/>
<path fill="#ff4c4c" stroke="#ff4c4c" stroke-width="1.1" d="M542.5 878.3L541.9 879.5L520.6 874.5L494.6 867.8L471 861L441 850.4L413.9 838.3L400.7 831.3L389.1 824.3L380.9 818.3L373.4 811.7L366.8 804.5L363.4 798.9L362.9 794.9L364.4 789.3L366.8 786.2L396.3 778.1L413.9 775.8L430.5 776L502.1 781L514.6 780.8L430.8 776L418 775.8L407.5 776.4L396.7 778L383.3 781.2L371.1 785L369.2 786.7L367.8 789L366.9 792.5L366.7 795.9L368.1 799.8L371.8 804.6L378.4 811.2L385.5 817.2L401.9 827.7L423.3 838.7L443.2 847.3L466.2 855.6L500.2 865.7L543.6 876.3L542.5 878.3ZM733.9 820.1L727.3 814.1L732.7 817.3L736.5 821.1L733.9 820.1Z"/>
<path fill="#ff4848" stroke="#ff4848" stroke-width="1.1" d="M544.5 874.6L543.6 876.3L539.2 875.3L508 867.8L479.8 860L447.5 849L418.5 836.4L405 829.5L393.2 822.5L384 816L376.5 809.4L370.3 802.8L367.2 797.9L366.8 793.2L368.1 788.2L371.1 785L383.3 781.2L401.8 777.1L414 775.9L433.5 776.1L512 780.7L526.5 780.5L433.5 775.9L419.7 775.8L409.4 776.3L399.6 777.8L386.4 780.9L374.6 784.7L372.7 786.4L371.5 788.6L370.8 794.8L372.1 798.7L375.4 802.9L381.5 808.9L389.5 815.4L405.2 825.3L426.9 836.2L448.4 845.3L471.6 853.5L503.9 863.1L545.3 873L544.5 874.6ZM730.3 818.6L721.3 810.8L727.3 814.1L733.2 819.8L730.3 818.6Z"/>
<path fill="#ff4444" stroke="#ff4444" stroke-width="1.1" d="M545.5 872.7L536.6 871.1L509.8 864.6L474.9 854.6L445.5 844.1L418.4 832.2L406.2 825.9L395.5 819.5L387.2 813.6L378.9 806.5L373.8 801.1L371.2 796.8L370.7 792.1L371.8 787.9L374.6 784.7L386.4 780.9L405 776.8L415.6 775.9L436.5 776L521.3 780.3L538.2 780.1L438.5 775.9L413.1 776.1L402.7 777.6L391.1 780.2L378.4 784.2L375.6 787.4L374.9 793L375.6 796.3L378.5 800.6L383.3 805.4L390.4 811.2L404.4 820.6L424.3 830.8L450.7 842.1L478.8 851.9L509.7 860.8L547.1 869.8L545.5 872.7ZM726.5 817.1L714.9 807.4L721.3 810.8L729.8 818.4L726.5 817.1Z"/>
<path fill="#ff4040" stroke="#ff4040" stroke-width="1.1" d="M547.6 869L547.1 869.8L521.7 863.9L480.5 852.5L450.7 842.1L421.9 829.7L409.6 823.4L399.7 817.7L391.2 811.8L382.7 804.8L378 800L375.6 796.2L374.9 791.6L375.6 787.4L378.4 784.2L391.1 780.2L408.4 776.6L418.3 775.8L440.2 776L530.3 779.9L550 779.7L443.3 775.8L417 775.9L409.3 776.8L398.3 779.1L382.6 783.7L380.1 786.2L379.2 790.5L379.8 794.5L381.4 797.6L385.2 801.8L390.7 806.5L405.9 817L425.4 827.2L453.2 838.9L481.2 848.7L513.8 858.1L549.1 866.5L547.6 869ZM723.9 816.1L722.7 815.7L707.7 803.9L714.9 807.4L726.3 817L723.9 816.1Z"/>
<path fill="#ff3c3c" stroke="#ff3c3c" stroke-width="1.1" d="M549.9 865.2L549.1 866.5L536.1 863.6L511.9 857.6L488 850.8L456.1 840L425.4 827.2L404 815.8L395.3 810L386.5 803L382.4 798.9L380 795.1L379.2 790.5L380.1 786.2L382.6 783.7L398.3 779.1L409.3 776.8L420.9 775.7L445.1 775.9L540.9 779.5L562.5 779.4L450 775.8L423.4 775.7L409.7 777.2L394.1 781L387.6 783.1L385.9 784.1L384.6 785.7L383.9 787.8L384.1 791.9L385.2 795.2L387.4 798.3L391.8 802.4L408.4 813.9L427.8 824.1L455.6 835.7L485.3 845.9L516.2 854.7L551.3 863.1L549.9 865.2ZM719.9 814.7L699.5 800.3L707.7 803.9L722.7 815.7L719.9 814.7Z"/>
<path fill="#ff3838" stroke="#ff3838" stroke-width="1.1" d="M552.6 861.2L551.3 863.1L522 856.3L495.7 849.1L463 838.4L431.4 825.8L409.3 814.5L399.5 808.2L391.2 801.8L386.9 797.7L384.9 794.6L383.8 789.9L384.5 785.8L385.9 784.1L387.6 783.1L394.1 781L409.7 777.2L425.4 775.6L450 775.8L562.5 779.4L576.1 779.2L457.5 775.8L428.1 775.6L417.8 776.4L403.3 779.4L390.9 783.4L389 785.8L388.7 789.3L389.7 793.3L391.6 796.4L395.3 800L402.1 805.2L411 810.9L430.2 821L452.4 830.3L479.7 840L514.8 850.4L553.7 859.7L552.6 861.2ZM715.8 813.2L698.6 801.7L689.8 796.4L699.5 800.3L719.1 814.3L715.8 813.2Z"/>
<path fill="#ff3434" stroke="#ff3434" stroke-width="1.1" d="M554 859.3L553.7 859.7L526.5 853.4L491.3 843.7L459.6 833L433.8 822.7L412.9 812L403 805.8L396 800.6L392.2 797L390 793.9L388.7 789.3L389.1 785.7L390.9 783.4L403.3 779.4L417.8 776.4L428.1 775.6L456.9 775.8L592.2 779.4L468.8 775.8L433.2 775.5L417.8 777L403.8 780.4L397.3 782.4L395.3 783.5L394.1 785.1L393.8 788L395 792.3L396.9 795.5L400.2 798.7L414.6 808.4L432.7 817.9L457.7 828.2L488.9 838.7L521.3 848L556.3 856.2L554 859.3ZM711.6 811.8L690.7 798.8L677.4 792.2L691 797.1L715.3 813L711.6 811.8Z"/>
<path fill="#ff3030" stroke="#ff3030" stroke-width="1.1" d="M557 855.3L556.3 856.2L543.5 853.3L501 842.4L468.1 831.9L440.1 821.2L419.5 811.2L409.1 805L401.7 799.9L397.1 795.7L395.1 792.6L393.9 788.6L394.1 785.1L395.3 783.5L397.3 782.4L417.8 777L424.6 776L435.4 775.4L466.5 775.8L565 778.4L615.4 780.6L561.7 777.9L440.9 775.4L429.9 775.9L422.4 777L407.1 780.8L401.7 782.6L399.7 784.4L399.3 787.2L400.4 791.2L402.4 794.4L405.4 797.4L418.2 805.9L437.7 815.9L461.6 825.5L491.6 835.4L524.1 844.5L559.1 852.7L557 855.3ZM708.7 810.9L678.7 794.3L668.5 790.1L657.6 786.9L674.4 791.3L681.8 794.1L692.8 800L711.4 811.7L708.7 810.9Z"/>
<path fill="#ff2c2c" stroke="#ff2c2c" stroke-width="1.1" d="M560.3 851.2L559.1 852.7L534 847L509.1 840.5L473.7 829.7L445.1 819.1L424.3 809.2L414.5 803.6L406.9 798.5L402.9 795L400.7 791.9L399.3 787.2L399.7 784.4L401.7 782.6L407.1 780.8L422.4 777L429.9 775.9L440.9 775.4L563.1 778L616.3 780.6L644 784.2L657.6 786.9L665.6 789.2L675.1 792.7L683.4 796.6L707.3 810.5L703.1 809.2L676.8 795.1L661 788.9L650.1 785.9L639.4 783.7L611.7 780.3L586.8 778.7L554.3 777.4L485.7 775.8L444.2 775.5L434.8 776L427.4 777L412.3 780.7L407.3 782.5L405.4 784.3L405.2 787.1L406.7 791.1L409 794.2L412.3 797.2L426 805.6L445.2 814.9L468.6 823.9L497.6 833.1L528.9 841.6L562.1 849.1L560.3 851.2Z"/>
<path fill="#ff2828" stroke="#ff2828" stroke-width="1.1" d="M563.8 847.1L562.1 849.1L519.3 839.1L482.6 828.6L453 818.1L431.3 808.3L413.9 798.3L409.6 794.8L407.1 791.7L405.2 787.1L405.4 784.3L407.3 782.5L412.3 780.7L427.4 777L434.8 776L444.2 775.5L485.7 775.8L554.1 777.4L586.3 778.6L610.8 780.2L639.4 783.7L650.1 785.9L661 788.9L678 795.7L703.1 809.2L698.8 808L671.2 794.2L654.7 788.2L643.4 785.3L632.4 783.2L605.7 779.9L580.9 778.3L548.2 777.1L494.2 775.9L450.5 775.5L440.5 776L432.9 777.1L419.4 780.3L414.1 782.2L411.6 784.1L411.6 786.9L413.5 790.8L416 793.9L419.6 796.9L433 804.6L453.1 813.8L475.8 822.2L502 830.3L531.7 838.1L565.1 845.6L563.8 847.1Z"/>
<path fill="#ff2424" stroke="#ff2424" stroke-width="1.1" d="M565.5 845L565.1 845.6L545.9 841.4L509.1 832.3L480.4 823.8L457.1 815.4L435.2 805.7L420.4 797.4L416.6 794.5L413.9 791.5L411.6 786.9L411.6 784.1L414.1 782.2L419.4 780.3L432.9 777.1L440.5 776L450.5 775.5L546.1 777L579.1 778.2L604.3 779.8L632.4 783.2L643.4 785.3L654.7 788.2L672.4 794.8L698.8 808L694.4 806.7L665.3 793.4L649.7 788L627.1 783L600 779.7L575 778.1L543.1 776.9L455.9 775.7L446.7 776.2L438.9 777.3L422.5 781.5L419.1 782.9L418.4 783.8L418.3 786L419.8 789.2L422.2 792.4L425.6 795.4L437 802L454.8 810.1L477 818.5L504.7 827L534.6 834.7L568.1 842L565.5 845Z"/>
<path fill="#ff2020" stroke="#ff2020" stroke-width="1.1" d="M568.9 841L568.1 842L565.8 841.6L519.2 830.9L489.5 822.5L464 813.8L441.5 804.2L427.2 796.5L423.4 793.6L420.7 790.5L418.5 786.6L418.4 783.8L419.1 782.9L422.5 781.5L438.9 777.3L446.7 776.2L455.9 775.7L541.7 776.8L573.5 778L598.8 779.6L627.1 783L648.2 787.6L666.6 793.9L694.4 806.7L689.9 805.5L659.1 792.6L642.8 787.4L619.4 782.5L592.9 779.5L567.4 777.9L534.6 776.7L461.5 775.9L445.5 777.5L433.5 780.3L428.4 782.1L426 783.3L425.6 784.1L425.8 786.2L427.8 789.4L430.6 792.6L434.4 795.5L445.6 801.6L461.7 808.4L484.5 816.7L509.3 824.1L539.4 831.7L571 838.5L568.9 841Z"/>
<path fill="#ff1c1c" stroke="#ff1c1c" stroke-width="1.1" d="M572.4 836.9L571 838.5L531.5 829.9L500.6 821.7L474 813.1L451.5 804.2L436.2 796.6L432 793.8L428.9 790.7L426.1 786.9L425.6 784.1L426 783.3L428.4 782.1L433.5 780.3L445.5 777.5L461.5 775.9L531.2 776.6L564.7 777.7L590.5 779.3L619.4 782.5L641.1 787L660.5 793.2L689.9 805.5L685.1 804.3L652.6 791.9L635.5 786.9L613.3 782.5L586.5 779.5L535.6 776.9L469.5 776.3L461.3 776.7L452.8 777.9L441.3 780.5L436.3 782.3L434 783.5L433.6 784.3L434.1 786.4L436 788.9L439 792L443 795L453.5 800.5L468.7 806.7L492.2 814.9L515.8 821.7L544.3 828.7L574 834.9L572.4 836.9Z"/>
<path fill="#ff1818" stroke="#ff1818" stroke-width="1.1" d="M574.1 834.9L546.4 829.2L519.4 822.7L495.4 815.9L474.3 808.8L455.8 801.5L443.9 795.5L439.7 792.6L436.5 789.6L434.1 786.4L433.6 784.3L434 783.5L436.3 782.3L441.3 780.5L452.8 777.9L461.3 776.7L469.5 776.3L535.6 776.9L586.5 779.5L613.3 782.5L635.5 786.9L655.5 792.9L685.1 804.3L680.1 803.2L647.4 791.7L629.5 786.8L606.8 782.5L582 779.7L539.4 777.4L477.1 776.7L468.2 777.3L460.9 778.3L446.3 782L442.6 784.3L442.8 785.7L444.7 788.3L451.1 793.8L459.3 798.2L470.6 802.9L492.3 810.5L518.9 818.3L547.4 825.3L577.2 831.4L574.1 834.9Z"/>
<path fill="#ff1414" stroke="#ff1414" stroke-width="1.1" d="M577.7 830.8L577.2 831.4L566.2 829.2L529.9 821.1L505.2 814.4L481.8 807L464.1 800.3L453 794.9L445.3 788.9L443.2 786.4L442.6 784.3L446.3 782L460.9 778.3L468.2 777.3L477.1 776.7L536.8 777.4L579.5 779.5L606.8 782.5L629.5 786.8L650.4 792.7L680.1 803.2L674.6 802.2L642 791.5L623.3 786.8L599.9 782.6L574.5 779.9L542.2 778.2L503.3 777.3L484.3 777.4L470.2 778.9L455.5 782.8L452.6 784.9L453 786.3L455.3 788.8L462.7 794.1L470.4 798L480.8 802.1L501.9 809.1L527.7 816.2L552.8 822.2L580.5 827.8L577.7 830.8Z"/>
<path fill="#ff1010" stroke="#ff1010" stroke-width="1.1" d="M581.6 826.6L580.5 827.8L544.8 820.4L517 813.4L492.5 806.1L475.4 800.1L464.7 795.3L455.3 788.8L453 786.3L452.6 784.9L455.5 782.8L470.2 778.9L484.3 777.4L503.3 777.3L542.2 778.2L574.5 779.9L599.9 782.6L623.3 786.8L645.2 792.5L674.6 802.2L668.7 801.3L641.2 792.8L618.6 787.2L596.7 783.4L572.8 780.8L525.6 778.5L494.9 778.3L480.7 779.8L468.2 782.7L464 785.2L464.4 786.6L466.2 788.5L474.3 793.8L480.9 797.1L491.6 801.2L510.3 807.1L533.1 813.2L558.4 819L584.2 824.1L581.6 826.6Z"/>
<path fill="#ff0c0c" stroke="#ff0c0c" stroke-width="1.1" d="M586 822.3L584.2 824.1L562.5 819.9L531.2 812.7L503.8 805.2L488.8 800.2L477.4 795.5L467 789.1L464.4 786.6L464 785.2L468.2 782.7L480.7 779.8L494.9 778.3L524 778.5L571.1 780.7L596.7 783.4L618.6 787.2L641.2 792.8L668.7 801.3L663.1 800.3L627.9 791.1L611.2 787.5L590.4 784.2L564.1 781.5L531.8 779.6L505.6 779.5L493 780.9L478.5 784.8L477.4 785.8L477.2 786.7L478.3 788L484.6 792.1L493.6 796.5L504.7 800.7L522.4 806L542.3 811L588 820.4L586 822.3Z"/>
<path fill="#ff0808" stroke="#ff0808" stroke-width="1.1" d="M588.1 820.2L570.5 817.1L546.1 811.9L509.3 802.1L496.2 797.6L486.7 793.2L479 788.6L477.2 786.7L477.4 785.8L478.5 784.8L493 780.9L505.6 779.5L531.8 779.6L564.1 781.5L590.4 784.2L611.2 787.5L629.6 791.5L663.1 800.3L625.3 791.9L605.6 788.1L584.1 784.9L560.2 782.4L536.9 781.1L518.1 781.1L507.9 782.3L494.2 785.8L493.1 786.8L492.9 787.7L494.1 789L500.2 792.5L513 797.8L523.5 801.3L554 809.1L591.9 816.6L588.1 820.2Z"/>
<path fill="#ff0404" stroke="#ff0404" stroke-width="1.1" d="M592.8 815.9L591.9 816.6L564 811.3L542.6 806.5L525.1 801.8L514.4 798.3L500.2 792.5L494.1 789L492.9 787.7L493.1 786.8L494.2 785.8L507.9 782.3L518.1 781.1L535.5 781L557.6 782.2L581.9 784.6L603.5 787.8L625.3 791.9L657.6 799.2L602.9 788.9L582.9 786.1L562.5 784.1L542.9 783.2L530.4 783.7L513.2 787.7L512.5 788.7L514.2 790.8L520.1 793.5L542.8 801.1L566.7 807L596.6 812.7L592.8 815.9Z"/>
<path fill="#ff0000" stroke="#ff0000" stroke-width="1.1" d="M598.6 811.3L596.6 812.7L570.7 807.9L549.7 803L534.7 798.6L521.4 794.1L514.2 790.8L512.5 788.7L513.2 787.7L530.4 783.7L542.9 783.2L560.6 783.9L580.5 785.8L600.8 788.5L651.8 798.2L601.8 790.1L572 787L558.9 786.8L552.6 787.5L539.1 791.5L540.6 792.9L544.4 794.6L560.8 799.4L581.9 804.3L603.4 808.3L598.6 811.3Z"/>
<path fill="#ff0000" stroke="#ff0000" stroke-width="1.1" d="M607.7 805.8L603.4 808.3L579.8 803.8L550.5 796.6L541.8 793.5L539.1 791.5L552.6 787.5L558.9 786.8L572 787L604.1 790.4L645 797.4L633.5 797.8L616.9 795.5L607.5 795.2L595.4 799.1L613.7 802.9L607.7 805.8Z"/>
<path fill="#ff0000" stroke="#ff0000" stroke-width="1.1" d="M629.6 798.6L613.7 802.9L595.4 799.1L607.5 795.2L616.9 795.5L633.5 797.8L629.6 798.6Z"/>
<path fill="none" stroke="#000" stroke-opacity="0.55" stroke-width="1" d="M263 1048.5L233 1017.8L228 1012.1L224.5 1007M325.2 1019.8L311.2 1010.7L291.9 997.4L282.5 990.5L274.9 984.4L269.2 978.8L264.2 973.2L251 954.8M416.3 995L391 984.3L366.8 972.9L347.5 963L331.7 953.6L317.1 943.4L299.8 929.6L282.6 913.8L277.7 908.5L274.5 904.2M503.8 956L462.4 942.8L424.2 928.8L407 921.7L389.6 914L358.8 898.6L338.8 887.2L333 883.3L328.2 879.3L323.5 874.5L315.3 864.1L310.6 857.4L307.5 851.9M535.4 892.6L492.2 881.6L455.7 870.8L428.8 861.3L416.4 856.1L405.2 850.7L394 844.8L383.1 838.1L373.5 831.4L365.3 824.7L358.8 817.9L352.9 809.9L349.7 803.6L349 799M581.7 826.5L556 821.4L532.6 815.9L509.7 809.8L490.7 804L476.8 798.9L467.5 794.5L459 788.7L456.7 786.1L456.5 784.7L458 783.6L461.4 782.1L473.7 779.2L477.3 778.6L488.1 777.7L501.9 777.5L523.1 778L552.2 778.9L573.3 780.2L598.7 782.9L622.3 787.1L644.3 792.7L672.6 801.9"/>
<line x1="182" y1="1131.8" x2="486.9" y2="1244.1" stroke="#333" stroke-width="1.6"/>
<line x1="486.9" y1="1244.1" x2="728.9" y2="1116" stroke="#333" stroke-width="1.6"/>
<line x1="728.9" y1="1116" x2="747.6" y2="734.9" stroke="#333" stroke-width="1.6"/>
<line x1="443.5" y1="1228.1" x2="449.3" y2="1225.2" stroke="#333" stroke-width="1.6"/>
<line x1="401.9" y1="1212.8" x2="414.1" y2="1206.9" stroke="#333" stroke-width="1.6"/>
<line x1="361.8" y1="1198" x2="367.6" y2="1195.3" stroke="#333" stroke-width="1.6"/>
<line x1="323.1" y1="1183.8" x2="335.5" y2="1178.3" stroke="#333" stroke-width="1.6"/>
<line x1="285.9" y1="1170.1" x2="291.8" y2="1167.6" stroke="#333" stroke-width="1.6"/>
<line x1="250.1" y1="1156.9" x2="262.5" y2="1151.8" stroke="#333" stroke-width="1.6"/>
<line x1="215.4" y1="1144.1" x2="221.4" y2="1141.8" stroke="#333" stroke-width="1.6"/>
<line x1="522.1" y1="1225.5" x2="513.7" y2="1222.5" stroke="#333" stroke-width="1.6"/>
<line x1="555.6" y1="1207.7" x2="541.1" y2="1202.7" stroke="#333" stroke-width="1.6"/>
<line x1="587.7" y1="1190.7" x2="579.5" y2="1188" stroke="#333" stroke-width="1.6"/>
<line x1="618.4" y1="1174.5" x2="604.1" y2="1169.9" stroke="#333" stroke-width="1.6"/>
<line x1="647.8" y1="1158.9" x2="639.7" y2="1156.4" stroke="#333" stroke-width="1.6"/>
<line x1="676" y1="1144" x2="661.9" y2="1139.8" stroke="#333" stroke-width="1.6"/>
<line x1="703" y1="1129.7" x2="695" y2="1127.4" stroke="#333" stroke-width="1.6"/>
<line x1="730" y1="1094.8" x2="716.8" y2="1091.2" stroke="#333" stroke-width="1.6"/>
<line x1="734.2" y1="1008.6" x2="720.8" y2="1005.4" stroke="#333" stroke-width="1.6"/>
<line x1="738.5" y1="919.9" x2="725" y2="917.2" stroke="#333" stroke-width="1.6"/>
<line x1="743" y1="828.7" x2="729.2" y2="826.5" stroke="#333" stroke-width="1.6"/>
<line x1="747.6" y1="734.9" x2="733.6" y2="733.2" stroke="#333" stroke-width="1.6"/>
<text x="738" y="1103.3" font-size="24.5" text-anchor="start">88</text>
<text x="742.2" y="1017.1" font-size="24.5" text-anchor="start">92</text>
<text x="746.5" y="928.4" font-size="24.5" text-anchor="start">96</text>
<text x="751" y="837.2" font-size="24.5" text-anchor="start">100</text>
<text x="755.6" y="743.4" font-size="24.5" text-anchor="start">104</text>
<text x="163.8" y="1156.5" font-size="26" text-anchor="middle">40</text>
<text x="233.4" y="1182.7" font-size="26" text-anchor="middle">30</text>
<text x="307" y="1210.8" font-size="26" text-anchor="middle">20</text>
<text x="388.5" y="1241.1" font-size="26" text-anchor="middle">10</text>
<text x="489.5" y="1273.5" font-size="26" text-anchor="middle" letter-spacing="1">00</text>
<text x="566.4" y="1236.3" font-size="26" text-anchor="middle">1</text>
<text x="630.5" y="1200.9" font-size="26" text-anchor="middle">2</text>
<text x="688.8" y="1169.3" font-size="26" text-anchor="middle">3</text>
<text x="741.4" y="1140.6" font-size="26" text-anchor="middle">4</text>
<linearGradient id="gc" x1="0" y1="0" x2="0" y2="1"><stop offset="0.0000" stop-color="#cd0000"/><stop offset="0.0167" stop-color="#ff0000"/><stop offset="0.0333" stop-color="#ff0000"/><stop offset="0.0500" stop-color="#ff0000"/><stop offset="0.0667" stop-color="#ff0a0a"/><stop offset="0.0833" stop-color="#ff1414"/><stop offset="0.1000" stop-color="#ff1e1e"/><stop offset="0.1167" stop-color="#ff2828"/><stop offset="0.1333" stop-color="#ff3232"/><stop offset="0.1500" stop-color="#ff3c3c"/><stop offset="0.1667" stop-color="#ff4646"/><stop offset="0.1833" stop-color="#ff5050"/><stop offset="0.2000" stop-color="#ff5a5a"/><stop offset="0.2167" stop-color="#ff6464"/><stop offset="0.2333" stop-color="#ff6e6e"/><stop offset="0.2500" stop-color="#ff7878"/><stop offset="0.2667" stop-color="#ff8282"/><stop offset="0.2833" stop-color="#ff8c8c"/><stop offset="0.3000" stop-color="#ff9696"/><stop offset="0.3167" stop-color="#ffa0a0"/><stop offset="0.3333" stop-color="#ffaaaa"/><stop offset="0.3500" stop-color="#ffb4b4"/><stop offset="0.3667" stop-color="#ffbebe"/><stop offset="0.3833" stop-color="#ffc8c8"/><stop offset="0.4000" stop-color="#ffd2d2"/><stop offset="0.4167" stop-color="#ffdcdc"/><stop offset="0.4333" stop-color="#ffe6e6"/><stop offset="0.4500" stop-color="#fff0f0"/><stop offset="0.4667" stop-color="#fffafa"/><stop offset="0.4750" stop-color="#ffffff"/><stop offset="0.4833" stop-color="#ffffff"/><stop offset="0.5000" stop-color="#ffffff"/><stop offset="0.5167" stop-color="#ffffff"/><stop offset="0.5170" stop-color="#ffffff"/><stop offset="0.5333" stop-color="#f6f6ff"/><stop offset="0.5500" stop-color="#eeeeff"/><stop offset="0.5667" stop-color="#e5e5ff"/><stop offset="0.5833" stop-color="#dcdcff"/><stop offset="0.6000" stop-color="#d3d3ff"/><stop offset="0.6167" stop-color="#cacaff"/><stop offset="0.6333" stop-color="#c2c2ff"/><stop offset="0.6500" stop-color="#b9b9ff"/><stop offset="0.6667" stop-color="#b0b0ff"/><stop offset="0.6833" stop-color="#a7a7ff"/><stop offset="0.7000" stop-color="#9e9eff"/><stop offset="0.7167" stop-color="#9696ff"/><stop offset="0.7333" stop-color="#8d8dff"/><stop offset="0.7500" stop-color="#8484ff"/><stop offset="0.7667" stop-color="#7b7bff"/><stop offset="0.7833" stop-color="#7272ff"/><stop offset="0.8000" stop-color="#6a6aff"/><stop offset="0.8167" stop-color="#6161ff"/><stop offset="0.8333" stop-color="#5858ff"/><stop offset="0.8500" stop-color="#4f4fff"/><stop offset="0.8667" stop-color="#4646ff"/><stop offset="0.8833" stop-color="#3e3eff"/><stop offset="0.9000" stop-color="#3535ff"/><stop offset="0.9167" stop-color="#2c2cff"/><stop offset="0.9333" stop-color="#2323ff"/><stop offset="0.9500" stop-color="#1a1aff"/><stop offset="0.9667" stop-color="#1212ff"/><stop offset="0.9833" stop-color="#0909ff"/><stop offset="1.0000" stop-color="#0000ff"/></linearGradient>
<rect x="36.1" y="780.2" width="46.5" height="371.2" fill="url(#gc)"/>
<text x="93" y="1153.7" font-size="23.3" text-anchor="start">88</text>
<text x="93" y="1105.6" font-size="23.3" text-anchor="start">90</text>
<text x="93" y="1057.5" font-size="23.3" text-anchor="start">92</text>
<text x="93" y="1009.4" font-size="23.3" text-anchor="start">94</text>
<text x="93" y="961.3" font-size="23.3" text-anchor="start">96</text>
<text x="93" y="913.2" font-size="23.3" text-anchor="start">98</text>
<text x="93" y="865.1" font-size="23.3" text-anchor="start">100</text>
<text x="93" y="817" font-size="23.3" text-anchor="start">102</text>
<text x="11.3" y="759" font-size="29" xml:space="preserve"><tspan font-style="italic">S</tspan> (<tspan dx="3.5">J K</tspan><tspan font-size="16" dy="-12.2">-1</tspan><tspan dx="-1.5" dy="12.2"> kg</tspan><tspan font-size="16" dy="-12.2">-1</tspan><tspan dx="1" dy="12.2">)</tspan></text>
<text transform="translate(822 1015.4) rotate(-90)" font-size="27.3" xml:space="preserve"><tspan font-style="italic">S</tspan> (<tspan dx="0">J K</tspan><tspan font-size="15" dy="-11.5">-1</tspan><tspan dx="0" dy="11.5"> kg</tspan><tspan font-size="15" dy="-11.5">-1</tspan><tspan dx="0" dy="11.5"> )</tspan></text>
<text x="206.5" y="796.7" font-size="29.5">(c)</text>
<text x="444" y="739.6" font-size="29.5"><tspan font-style="italic">T</tspan> = 300 K</text>
<line x1="157.2" y1="1206.1" x2="380.3" y2="1297" stroke="#000" stroke-width="3.2"/>
<path fill="#000" d="M396 1303.4L368.3 1305.1L379.3 1296.6L377.4 1282.9Z"/>
<line x1="543.6" y1="1306.7" x2="756.3" y2="1191.2" stroke="#000" stroke-width="3.2"/>
<path fill="#000" d="M771.2 1183.1L755 1205.6L755.4 1191.7L743.5 1184.5Z"/>
<text transform="translate(195.2 1207.4) rotate(22.2)" font-size="29">Stress (MPa)</text>
<text transform="translate(541.8 1287.6) rotate(-28.6)" font-size="29.2">Magnetic field (T)</text>
</g>
<g id="pd">
<line x1="1104.7" y1="1104.8" x2="1094.3" y2="729" stroke="#e9e9e9" stroke-width="1.3"/>
<line x1="1500.2" y1="1093.8" x2="1513.6" y2="724.5" stroke="#e9e9e9" stroke-width="1.3"/>
<line x1="1253" y1="1212.9" x2="1500.2" y2="1093.8" stroke="#e9e9e9" stroke-width="1.3"/>
<line x1="1406.7" y1="1207.8" x2="1104.7" y2="1104.8" stroke="#e9e9e9" stroke-width="1.3"/>
<line x1="1170.9" y1="1079.7" x2="1164.7" y2="717.5" stroke="#e9e9e9" stroke-width="1.3"/>
<line x1="1425.5" y1="1072.9" x2="1434.1" y2="714.7" stroke="#e9e9e9" stroke-width="1.3"/>
<line x1="1174.2" y1="1183.9" x2="1425.5" y2="1072.9" stroke="#e9e9e9" stroke-width="1.3"/>
<line x1="1469.5" y1="1174.6" x2="1170.9" y2="1079.7" stroke="#e9e9e9" stroke-width="1.3"/>
<line x1="1232.3" y1="1056.4" x2="1229.8" y2="706.8" stroke="#e9e9e9" stroke-width="1.3"/>
<line x1="1355.3" y1="1053.2" x2="1359.7" y2="705.6" stroke="#e9e9e9" stroke-width="1.3"/>
<line x1="1101.2" y1="1157" x2="1355.3" y2="1053.2" stroke="#e9e9e9" stroke-width="1.3"/>
<line x1="1527.1" y1="1144.1" x2="1232.3" y2="1056.4" stroke="#e9e9e9" stroke-width="1.3"/>
<line x1="1029.4" y1="1038.7" x2="1289.5" y2="953.6" stroke="#e9e9e9" stroke-width="1.3"/>
<line x1="1289.5" y1="953.6" x2="1584.5" y2="1025" stroke="#e9e9e9" stroke-width="1.3"/>
<line x1="1025.6" y1="942.7" x2="1289.6" y2="870.3" stroke="#e9e9e9" stroke-width="1.3"/>
<line x1="1289.6" y1="870.3" x2="1589.1" y2="931.2" stroke="#e9e9e9" stroke-width="1.3"/>
<line x1="1021.7" y1="843.7" x2="1289.8" y2="784.8" stroke="#e9e9e9" stroke-width="1.3"/>
<line x1="1289.8" y1="784.8" x2="1593.8" y2="834.6" stroke="#e9e9e9" stroke-width="1.3"/>
<line x1="1033.1" y1="1131.9" x2="1017.7" y2="741.5" stroke="#9a9a9a" stroke-width="1.4"/>
<line x1="1289.3" y1="1034.8" x2="1290" y2="697" stroke="#9a9a9a" stroke-width="1.4"/>
<line x1="1017.7" y1="741.5" x2="1290" y2="697" stroke="#9a9a9a" stroke-width="1.4"/>
<line x1="1290" y1="697" x2="1598.7" y2="735" stroke="#9a9a9a" stroke-width="1.4"/>
<line x1="1033.1" y1="1131.9" x2="1289.3" y2="1034.8" stroke="#9a9a9a" stroke-width="1.4"/>
<line x1="1289.3" y1="1034.8" x2="1580" y2="1116.1" stroke="#9a9a9a" stroke-width="1.4"/>
<path fill="#0707ff" stroke="#0707ff" stroke-width="1.1" d="M1580 1116.1L1575.4 1114.3L1580 1116.1Z"/>
<path fill="#0909ff" stroke="#0909ff" stroke-width="1.1" d="M1579.2 1114.2L1579 1113.8L1546 1103.7L1579.9 1115.7L1579.2 1114.2Z"/>
<path fill="#0c0cff" stroke="#0c0cff" stroke-width="1.1" d="M1578.4 1112.4L1578.2 1111.8L1509.7 1091.1L1546 1103.7L1579 1113.8L1578.4 1112.4Z"/>
<path fill="#1010ff" stroke="#1010ff" stroke-width="1.1" d="M1577.6 1110.6L1577.3 1109.9L1561.5 1105L1465.6 1076.5L1509.7 1091.1L1578.2 1111.8L1577.6 1110.6Z"/>
<path fill="#1313ff" stroke="#1313ff" stroke-width="1.1" d="M1576.8 1108.8L1576.4 1107.9L1548.8 1099.5L1420.5 1061.7L1465.6 1076.5L1577.3 1109.9L1576.8 1108.8Z"/>
<path fill="#1717ff" stroke="#1717ff" stroke-width="1.1" d="M1576 1107L1575.6 1105.9L1545.9 1096.9L1383.7 1049.3L1420.5 1061.7L1576.4 1107.9L1576 1107Z"/>
<path fill="#1a1aff" stroke="#1a1aff" stroke-width="1.1" d="M1575.2 1105.2L1574.7 1104L1549 1096.2L1355.7 1039.3L1383.7 1049.3L1575.6 1105.9L1575.2 1105.2Z"/>
<path fill="#1e1eff" stroke="#1e1eff" stroke-width="1.1" d="M1574.4 1103.3L1573.8 1102L1554.4 1096.2L1387.8 1047.4L1333.7 1031L1355.7 1039.3L1370.3 1043.7L1574.7 1104L1574.4 1103.3Z"/>
<path fill="#2121ff" stroke="#2121ff" stroke-width="1.1" d="M1573.6 1101.5L1572.9 1100L1559 1095.8L1378.2 1043L1315.8 1023.9L1333.7 1031L1364.3 1040.4L1573.8 1102L1573.6 1101.5Z"/>
<path fill="#2525ff" stroke="#2525ff" stroke-width="1.1" d="M1572.7 1099.7L1572 1098.1L1566 1096.3L1368.8 1038.7L1300.6 1017.6L1315.8 1023.9L1356.6 1036.6L1572.9 1100L1572.7 1099.7Z"/>
<path fill="#2828ff" stroke="#2828ff" stroke-width="1.1" d="M1571.9 1097.8L1571.1 1096.1L1362.7 1035.4L1289.2 1012.4L1300.6 1017.6L1349 1032.8L1571.9 1097.8Z"/>
<path fill="#2c2cff" stroke="#2c2cff" stroke-width="1.1" d="M1570.2 1094.2L1359.9 1033L1287.9 1010.6L1289.2 1012.4L1296.8 1014.9L1366 1036.4L1571.1 1096.1L1570.2 1094.2Z"/>
<path fill="#3030ff" stroke="#3030ff" stroke-width="1.1" d="M1569.3 1092.3L1514.1 1075.9L1357.1 1030.7L1286.7 1008.8L1287.9 1010.6L1293.8 1012.6L1361.6 1033.5L1570.2 1094.1L1569.3 1092.3Z"/>
<path fill="#3333ff" stroke="#3333ff" stroke-width="1.1" d="M1568.5 1090.5L1517 1075L1352.7 1027.9L1285.5 1007.1L1286.7 1008.8L1291.1 1010.3L1358.8 1031.2L1569.2 1092.2L1568.5 1090.5Z"/>
<path fill="#3737ff" stroke="#3737ff" stroke-width="1.1" d="M1567.6 1088.7L1567.4 1088.2L1519.9 1074.2L1349.9 1025.5L1284.2 1005.3L1285.5 1007.1L1288.4 1008L1356 1028.8L1568.3 1090.2L1567.6 1088.7Z"/>
<path fill="#3a3aff" stroke="#3a3aff" stroke-width="1.1" d="M1566.7 1086.8L1566.4 1086.2L1522.8 1073.4L1347.1 1023.2L1283 1003.5L1284.2 1005.3L1351.6 1026L1567.4 1088.2L1566.7 1086.8Z"/>
<path fill="#3e3eff" stroke="#3e3eff" stroke-width="1.1" d="M1565.8 1085L1565.5 1084.2L1523.7 1072L1342.7 1020.4L1281.7 1001.7L1283 1003.5L1348.8 1023.7L1566.4 1086.2L1565.8 1085Z"/>
<path fill="#4141ff" stroke="#4141ff" stroke-width="1.1" d="M1564.9 1083.1L1564.5 1082.2L1546.5 1076.9L1351.5 1021.4L1280.4 1000L1281.7 1001.7L1346 1021.4L1565.5 1084.2L1564.9 1083.1Z"/>
<path fill="#4545ff" stroke="#4545ff" stroke-width="1.1" d="M1564 1081.3L1563.5 1080.3L1546.3 1075.2L1350.3 1019.6L1279.1 998.2L1280.4 1000L1341.5 1018.5L1564.5 1082.2L1564 1081.3Z"/>
<path fill="#4848ff" stroke="#4848ff" stroke-width="1.1" d="M1563.1 1079.5L1562.5 1078.3L1546.5 1073.6L1347.5 1017.2L1277.9 996.4L1279.1 998.2L1338.7 1016.2L1563.5 1080.3L1563.1 1079.5Z"/>
<path fill="#4c4cff" stroke="#4c4cff" stroke-width="1.1" d="M1562.2 1077.6L1561.6 1076.3L1545.5 1071.6L1346.3 1015.4L1276.6 994.6L1277.9 996.4L1334 1013.4L1562.5 1078.3L1562.2 1077.6Z"/>
<path fill="#4f4fff" stroke="#4f4fff" stroke-width="1.1" d="M1561.3 1075.7L1560.6 1074.3L1546.5 1070.2L1343.5 1013L1275.3 992.8L1276.6 994.6L1331.4 1011.1L1561.6 1076.3L1561.3 1075.7Z"/>
<path fill="#5353ff" stroke="#5353ff" stroke-width="1.1" d="M1560.4 1073.9L1559.6 1072.3L1547.5 1068.8L1342.3 1011.2L1273.9 991L1275.3 992.8L1326.9 1008.3L1560.6 1074.3L1560.4 1073.9Z"/>
<path fill="#5656ff" stroke="#5656ff" stroke-width="1.1" d="M1559.4 1072L1558.5 1070.3L1546.4 1066.8L1339.4 1008.8L1272.6 989.2L1273.9 991L1322.5 1005.5L1559.4 1072Z"/>
<path fill="#5a5aff" stroke="#5a5aff" stroke-width="1.1" d="M1557.5 1068.3L1488.2 1048.6L1334.8 1006L1271.3 987.4L1272.6 989.2L1318 1002.7L1558.5 1070.3L1557.5 1068.3Z"/>
<path fill="#5d5dff" stroke="#5d5dff" stroke-width="1.1" d="M1556.6 1066.5L1491 1047.7L1331.9 1003.7L1270 985.6L1271.3 987.4L1315.1 1000.4L1557.5 1068.3L1556.6 1066.5Z"/>
<path fill="#6161ff" stroke="#6161ff" stroke-width="1.1" d="M1555.6 1064.6L1495.7 1047.3L1327.4 1000.9L1268.6 983.8L1270 985.6L1333.6 1004.1L1556.5 1066.3L1555.6 1064.6Z"/>
<path fill="#6464ff" stroke="#6464ff" stroke-width="1.1" d="M1554.7 1062.7L1554.4 1062.3L1512.3 1050.3L1334.5 1001.3L1267.2 982L1268.6 983.8L1329 1001.3L1555.5 1064.3L1554.7 1062.7Z"/>
<path fill="#6868ff" stroke="#6868ff" stroke-width="1.1" d="M1553.7 1060.9L1553.3 1060.2L1513.2 1048.9L1331.6 999L1265.9 980.2L1267.2 982L1324.5 998.5L1554.4 1062.3L1553.7 1060.9Z"/>
<path fill="#6b6bff" stroke="#6b6bff" stroke-width="1.1" d="M1552.7 1059L1552.3 1058.2L1512.1 1046.9L1328.9 996.7L1264.5 978.4L1265.9 980.2L1319.9 995.7L1553.3 1060.2L1552.7 1059Z"/>
<path fill="#6f6fff" stroke="#6f6fff" stroke-width="1.1" d="M1551.7 1057.1L1551.2 1056.2L1513 1045.4L1327.4 994.8L1263.1 976.6L1264.5 978.4L1315.3 992.9L1552.3 1058.2L1551.7 1057.1Z"/>
<path fill="#7272ff" stroke="#7272ff" stroke-width="1.1" d="M1550.7 1055.2L1550.1 1054.2L1513.8 1044L1324.4 992.4L1261.7 974.8L1263.1 976.6L1310.8 990.2L1551.2 1056.2L1550.7 1055.2Z"/>
<path fill="#7676ff" stroke="#7676ff" stroke-width="1.1" d="M1549.7 1053.4L1549 1052.2L1512.7 1042L1321.5 990.1L1260.3 973L1261.7 974.8L1304.5 986.9L1550.1 1054.2L1549.7 1053.4Z"/>
<path fill="#7979ff" stroke="#7979ff" stroke-width="1.1" d="M1548.7 1051.5L1547.9 1050.1L1513.6 1040.5L1318.5 987.7L1258.9 971.1L1260.3 973L1299.9 984.2L1471.5 1030.6L1549 1052.2L1548.7 1051.5Z"/>
<path fill="#7d7dff" stroke="#7d7dff" stroke-width="1.1" d="M1547.6 1049.6L1546.8 1048.1L1514.4 1039.1L1257.5 969.3L1258.9 971.1L1293.7 980.9L1470.4 1028.7L1547.9 1050.1L1547.6 1049.6Z"/>
<path fill="#8080ff" stroke="#8080ff" stroke-width="1.1" d="M1546.6 1047.7L1545.7 1046.1L1513.3 1037.1L1256 967.5L1257.5 969.3L1287.5 977.7L1467.2 1026.1L1546.8 1048.1L1546.6 1047.7Z"/>
<path fill="#8484ff" stroke="#8484ff" stroke-width="1.1" d="M1545.6 1045.8L1544.6 1044.1L1514.1 1035.6L1254.6 965.7L1256 967.5L1282.9 975L1545.6 1045.8Z"/>
<path fill="#8888ff" stroke="#8888ff" stroke-width="1.1" d="M1543.5 1042.1L1467.5 1021.2L1253.1 963.8L1254.6 965.7L1275.1 971.4L1462.9 1021.7L1544.6 1044.1L1543.5 1042.1Z"/>
<path fill="#8b8bff" stroke="#8b8bff" stroke-width="1.1" d="M1542.4 1040.2L1466.3 1019.2L1251.7 962L1253.1 963.8L1270.5 968.6L1461.7 1019.7L1543.4 1042L1542.4 1040.2Z"/>
<path fill="#8f8fff" stroke="#8f8fff" stroke-width="1.1" d="M1541.3 1038.3L1467.1 1017.8L1250.2 960.2L1251.7 962L1265.9 965.9L1458.6 1017.2L1542.3 1040L1541.3 1038.3Z"/>
<path fill="#9292ff" stroke="#9292ff" stroke-width="1.1" d="M1540.2 1036.4L1540 1035.9L1467.8 1016.3L1248.7 958.3L1250.2 960.2L1259.7 962.7L1455.4 1014.6L1541.1 1037.9L1540.2 1036.4Z"/>
<path fill="#9696ff" stroke="#9696ff" stroke-width="1.1" d="M1539.1 1034.5L1538.8 1033.9L1468.5 1014.8L1247.2 956.5L1248.7 958.3L1255 960L1452.3 1012.1L1540 1035.9L1539.1 1034.5Z"/>
<path fill="#9999ff" stroke="#9999ff" stroke-width="1.1" d="M1538 1032.6L1537.6 1031.8L1466.6 1012.6L1245.7 954.6L1247.2 956.5L1248.8 956.9L1449.1 1009.6L1538.8 1033.9L1538 1032.6Z"/>
<path fill="#9d9dff" stroke="#9d9dff" stroke-width="1.1" d="M1536.9 1030.7L1536.4 1029.8L1468 1011.3L1244.2 952.8L1245.7 954.6L1258.4 958L1442.1 1006.1L1537.6 1031.8L1536.9 1030.7Z"/>
<path fill="#a0a0ff" stroke="#a0a0ff" stroke-width="1.1" d="M1535.8 1028.8L1535.2 1027.7L1468.7 1009.8L1242.6 951L1244.2 952.8L1248.9 954.1L1438.9 1003.6L1536.4 1029.8L1535.8 1028.8Z"/>
<path fill="#a4a4ff" stroke="#a4a4ff" stroke-width="1.1" d="M1534.7 1026.9L1534 1025.7L1469.4 1008.3L1241.1 949.1L1242.6 951L1435.7 1001.1L1535.2 1027.7L1534.7 1026.9Z"/>
<path fill="#a7a7ff" stroke="#a7a7ff" stroke-width="1.1" d="M1533.5 1025L1532.7 1023.6L1468.1 1006.3L1239.6 947.3L1241.1 949.1L1430.5 998.1L1534 1025.7L1533.5 1025Z"/>
<path fill="#ababff" stroke="#ababff" stroke-width="1.1" d="M1532.4 1023.1L1531.5 1021.5L1468.8 1004.8L1238 945.4L1239.6 947.3L1425.4 995.1L1532.7 1023.6L1532.4 1023.1Z"/>
<path fill="#aeaeff" stroke="#aeaeff" stroke-width="1.1" d="M1531.2 1021.1L1530.2 1019.5L1469.4 1003.3L1236.4 943.5L1238 945.4L1420.1 992L1531.5 1021.5L1531.2 1021.1Z"/>
<path fill="#b2b2ff" stroke="#b2b2ff" stroke-width="1.1" d="M1530.1 1019.2L1529 1017.4L1468.1 1001.2L1234.8 941.7L1236.4 943.5L1405.7 986.7L1530.1 1019.2Z"/>
<path fill="#b5b5ff" stroke="#b5b5ff" stroke-width="1.1" d="M1527.7 1015.4L1408.6 984.1L1233.2 939.8L1234.8 941.7L1411.9 986.6L1529 1017.4L1527.7 1015.4Z"/>
<path fill="#b9b9ff" stroke="#b9b9ff" stroke-width="1.1" d="M1526.5 1013.5L1409.2 982.6L1231.6 938L1233.2 939.8L1406.7 983.6L1527.7 1015.3L1526.5 1013.5Z"/>
<path fill="#bcbcff" stroke="#bcbcff" stroke-width="1.1" d="M1525.3 1011.5L1409.7 981.1L1230 936.1L1231.6 938L1401.6 980.7L1526.4 1013.3L1525.3 1011.5Z"/>
<path fill="#c0c0ff" stroke="#c0c0ff" stroke-width="1.1" d="M1524.1 1009.6L1523.8 1009.1L1503.1 1003.6L1410.2 979.5L1228.3 934.2L1230 936.1L1396.4 977.7L1525.1 1011.2L1524.1 1009.6Z"/>
<path fill="#c3c3ff" stroke="#c3c3ff" stroke-width="1.1" d="M1522.9 1007.7L1522.5 1007L1514.2 1004.8L1410.7 978L1226.7 932.3L1228.3 934.2L1393.1 975.2L1523.8 1009.1L1522.9 1007.7Z"/>
<path fill="#c7c7ff" stroke="#c7c7ff" stroke-width="1.1" d="M1521.7 1005.7L1521.2 1005L1409.3 976L1225 930.5L1226.7 932.3L1388 972.3L1522.5 1007L1521.7 1005.7Z"/>
<path fill="#cacaff" stroke="#cacaff" stroke-width="1.1" d="M1520.4 1003.8L1519.8 1002.9L1409.8 974.4L1223.3 928.6L1225 930.5L1382.8 969.3L1521.2 1005L1520.4 1003.8Z"/>
<path fill="#ceceff" stroke="#ceceff" stroke-width="1.1" d="M1519.2 1001.9L1518.5 1000.8L1410.2 972.9L1221.6 926.7L1223.3 928.6L1379.5 966.8L1519.8 1002.9L1519.2 1001.9Z"/>
<path fill="#d1d1ff" stroke="#d1d1ff" stroke-width="1.1" d="M1517.9 999.9L1517.1 998.7L1410.7 971.4L1314.4 947.5L1219.9 924.8L1221.6 926.7L1374.3 963.9L1518.5 1000.8L1517.9 999.9Z"/>
<path fill="#d5d5ff" stroke="#d5d5ff" stroke-width="1.1" d="M1516.6 998L1515.7 996.6L1411.2 969.8L1312.8 945.5L1218.2 922.9L1219.9 924.8L1370.9 961.4L1517.1 998.7L1516.6 998Z"/>
<path fill="#d8d8ff" stroke="#d8d8ff" stroke-width="1.1" d="M1515.3 996L1514.3 994.5L1409.7 967.8L1309.5 943.1L1216.5 921.1L1218.2 922.9L1349.1 954.3L1515.7 996.6L1515.3 996Z"/>
<path fill="#dcdcff" stroke="#dcdcff" stroke-width="1.1" d="M1514.1 994.1L1512.9 992.4L1410.2 966.2L1307.9 941.1L1214.7 919.2L1216.5 921.1L1351.2 953.2L1514.3 994.5L1514.1 994.1Z"/>
<path fill="#dfdfff" stroke="#dfdfff" stroke-width="1.1" d="M1512.7 992.1L1511.5 990.3L1410.6 964.6L1306.4 939.1L1213 917.3L1214.7 919.2L1351.6 951.7L1512.7 992.1Z"/>
<path fill="#e3e3ff" stroke="#e3e3ff" stroke-width="1.1" d="M1510.1 988.2L1354 949L1211.2 915.4L1213 917.3L1355.6 951L1511.5 990.3L1510.1 988.2Z"/>
<path fill="#e7e7ff" stroke="#e7e7ff" stroke-width="1.1" d="M1508.8 986.3L1354.4 947.4L1209.4 913.5L1211.2 915.4L1352.2 948.5L1510.1 988.2L1508.8 986.3Z"/>
<path fill="#eaeaff" stroke="#eaeaff" stroke-width="1.1" d="M1507.4 984.3L1449.6 969.3L1354.7 945.8L1276.6 927.3L1207.6 911.6L1209.4 913.5L1348.8 946.1L1508.6 986.1L1507.4 984.3Z"/>
<path fill="#eeeeff" stroke="#eeeeff" stroke-width="1.1" d="M1506.1 982.3L1505.7 981.8L1460.2 970.3L1354.9 944.3L1275 925.3L1205.7 909.7L1207.6 911.6L1345.3 943.6L1507.2 983.9L1506.1 982.3Z"/>
<path fill="#f1f1ff" stroke="#f1f1ff" stroke-width="1.1" d="M1210.2 909.1L1203.9 907.8L1205.7 909.7L1269.7 924.1L1341.9 941.1L1505.7 981.8L1504.2 979.7L1401 953.8L1298.3 929.1L1210.2 909.1Z"/>
<path fill="#f5f5ff" stroke="#f5f5ff" stroke-width="1.1" d="M1216.6 909L1202 905.9L1203.9 907.8L1266.2 921.7L1338.5 938.6L1504.2 979.7L1502.8 977.6L1403.4 952.7L1302.1 928.4L1216.6 909Z"/>
<path fill="#f8f8ff" stroke="#f8f8ff" stroke-width="1.1" d="M1222.9 908.8L1200.2 903.9L1202 905.9L1264.5 919.7L1336.8 936.6L1502.8 977.6L1501.3 975.4L1407.6 952.1L1307.7 928.1L1222.9 908.8Z"/>
<path fill="#fcfcff" stroke="#fcfcff" stroke-width="1.1" d="M1199.6 902.3L1198.3 902L1200.2 903.9L1261.1 917.3L1333.4 934.1L1501.3 975.4L1499.7 973.3L1382.7 944.3L1282.5 920.6L1199.6 902.3Z"/>
<path fill="#ffffff" stroke="#ffffff" stroke-width="1.1" d="M1204.5 901.8L1196.4 900.1L1198.3 902L1259.3 915.4L1329.9 931.7L1499.7 973.3L1498.2 971.2L1385 943.2L1286.2 919.9L1204.5 901.8Z"/>
<path fill="#ffffff" stroke="#ffffff" stroke-width="1.1" d="M1209.3 901.3L1194.5 898.2L1196.4 900.1L1257.6 913.4L1328.2 929.6L1498.2 971.2L1496.7 969L1387.2 942L1289.9 919.1L1209.3 901.3Z"/>
<path fill="#ffffff" stroke="#ffffff" stroke-width="1.1" d="M1214 900.7L1192.5 896.3L1194.5 898.2L1254 911L1324.7 927.1L1496.7 969L1495.1 966.9L1389.5 940.9L1293.6 918.3L1214 900.7Z"/>
<path fill="#ffffff" stroke="#ffffff" stroke-width="1.1" d="M1194.3 895.1L1190.6 894.3L1192.5 896.3L1252.3 909L1323 925.1L1495.1 966.9L1493.5 964.7L1366.6 933.7L1271.9 911.8L1194.3 895.1Z"/>
<path fill="#ffffff" stroke="#ffffff" stroke-width="1.1" d="M1198 894.3L1188.6 892.4L1190.6 894.3L1250.5 907L1319.4 922.6L1493.5 964.7L1492 962.6L1368.7 932.5L1275.6 911L1198 894.3Z"/>
<path fill="#ffffff" stroke="#ffffff" stroke-width="1.1" d="M1201.7 893.5L1186.6 890.5L1188.6 892.4L1246.9 904.6L1315.9 920.1L1492 962.6L1490.4 960.4L1370.9 931.4L1279.3 910.2L1201.7 893.5Z"/>
<path fill="#ffffff" stroke="#ffffff" stroke-width="1.1" d="M1185 888.6L1184.6 888.6L1186.6 890.5L1245 902.6L1314.1 918.1L1392.3 936.5L1490.4 960.4L1488.8 958.2L1351.9 925.2L1259.4 904.1L1185 888.6Z"/>
<path fill="#fffcfc" stroke="#fffcfc" stroke-width="1.1" d="M1188 887.7L1182.5 886.6L1184.6 888.6L1243.2 900.6L1312.4 916L1390.6 934.4L1488.8 958.2L1487.1 956.1L1354 924L1262.9 903.3L1188 887.7Z"/>
<path fill="#fff8f8" stroke="#fff8f8" stroke-width="1.1" d="M1191 886.7L1180.5 884.7L1182.5 886.6L1241.3 898.6L1308.8 913.5L1386.9 931.8L1487.1 956.1L1485.5 953.9L1354.2 922.4L1264.7 902.1L1191 886.7Z"/>
<path fill="#fff4f4" stroke="#fff4f4" stroke-width="1.1" d="M1193.8 885.7L1178.4 882.7L1180.5 884.7L1239.4 896.6L1307 911.5L1385.2 929.7L1485.5 953.9L1483.9 951.7L1356.3 921.2L1266.5 900.8L1193.8 885.7Z"/>
<path fill="#fff0f0" stroke="#fff0f0" stroke-width="1.1" d="M1178.7 881.2L1176.3 880.8L1178.4 882.7L1235.8 894.2L1303.3 909L1381.5 927.1L1483.9 951.7L1482.2 949.5L1339.2 915.5L1250.7 895.8L1178.7 881.2Z"/>
<path fill="#ffecec" stroke="#ffecec" stroke-width="1.1" d="M1181.1 880.1L1174.2 878.8L1176.3 880.8L1233.8 892.2L1301.5 906.9L1379.8 925L1482.2 949.5L1480.5 947.4L1339.3 913.8L1251.9 894.4L1181.1 880.1Z"/>
<path fill="#ffe8e8" stroke="#ffe8e8" stroke-width="1.1" d="M1183.4 879L1172.1 876.9L1174.2 878.8L1231.9 890.2L1299.7 904.8L1376.1 922.4L1480.5 947.4L1478.8 945.2L1341.3 912.6L1255.4 893.5L1183.4 879Z"/>
<path fill="#ffe4e4" stroke="#ffe4e4" stroke-width="1.1" d="M1185.6 877.8L1169.9 874.9L1172.1 876.9L1228.1 887.8L1296 902.4L1372.3 919.8L1478.8 945.2L1477.1 943L1341.4 911L1255.3 891.9L1185.6 877.8Z"/>
<path fill="#ffe0e0" stroke="#ffe0e0" stroke-width="1.1" d="M1171.7 873.7L1167.7 873L1169.9 874.9L1226.2 885.8L1294.1 900.3L1370.5 917.7L1477.1 943L1475.4 940.8L1326.2 905.8L1240.6 887.1L1171.7 873.7Z"/>
<path fill="#ffdcdc" stroke="#ffdcdc" stroke-width="1.1" d="M1173.6 872.5L1165.5 871L1167.7 873L1224.2 883.8L1292.2 898.2L1368.7 915.6L1475.4 940.8L1473.7 938.6L1328.1 904.5L1244.1 886.2L1173.6 872.5Z"/>
<path fill="#ffd8d8" stroke="#ffd8d8" stroke-width="1.1" d="M1175.4 871.2L1163.3 869.1L1165.5 871L1222.2 881.7L1288.5 895.7L1364.9 913L1473.7 938.6L1471.9 936.4L1328.2 902.9L1244 884.5L1175.4 871.2Z"/>
<path fill="#ffd4d4" stroke="#ffd4d4" stroke-width="1.1" d="M1162.7 867.4L1161.1 867.1L1163.3 869.1L1229.3 881.5L1309.1 898.6L1471.9 936.4L1470.2 934.1L1314.8 898.2L1230.9 880.2L1162.7 867.4Z"/>
<path fill="#ffd0d0" stroke="#ffd0d0" stroke-width="1.1" d="M1164.1 866L1158.8 865.1L1161.1 867.1L1227.3 879.5L1307.2 896.5L1470.2 934.1L1468.4 931.9L1314.8 896.5L1232.6 878.9L1164.1 866Z"/>
<path fill="#ffcccc" stroke="#ffcccc" stroke-width="1.1" d="M1165.6 864.7L1156.5 863.2L1158.8 865.1L1225.2 877.4L1303.4 893.9L1468.4 931.9L1466.6 929.7L1314.8 894.8L1232.4 877.2L1165.6 864.7Z"/>
<path fill="#ffc8c8" stroke="#ffc8c8" stroke-width="1.1" d="M1166.9 863.3L1154.2 861.2L1156.5 863.2L1223.2 875.4L1301.5 891.8L1466.6 929.7L1464.8 927.5L1314.8 893.1L1234 875.9L1166.9 863.3Z"/>
<path fill="#ffc4c4" stroke="#ffc4c4" stroke-width="1.1" d="M1154.9 859.7L1151.9 859.2L1154.2 861.2L1219.2 873L1297.6 889.3L1464.8 927.5L1463 925.2L1303.3 888.8L1222.7 872L1154.9 859.7Z"/>
<path fill="#ffc0c0" stroke="#ffc0c0" stroke-width="1.1" d="M1156 858.3L1149.5 857.2L1151.9 859.2L1217.1 870.9L1293.8 886.8L1463 925.2L1461.2 923L1303.2 887.1L1222.4 870.3L1156 858.3Z"/>
<path fill="#ffbcbc" stroke="#ffbcbc" stroke-width="1.1" d="M1157 856.9L1147.1 855.3L1149.5 857.2L1215 868.9L1291.8 884.6L1461.2 923L1459.3 920.7L1303.1 885.4L1224.1 869L1157 856.9Z"/>
<path fill="#ffb8b8" stroke="#ffb8b8" stroke-width="1.1" d="M1145.8 853.4L1144.7 853.3L1147.1 855.3L1212.9 866.8L1289.8 882.5L1459.3 920.7L1457.5 918.5L1291.6 881.2L1212.6 865.1L1145.8 853.4Z"/>
<path fill="#ffb4b4" stroke="#ffb4b4" stroke-width="1.1" d="M1146.6 852L1142.3 851.3L1144.7 853.3L1208.3 864.3L1285.8 880L1457.5 918.5L1455.6 916.2L1291.4 879.4L1212.3 863.4L1146.6 852Z"/>
<path fill="#ffb0b0" stroke="#ffb0b0" stroke-width="1.1" d="M1147.3 850.5L1139.8 849.3L1142.3 851.3L1206.7 862.3L1281.4 877.3L1455.6 916.2L1453.7 914L1291.3 877.7L1212.3 861.7L1147.3 850.5Z"/>
<path fill="#ffacac" stroke="#ffacac" stroke-width="1.1" d="M1148 848.9L1137.3 847.3L1139.8 849.3L1204.5 860.2L1279.8 875.3L1453.7 914L1451.8 911.7L1291.2 876L1214.4 860.4L1148 848.9Z"/>
<path fill="#ffa8a8" stroke="#ffa8a8" stroke-width="1.1" d="M1137.2 845.7L1134.8 845.3L1137.3 847.3L1200.3 857.8L1275.8 872.7L1343.8 887.4L1451.8 911.7L1449.9 909.4L1281.4 872.2L1203.8 856.8L1137.2 845.7Z"/>
<path fill="#ffa4a4" stroke="#ffa4a4" stroke-width="1.1" d="M1137.7 844.1L1132.2 843.3L1134.8 845.3L1198.1 855.7L1273.7 870.6L1339.8 884.8L1449.9 909.4L1448 907.1L1281.2 870.4L1203.4 855L1137.7 844.1Z"/>
<path fill="#ffa0a0" stroke="#ffa0a0" stroke-width="1.1" d="M1138.1 842.5L1129.6 841.3L1132.2 843.3L1195.8 853.7L1271.6 868.4L1337.8 882.6L1448 907.1L1446.1 904.8L1281 868.6L1203 853.3L1138.1 842.5Z"/>
<path fill="#ff9c9c" stroke="#ff9c9c" stroke-width="1.1" d="M1127.7 839.4L1127 839.3L1129.6 841.3L1193.5 851.6L1267.6 865.9L1333.7 879.9L1446.1 904.8L1444.1 902.5L1271.2 864.9L1193.1 849.8L1127.7 839.4Z"/>
<path fill="#ff9898" stroke="#ff9898" stroke-width="1.1" d="M1128 837.8L1124.4 837.3L1127 839.3L1191.2 849.5L1265.4 863.7L1331.6 877.7L1444.1 902.5L1442.2 900.2L1270.9 863.1L1192.7 848.1L1128 837.8Z"/>
<path fill="#ff9494" stroke="#ff9494" stroke-width="1.1" d="M1128.2 836.2L1121.7 835.3L1124.4 837.3L1186.9 847.1L1262.9 861.5L1329.5 875.5L1442.2 900.2L1440.2 897.9L1268.7 860.9L1192.2 846.3L1128.2 836.2Z"/>
<path fill="#ff9090" stroke="#ff9090" stroke-width="1.1" d="M1128.4 834.6L1119 833.3L1121.7 835.3L1184.6 845L1259.1 859L1325.4 872.8L1440.2 897.9L1438.2 895.6L1268.5 859.1L1191.8 844.5L1128.4 834.6Z"/>
<path fill="#ff8c8c" stroke="#ff8c8c" stroke-width="1.1" d="M1118.2 831.5L1116.2 831.3L1119 833.3L1183 843L1256.9 856.8L1323.3 870.6L1438.2 895.6L1436.2 893.2L1325.2 869.2L1260.5 855.8L1184 841.5L1118.2 831.5Z"/>
<path fill="#ff8888" stroke="#ff8888" stroke-width="1.1" d="M1118.2 829.9L1113.5 829.3L1116.2 831.3L1179.7 840.8L1252.7 854.2L1319.2 867.9L1436.2 893.2L1434.2 890.9L1321 866.5L1258.2 853.6L1183.1 839.6L1118.2 829.9Z"/>
<path fill="#ff8484" stroke="#ff8484" stroke-width="1.1" d="M1118.1 828.2L1110.7 827.3L1113.5 829.3L1177.3 838.7L1250.5 852.1L1317 865.7L1434.2 890.9L1432.2 888.6L1257.9 851.8L1182.6 837.8L1118.1 828.2Z"/>
<path fill="#ff8080" stroke="#ff8080" stroke-width="1.1" d="M1108.2 825.3L1107.8 825.2L1110.7 827.3L1174.8 836.5L1248.2 849.9L1314.8 863.4L1432.2 888.6L1430.2 886.2L1314.6 861.6L1249.8 848.4L1172.3 834.4L1108.2 825.3Z"/>
<path fill="#ff7c7c" stroke="#ff7c7c" stroke-width="1.1" d="M1108 823.6L1104.9 823.2L1107.8 825.2L1170.4 834.1L1244 847.3L1310.6 860.8L1430.2 886.2L1428.1 883.9L1312.4 859.4L1249.4 846.6L1173.7 832.9L1140.8 827.9L1108 823.6Z"/>
<path fill="#ff7878" stroke="#ff7878" stroke-width="1.1" d="M1107.7 821.9L1102 821.2L1104.9 823.2L1167.8 832L1241.7 845.1L1308.4 858.5L1428.1 883.9L1426.1 881.5L1310.2 857.1L1248.2 844.6L1173.1 831.1L1139.3 826L1107.7 821.9Z"/>
<path fill="#ff7474" stroke="#ff7474" stroke-width="1.1" d="M1107.5 820.1L1099.1 819.2L1102 821.2L1165.3 829.9L1239.3 842.9L1306.2 856.3L1426.1 881.5L1424 879.1L1310 855.2L1246.7 842.5L1171 829.1L1107.5 820.1Z"/>
<path fill="#ff7070" stroke="#ff7070" stroke-width="1.1" d="M1097.6 817.3L1096.1 817.1L1099.1 819.2L1128.8 822.8L1162.7 827.7L1236.9 840.7L1303.9 854L1424 879.1L1421.9 876.7L1303.7 852.1L1238.5 839.2L1162.1 825.9L1128.8 821.1L1097.6 817.3Z"/>
<path fill="#ff6c6c" stroke="#ff6c6c" stroke-width="1.1" d="M1097.2 815.5L1093 815.1L1096.1 817.1L1127.7 821L1160.1 825.6L1232.6 838.1L1299.7 851.3L1421.9 876.7L1419.8 874.3L1301.4 849.8L1238 837.4L1161.4 824.1L1128.7 819.4L1097.2 815.5Z"/>
<path fill="#ff6868" stroke="#ff6868" stroke-width="1.1" d="M1096.7 813.8L1089.9 813.1L1093 815.1L1122.8 818.6L1155.7 823.2L1230.2 835.9L1297.4 849L1419.8 874.3L1417.7 871.9L1299.1 847.5L1235.6 835.1L1160.8 822.3L1128.6 817.6L1096.7 813.8Z"/>
<path fill="#ff6464" stroke="#ff6464" stroke-width="1.1" d="M1087 811L1089.9 813.1L1120 816.5L1152.8 821L1225.8 833.3L1293.1 846.3L1417.7 871.9L1415.6 869.5L1294.8 844.8L1229.3 832.2L1152.1 819.2L1119.2 814.7L1087 811Z"/>
<path fill="#ff6060" stroke="#ff6060" stroke-width="1.1" d="M1086.3 809.2L1083.7 809L1086.8 811L1119.2 814.7L1152.1 819.2L1225.3 831.4L1292.8 844.4L1415.6 869.5L1413.5 867.1L1290.4 842.1L1226.1 829.8L1151.4 817.3L1118.4 812.8L1086.3 809.2Z"/>
<path fill="#ff5c5c" stroke="#ff5c5c" stroke-width="1.1" d="M1085.7 807.4L1080.4 806.9L1083.7 809L1114.2 812.3L1147.3 816.8L1220.9 828.8L1288.4 841.7L1413.5 867.1L1411.3 864.7L1290.1 840.2L1226.3 828L1150.7 815.5L1116.1 810.8L1085.7 807.4Z"/>
<path fill="#ff5858" stroke="#ff5858" stroke-width="1.1" d="M1085 805.6L1077.2 804.9L1080.4 806.9L1111.2 810.2L1144.5 814.6L1218.4 826.6L1287 839.6L1411.3 864.7L1409.2 862.2L1289.7 838.3L1225.8 826.1L1149.9 813.6L1115.8 809L1085 805.6Z"/>
<path fill="#ff5454" stroke="#ff5454" stroke-width="1.1" d="M1075.2 803L1073.9 802.8L1077.2 804.9L1108.2 808.1L1141.6 812.4L1215.9 824.4L1283.7 837.1L1409.2 862.2L1407 859.8L1283.3 835.2L1217.3 822.8L1177.5 816.1L1141.6 810.7L1107.3 806.3L1075.2 803Z"/>
<path fill="#ff5050" stroke="#ff5050" stroke-width="1.1" d="M1074.3 801.1L1070.5 800.8L1073.9 802.8L1105.2 806L1138.9 810.3L1211.3 821.8L1279.3 834.4L1407 859.8L1404.8 857.3L1280.9 832.9L1216.7 820.9L1141.6 808.9L1106.4 804.4L1074.3 801.1Z"/>
<path fill="#ff4c4c" stroke="#ff4c4c" stroke-width="1.1" d="M1073.4 799.3L1067.1 798.7L1070.5 800.8L1102.1 803.9L1136.1 808.1L1208.8 819.5L1276.8 832.1L1404.8 857.3L1402.7 854.9L1278.5 830.5L1214.2 818.6L1139.4 806.8L1105.5 802.5L1073.4 799.3Z"/>
<path fill="#ff4848" stroke="#ff4848" stroke-width="1.1" d="M1072.5 797.4L1063.7 796.7L1067.1 798.7L1099 801.8L1133.2 806L1206.2 817.3L1274.4 829.7L1402.7 854.9L1400.5 852.4L1278.1 828.6L1213.6 816.7L1138.6 804.9L1104.6 800.7L1072.5 797.4Z"/>
<path fill="#ff4444" stroke="#ff4444" stroke-width="1.1" d="M1062.6 794.8L1060.2 794.6L1063.7 796.7L1095.8 799.7L1128.1 803.5L1163.2 808.5L1203.5 815L1272 827.4L1400.5 852.4L1398.3 849.9L1271.5 825.4L1204.9 813.4L1164.5 806.9L1129.4 801.9L1094.8 797.8L1062.6 794.8Z"/>
<path fill="#ff4040" stroke="#ff4040" stroke-width="1.1" d="M1061.5 792.9L1056.6 792.6L1060.2 794.6L1091 797.4L1125.2 801.4L1160.4 806.3L1198.9 812.4L1267.4 824.7L1398.3 849.9L1396.1 847.4L1269 823.1L1204.3 811.5L1163.8 805L1128.5 800L1093.8 795.9L1061.5 792.9Z"/>
<path fill="#ff3c3c" stroke="#ff3c3c" stroke-width="1.1" d="M1060.3 791L1053 790.5L1056.6 792.6L1089.4 795.4L1122.1 799.2L1157.6 804L1196.2 810.1L1265 822.3L1396.1 847.4L1393.9 844.9L1266.5 820.7L1201.6 809.2L1163 803L1126.1 797.9L1092.8 794L1060.3 791Z"/>
<path fill="#ff3838" stroke="#ff3838" stroke-width="1.1" d="M1050.4 788.5L1049.3 788.4L1053 790.5L1086.1 793.3L1119.1 797L1154.8 801.8L1193.5 807.8L1262.4 819.9L1393.9 844.9L1391.6 842.4L1262 818L1194.9 806.2L1154 799.9L1118.2 795.1L1082.7 791.2L1050.4 788.5Z"/>
<path fill="#ff3434" stroke="#ff3434" stroke-width="1.1" d="M1049.1 786.6L1045.6 786.4L1049.3 788.4L1082.7 791.2L1116 794.8L1151.9 799.6L1190.8 805.5L1259.9 817.6L1391.6 842.4L1389.4 839.9L1261.5 816L1194.2 804.2L1153.1 797.9L1117.2 793.1L1081.7 789.3L1049.1 786.6Z"/>
<path fill="#ff3030" stroke="#ff3030" stroke-width="1.1" d="M1047.8 784.7L1041.8 784.3L1045.6 786.4L1077.2 788.9L1111.6 792.5L1146.9 797L1186 802.9L1255.3 814.8L1389.4 839.9L1387.2 837.3L1256.9 813.2L1191.4 801.9L1152.3 796L1116.3 791.2L1080.6 787.3L1047.8 784.7Z"/>
<path fill="#ff2c2c" stroke="#ff2c2c" stroke-width="1.1" d="M1046.4 782.8L1037.9 782.2L1041.8 784.3L1076.2 786.9L1109.7 790.4L1146 795.1L1184.2 800.8L1254.8 812.8L1387.2 837.3L1384.9 834.8L1256.4 811.2L1190.7 799.9L1151.4 794L1115.3 789.2L1079.4 785.4L1046.4 782.8Z"/>
<path fill="#ff2828" stroke="#ff2828" stroke-width="1.1" d="M1036.2 780.3L1034 780.2L1037.9 782.2L1070.1 784.6L1104.3 788L1141.2 792.6L1180.4 798.3L1250.2 810.1L1384.9 834.8L1382.7 832.2L1251.7 808.4L1183.8 797L1142.1 790.8L1105.5 786.3L1071.3 782.8L1036.2 780.3Z"/>
<path fill="#ff2424" stroke="#ff2424" stroke-width="1.1" d="M1034.7 778.3L1030 778.1L1034 780.2L1066.5 782.4L1101.1 785.8L1137.9 790.3L1175.5 795.7L1247.6 807.7L1382.7 832.2L1380.4 829.6L1249.1 806L1180.9 794.6L1141.1 788.8L1104.5 784.3L1070.1 780.9L1034.7 778.3Z"/>
<path fill="#ff2020" stroke="#ff2020" stroke-width="1.1" d="M1033.1 776.4L1026 776L1030 778.1L1062.6 780.3L1097.8 783.6L1134.9 788L1172.6 793.4L1244.9 805.3L1380.4 829.6L1378.2 827.1L1246.5 803.6L1180.1 792.6L1141.1 787L1103.4 782.3L1066.5 778.7L1033.1 776.4Z"/>
<path fill="#ff1c1c" stroke="#ff1c1c" stroke-width="1.1" d="M1022.8 774L1021.8 773.9L1026 776L1061.3 778.3L1095.2 781.5L1131.8 785.7L1169.7 791L1242.3 802.8L1378.2 827.1L1375.9 824.5L1241.7 800.8L1171 789.3L1130.8 783.7L1094.4 779.5L1058 776.2L1022.8 774Z"/>
<path fill="#ff1818" stroke="#ff1818" stroke-width="1.1" d="M1029.8 772.5L1021 772L1018.9 772.5L1021.8 773.9L1060 776.3L1100.1 780.1L1164.7 788.4L1237.5 800.1L1375.9 824.5L1373.6 821.9L1243.2 799.1L1176.4 788.2L1136.2 782.6L1099 778.1L1064 774.8L1029.8 772.5Z"/>
<path fill="#ff1414" stroke="#ff1414" stroke-width="1.1" d="M1037.4 771L1028.1 770.5L1021 772L1051.7 773.8L1085.3 776.7L1118.9 780.4L1155.4 785.2L1230.6 796.9L1373.6 821.9L1371.3 819.2L1242.7 797L1179.8 786.8L1141.1 781.3L1104.6 776.8L1070 773.4L1037.4 771Z"/>
<path fill="#ff1010" stroke="#ff1010" stroke-width="1.1" d="M1045.6 769.6L1035.8 769L1028.1 770.5L1060.3 772.6L1091 775.4L1158.7 783.7L1232.1 795.2L1371.3 819.2L1369 816.6L1244.2 795.2L1185.2 785.7L1112.4 775.8L1078.8 772.3L1045.6 769.6Z"/>
<path fill="#ff0c0c" stroke="#ff0c0c" stroke-width="1.1" d="M1054.6 768.4L1044.1 767.6L1035.8 769L1096.7 774.1L1162 782.3L1231.5 793.1L1369 816.6L1366.7 814L1190.7 784.6L1117.9 774.6L1054.6 768.4Z"/>
<path fill="#ff0808" stroke="#ff0808" stroke-width="1.1" d="M1064.4 767.3L1053.1 766.4L1044.1 767.6L1102.3 772.8L1165.3 780.8L1233 791.3L1366.7 814L1364.4 811.3L1198.4 783.8L1127.8 773.9L1064.4 767.3Z"/>
<path fill="#ff0404" stroke="#ff0404" stroke-width="1.1" d="M1075.5 766.3L1063.1 765.2L1053.1 766.4L1110.2 771.8L1170.9 779.7L1234.5 789.6L1364.4 811.3L1362.1 808.7L1206.1 783L1135.5 772.9L1075.5 766.3Z"/>
<path fill="#ff0000" stroke="#ff0000" stroke-width="1.1" d="M1088 765.6L1074.3 764.3L1063.1 765.2L1115.7 770.5L1174.2 778.2L1236 787.8L1362.1 808.7L1359.8 806L1218.2 782.9L1147.5 772.5L1088 765.6Z"/>
<path fill="#ff0000" stroke="#ff0000" stroke-width="1.1" d="M1102.5 765.1L1087 763.5L1074.3 764.3L1123.5 769.5L1179.8 777L1237.6 786L1359.8 806L1357.5 803.3L1234.8 783.5L1161.7 772.5L1102.5 765.1Z"/>
<path fill="#ff0000" stroke="#ff0000" stroke-width="1.1" d="M1120.1 765.2L1101.8 763.1L1087 763.5L1133.4 768.7L1185.3 775.9L1357.5 803.3L1355.2 800.6L1201.7 776.3L1120.1 765.2Z"/>
<path fill="#ff0000" stroke="#ff0000" stroke-width="1.1" d="M1142.3 765.9L1119.8 763.1L1101.8 763.1L1145.5 768.3L1193.1 775L1355.2 800.6L1352.8 797.9L1214 776.1L1142.3 765.9Z"/>
<path fill="#ff0000" stroke="#ff0000" stroke-width="1.1" d="M1173.4 768.1L1142.7 764L1119.8 763.1L1201 774.1L1352.8 797.9L1350.5 795.1L1173.4 768.1Z"/>
<path fill="#ff0000" stroke="#ff0000" stroke-width="1.1" d="M1225.6 773.6L1175 766.2L1142.7 764L1213.3 773.9L1350.5 795.1L1348.2 792.4L1225.6 773.6Z"/>
<path fill="#f70000" stroke="#f70000" stroke-width="1.1" d="M1313.5 784.8L1230.5 772.2L1175 766.2L1348.2 792.4L1345.8 789.7L1313.5 784.8Z"/>
<path fill="#db0000" stroke="#db0000" stroke-width="1.1" d="M1344.8 788.4L1343.5 786.9L1317.6 783L1230.5 772.2L1345.8 789.7L1344.8 788.4Z"/>
<path fill="#cd0000" stroke="#cd0000" stroke-width="1.1" d="M1342.6 785.9L1317.6 783L1343.5 786.9L1342.6 785.9Z"/>
<path fill="none" stroke="#000" stroke-opacity="0.55" stroke-width="1" d="M1254.2 965.2L1312.5 981.1L1468.4 1022.7L1544.3 1043.5M1225.8 931.4L1385.4 970.8L1521.8 1006M1193 896.8L1252.7 909.5L1323.5 925.7L1401.7 944.3L1495.5 967.5M1154.3 861.3L1210.1 871.3L1277 884.9L1351.7 901.4L1464.9 927.6M1107.3 824.9L1134.1 828.3L1164 832.8L1230 844.3L1302.3 858.7L1429.8 885.8M1047.8 787.6L1079.1 790.1L1110.4 793.4L1144.5 797.8L1179.5 803L1252.7 815.5L1390.7 841.4"/>
<line x1="1033.1" y1="1131.9" x2="1338" y2="1244.2" stroke="#333" stroke-width="1.6"/>
<line x1="1338" y1="1244.2" x2="1580" y2="1116.1" stroke="#333" stroke-width="1.6"/>
<line x1="1580" y1="1116.1" x2="1598.7" y2="735" stroke="#333" stroke-width="1.6"/>
<line x1="1294.6" y1="1228.2" x2="1300.4" y2="1225.3" stroke="#333" stroke-width="1.6"/>
<line x1="1253" y1="1212.9" x2="1265.2" y2="1207" stroke="#333" stroke-width="1.6"/>
<line x1="1212.9" y1="1198.1" x2="1218.7" y2="1195.4" stroke="#333" stroke-width="1.6"/>
<line x1="1174.2" y1="1183.9" x2="1186.6" y2="1178.4" stroke="#333" stroke-width="1.6"/>
<line x1="1137" y1="1170.2" x2="1142.9" y2="1167.7" stroke="#333" stroke-width="1.6"/>
<line x1="1101.2" y1="1157" x2="1113.6" y2="1151.9" stroke="#333" stroke-width="1.6"/>
<line x1="1066.5" y1="1144.2" x2="1072.5" y2="1141.9" stroke="#333" stroke-width="1.6"/>
<line x1="1373.2" y1="1225.6" x2="1364.8" y2="1222.6" stroke="#333" stroke-width="1.6"/>
<line x1="1406.7" y1="1207.8" x2="1392.2" y2="1202.8" stroke="#333" stroke-width="1.6"/>
<line x1="1438.8" y1="1190.8" x2="1430.6" y2="1188.1" stroke="#333" stroke-width="1.6"/>
<line x1="1469.5" y1="1174.6" x2="1455.2" y2="1170" stroke="#333" stroke-width="1.6"/>
<line x1="1498.9" y1="1159" x2="1490.8" y2="1156.5" stroke="#333" stroke-width="1.6"/>
<line x1="1527.1" y1="1144.1" x2="1513" y2="1139.9" stroke="#333" stroke-width="1.6"/>
<line x1="1554.1" y1="1129.8" x2="1546.1" y2="1127.5" stroke="#333" stroke-width="1.6"/>
<line x1="1580" y1="1116.1" x2="1566.9" y2="1112.4" stroke="#333" stroke-width="1.6"/>
<line x1="1584.5" y1="1025" x2="1571.2" y2="1021.8" stroke="#333" stroke-width="1.6"/>
<line x1="1589.1" y1="931.2" x2="1575.5" y2="928.5" stroke="#333" stroke-width="1.6"/>
<line x1="1593.8" y1="834.6" x2="1580" y2="832.4" stroke="#333" stroke-width="1.6"/>
<line x1="1598.7" y1="735" x2="1584.7" y2="733.3" stroke="#333" stroke-width="1.6"/>
<text x="1588" y="1119.1" font-size="24.5" text-anchor="start">106</text>
<text x="1592.5" y="1028" font-size="24.5" text-anchor="start">108</text>
<text x="1597.1" y="934.2" font-size="24.5" text-anchor="start">110</text>
<text x="1601.8" y="837.6" font-size="24.5" text-anchor="start">112</text>
<text x="1606.7" y="738" font-size="24.5" text-anchor="start">114</text>
<text x="1015.9" y="1159.9" font-size="26" text-anchor="middle">40</text>
<text x="1085.5" y="1186.1" font-size="26" text-anchor="middle">30</text>
<text x="1159.1" y="1214.2" font-size="26" text-anchor="middle">20</text>
<text x="1240.6" y="1244.5" font-size="26" text-anchor="middle">10</text>
<text x="1341.6" y="1276.9" font-size="26" text-anchor="middle" letter-spacing="1">00</text>
<text x="1418.5" y="1239.7" font-size="26" text-anchor="middle">1</text>
<text x="1482.6" y="1204.3" font-size="26" text-anchor="middle">2</text>
<text x="1540.9" y="1172.7" font-size="26" text-anchor="middle">3</text>
<text x="1593.5" y="1144" font-size="26" text-anchor="middle">4</text>
<linearGradient id="gd" x1="0" y1="0" x2="0" y2="1"><stop offset="0.0000" stop-color="#cd0000"/><stop offset="0.0167" stop-color="#ff0000"/><stop offset="0.0333" stop-color="#ff0000"/><stop offset="0.0500" stop-color="#ff0000"/><stop offset="0.0667" stop-color="#ff0a0a"/><stop offset="0.0833" stop-color="#ff1414"/><stop offset="0.1000" stop-color="#ff1e1e"/><stop offset="0.1167" stop-color="#ff2828"/><stop offset="0.1333" stop-color="#ff3232"/><stop offset="0.1500" stop-color="#ff3c3c"/><stop offset="0.1667" stop-color="#ff4646"/><stop offset="0.1833" stop-color="#ff5050"/><stop offset="0.2000" stop-color="#ff5a5a"/><stop offset="0.2167" stop-color="#ff6464"/><stop offset="0.2333" stop-color="#ff6e6e"/><stop offset="0.2500" stop-color="#ff7878"/><stop offset="0.2667" stop-color="#ff8282"/><stop offset="0.2833" stop-color="#ff8c8c"/><stop offset="0.3000" stop-color="#ff9696"/><stop offset="0.3167" stop-color="#ffa0a0"/><stop offset="0.3333" stop-color="#ffaaaa"/><stop offset="0.3500" stop-color="#ffb4b4"/><stop offset="0.3667" stop-color="#ffbebe"/><stop offset="0.3833" stop-color="#ffc8c8"/><stop offset="0.4000" stop-color="#ffd2d2"/><stop offset="0.4167" stop-color="#ffdcdc"/><stop offset="0.4333" stop-color="#ffe6e6"/><stop offset="0.4500" stop-color="#fff0f0"/><stop offset="0.4667" stop-color="#fffafa"/><stop offset="0.4750" stop-color="#ffffff"/><stop offset="0.4833" stop-color="#ffffff"/><stop offset="0.5000" stop-color="#ffffff"/><stop offset="0.5167" stop-color="#ffffff"/><stop offset="0.5170" stop-color="#ffffff"/><stop offset="0.5333" stop-color="#f6f6ff"/><stop offset="0.5500" stop-color="#eeeeff"/><stop offset="0.5667" stop-color="#e5e5ff"/><stop offset="0.5833" stop-color="#dcdcff"/><stop offset="0.6000" stop-color="#d3d3ff"/><stop offset="0.6167" stop-color="#cacaff"/><stop offset="0.6333" stop-color="#c2c2ff"/><stop offset="0.6500" stop-color="#b9b9ff"/><stop offset="0.6667" stop-color="#b0b0ff"/><stop offset="0.6833" stop-color="#a7a7ff"/><stop offset="0.7000" stop-color="#9e9eff"/><stop offset="0.7167" stop-color="#9696ff"/><stop offset="0.7333" stop-color="#8d8dff"/><stop offset="0.7500" stop-color="#8484ff"/><stop offset="0.7667" stop-color="#7b7bff"/><stop offset="0.7833" stop-color="#7272ff"/><stop offset="0.8000" stop-color="#6a6aff"/><stop offset="0.8167" stop-color="#6161ff"/><stop offset="0.8333" stop-color="#5858ff"/><stop offset="0.8500" stop-color="#4f4fff"/><stop offset="0.8667" stop-color="#4646ff"/><stop offset="0.8833" stop-color="#3e3eff"/><stop offset="0.9000" stop-color="#3535ff"/><stop offset="0.9167" stop-color="#2c2cff"/><stop offset="0.9333" stop-color="#2323ff"/><stop offset="0.9500" stop-color="#1a1aff"/><stop offset="0.9667" stop-color="#1212ff"/><stop offset="0.9833" stop-color="#0909ff"/><stop offset="1.0000" stop-color="#0000ff"/></linearGradient>
<rect x="891.8" y="776.2" width="46.9" height="370.2" fill="url(#gd)"/>
<text x="949.7" y="1150.4" font-size="23.3" text-anchor="start">106</text>
<text x="949.7" y="1105.4" font-size="23.3" text-anchor="start">107</text>
<text x="949.7" y="1060.4" font-size="23.3" text-anchor="start">108</text>
<text x="949.7" y="1015.4" font-size="23.3" text-anchor="start">109</text>
<text x="949.7" y="970.4" font-size="23.3" text-anchor="start">110</text>
<text x="949.7" y="925.4" font-size="23.3" text-anchor="start">111</text>
<text x="949.7" y="880.4" font-size="23.3" text-anchor="start">112</text>
<text x="949.7" y="835.4" font-size="23.3" text-anchor="start">113</text>
<text x="949.7" y="790.4" font-size="23.3" text-anchor="start">114</text>
<text x="860" y="758.5" font-size="29" xml:space="preserve"><tspan font-style="italic">S</tspan> (<tspan dx="0">J K</tspan><tspan font-size="16" dy="-12.2">-1</tspan><tspan dx="1.5" dy="12.2"> kg</tspan><tspan font-size="16" dy="-12.2">-1</tspan><tspan dx="3" dy="12.2">)</tspan></text>
<text transform="translate(1680.4 1001) rotate(-90)" font-size="27.3" xml:space="preserve"><tspan font-style="italic">S</tspan> (<tspan dx="0">J K</tspan><tspan font-size="15" dy="-11.5">-1</tspan><tspan dx="0" dy="11.5"> kg</tspan><tspan font-size="15" dy="-11.5">-1</tspan><tspan dx="0" dy="11.5"> )</tspan></text>
<text x="1243" y="742.6" font-size="30">(d)</text>
<text x="1378.4" y="758.6" font-size="29.5"><tspan font-style="italic">T</tspan> = 304 K</text>
<line x1="1011" y1="1208.8" x2="1234.4" y2="1300.3" stroke="#000" stroke-width="3.2"/>
<path fill="#000" d="M1250.1 1306.7L1222.4 1308.3L1233.4 1299.9L1231.5 1286.1Z"/>
<line x1="1407" y1="1303.6" x2="1619.6" y2="1188.5" stroke="#000" stroke-width="3.2"/>
<path fill="#000" d="M1634.6 1180.4L1618.3 1202.9L1618.8 1189L1606.9 1181.7Z"/>
<text transform="translate(1061.6 1214.3) rotate(22.2)" font-size="29">Stress (MPa)</text>
<text transform="translate(1407.5 1287.3) rotate(-28.6)" font-size="29.2">Magnetic field (T)</text>
</g>
</svg></body></html>
